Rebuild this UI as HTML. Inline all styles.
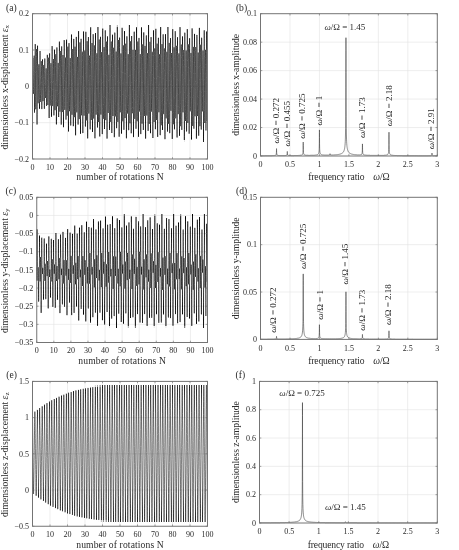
<!DOCTYPE html><html><head><meta charset="utf-8"><title>figure</title>
<style>html,body{margin:0;padding:0;background:#fff}svg{display:block}.t{font-family:"Liberation Serif", "DejaVu Serif", serif;font-size:8px;fill:#2a2a2a}.l{font-family:"Liberation Serif", "DejaVu Serif", serif;font-size:9.6px;fill:#2a2a2a}.a{font-family:"Liberation Serif", "DejaVu Serif", serif;font-size:9px;fill:#2a2a2a}.gr{stroke:#e2e2e2;stroke-width:0.6}.tk{stroke:#666;stroke-width:0.6}.box{fill:none;stroke:#747474;stroke-width:1}.sig{fill:none;stroke:#000;stroke-width:0.5;stroke-linejoin:round}.sp{fill:none;stroke:#3a3a3a;stroke-width:0.58;stroke-linejoin:round}</style></head><body>
<svg width="459" height="550" viewBox="0 0 459 550">
<rect width="459" height="550" fill="#fff"/>
<defs><filter id="sh" x="0" y="0" width="1" height="1" filterUnits="objectBoundingBox" color-interpolation-filters="sRGB"><feConvolveMatrix order="3 1" kernelMatrix="-0.2 1.4 -0.2" divisor="1" edgeMode="duplicate" preserveAlpha="false"/></filter><filter id="sh2" x="0" y="0" width="1" height="1" filterUnits="objectBoundingBox" color-interpolation-filters="sRGB"><feConvolveMatrix order="3 1" kernelMatrix="-0.15 1.3 -0.15" divisor="1" edgeMode="duplicate" preserveAlpha="false"/></filter></defs>
<line x1="50.00" y1="13.7" x2="50.00" y2="159.0" class="gr"/>
<line x1="67.50" y1="13.7" x2="67.50" y2="159.0" class="gr"/>
<line x1="85.00" y1="13.7" x2="85.00" y2="159.0" class="gr"/>
<line x1="102.50" y1="13.7" x2="102.50" y2="159.0" class="gr"/>
<line x1="120.00" y1="13.7" x2="120.00" y2="159.0" class="gr"/>
<line x1="137.50" y1="13.7" x2="137.50" y2="159.0" class="gr"/>
<line x1="155.00" y1="13.7" x2="155.00" y2="159.0" class="gr"/>
<line x1="172.50" y1="13.7" x2="172.50" y2="159.0" class="gr"/>
<line x1="190.00" y1="13.7" x2="190.00" y2="159.0" class="gr"/>
<line x1="32.5" y1="122.67" x2="207.5" y2="122.67" class="gr"/>
<line x1="32.5" y1="86.35" x2="207.5" y2="86.35" class="gr"/>
<line x1="32.5" y1="50.02" x2="207.5" y2="50.02" class="gr"/>
<polyline points="32.50,74.2 32.55,70.6 32.60,67.0 32.65,63.7 32.69,60.9 32.74,58.9 32.79,57.9 32.84,58.0 32.89,59.2 32.94,61.4 32.99,64.6 33.03,68.5 33.08,72.9 33.13,77.6 33.18,82.0 33.23,86.1 33.28,89.5 33.33,92.0 33.38,93.6 33.42,94.0 33.47,93.4 33.52,91.8 33.57,89.4 33.62,86.3 33.67,82.8 33.72,78.8 33.76,74.7 33.81,70.5 33.86,66.5 33.91,62.8 33.96,59.6 34.01,57.1 34.06,55.7 34.10,55.6 34.15,57.1 34.20,60.2 34.25,65.1 34.30,71.6 34.35,79.2 34.40,87.2 34.44,95.1 34.49,102.1 34.54,107.7 34.59,111.4 34.64,112.6 34.69,111.4 34.74,107.7 34.78,101.7 34.83,94.0 34.88,85.2 34.93,75.8 34.98,66.7 35.03,58.5 35.08,51.7 35.12,46.9 35.17,44.3 35.22,44.1 35.27,46.3 35.32,50.6 35.37,56.7 35.42,64.1 35.47,72.4 35.51,81.0 35.56,89.1 35.61,96.4 35.66,102.3 35.71,106.6 35.76,108.9 35.81,109.3 35.85,107.7 35.90,104.5 35.95,99.9 36.00,94.2 36.05,87.7 36.10,81.0 36.15,74.2 36.19,67.7 36.24,61.7 36.29,56.6 36.34,52.6 36.39,49.9 36.44,48.9 36.49,49.6 36.53,52.3 36.58,56.9 36.63,63.4 36.68,71.5 36.73,80.8 36.78,90.8 36.83,100.6 36.88,109.7 36.92,117.0 36.97,122.1 37.02,124.5 37.07,124.1 37.12,120.7 37.17,114.7 37.22,106.6 37.26,96.9 37.31,86.5 37.36,76.1 37.41,66.4 37.46,58.1 37.51,51.6 37.56,47.4 37.60,45.7 37.65,46.3 37.70,49.2 37.75,54.0 37.80,60.3 37.85,67.6 37.90,75.2 37.94,82.7 37.99,89.6 38.04,95.3 38.09,99.6 38.14,102.3 38.19,103.3 38.24,102.8 38.28,100.9 38.33,97.9 38.38,94.1 38.43,89.9 38.48,85.4 38.53,81.0 38.58,76.8 38.62,73.1 38.67,69.8 38.72,67.2 38.77,65.4 38.82,64.4 38.87,64.3 38.92,65.4 38.97,67.6 39.01,71.0 39.06,75.5 39.11,80.7 39.16,86.6 39.21,92.5 39.26,98.2 39.31,103.0 39.35,106.6 39.40,108.6 39.45,108.8 39.50,107.0 39.55,103.5 39.60,98.4 39.65,92.0 39.69,84.7 39.74,77.2 39.79,69.9 39.84,63.2 39.89,57.8 39.94,53.8 39.99,51.5 40.03,51.0 40.08,52.3 40.13,55.3 40.18,59.6 40.23,65.1 40.28,71.2 40.33,77.7 40.38,83.9 40.42,89.7 40.47,94.6 40.52,98.3 40.57,100.8 40.62,101.9 40.67,101.8 40.72,100.5 40.76,98.1 40.81,95.0 40.86,91.2 40.91,87.1 40.96,82.7 41.01,78.3 41.06,74.1 41.10,70.1 41.15,66.7 41.20,63.9 41.25,62.0 41.30,61.1 41.35,61.5 41.40,63.3 41.44,66.5 41.49,70.9 41.54,76.4 41.59,82.6 41.64,89.0 41.69,95.3 41.74,100.9 41.78,105.3 41.83,108.1 41.88,109.1 41.93,108.2 41.98,105.5 42.03,101.2 42.08,95.5 42.12,89.1 42.17,82.3 42.22,75.7 42.27,69.8 42.32,64.9 42.37,61.4 42.42,59.6 42.47,59.4 42.51,60.8 42.56,63.8 42.61,68.0 42.66,73.1 42.71,78.7 42.76,84.3 42.81,89.6 42.85,94.2 42.90,97.8 42.95,100.1 43.00,101.2 43.05,100.9 43.10,99.5 43.15,97.0 43.19,93.8 43.24,90.0 43.29,85.9 43.34,81.8 43.39,77.8 43.44,74.1 43.49,70.8 43.53,68.2 43.58,66.3 43.63,65.2 43.68,65.1 43.73,66.1 43.78,68.1 43.83,71.3 43.88,75.4 43.92,80.4 43.97,85.9 44.02,91.6 44.07,97.0 44.12,101.8 44.17,105.6 44.22,108.0 44.26,108.8 44.31,107.9 44.36,105.4 44.41,101.3 44.46,96.1 44.51,90.0 44.56,83.6 44.60,77.2 44.65,71.3 44.70,66.2 44.75,62.4 44.80,59.7 44.85,58.5 44.90,58.9 44.94,60.6 44.99,63.6 45.04,67.7 45.09,72.4 45.14,77.5 45.19,82.6 45.24,87.4 45.28,91.4 45.33,94.6 45.38,96.8 45.43,97.9 45.48,98.0 45.53,97.2 45.58,95.5 45.62,93.2 45.67,90.5 45.72,87.6 45.77,84.5 45.82,81.3 45.87,78.3 45.92,75.5 45.97,72.9 46.01,70.8 46.06,69.2 46.11,68.4 46.16,68.4 46.21,69.5 46.26,71.7 46.31,74.9 46.35,79.1 46.40,83.9 46.45,89.1 46.50,94.2 46.55,98.9 46.60,102.6 46.65,105.0 46.69,105.9 46.74,105.1 46.79,102.6 46.84,98.5 46.89,93.2 46.94,86.9 46.99,80.2 47.03,73.5 47.08,67.3 47.13,62.0 47.18,58.0 47.23,55.6 47.28,54.8 47.33,55.9 47.38,58.6 47.42,62.7 47.47,68.1 47.52,74.2 47.57,80.7 47.62,87.1 47.67,93.0 47.72,97.9 47.76,101.7 47.81,104.0 47.86,105.0 47.91,104.5 47.96,102.7 48.01,99.7 48.06,95.9 48.10,91.3 48.15,86.4 48.20,81.2 48.25,76.1 48.30,71.1 48.35,66.6 48.40,62.8 48.44,59.8 48.49,58.0 48.54,57.6 48.59,58.7 48.64,61.4 48.69,65.8 48.74,71.7 48.78,78.8 48.83,86.6 48.88,94.6 48.93,102.2 48.98,108.9 49.03,114.0 49.08,117.1 49.12,118.0 49.17,116.6 49.22,112.9 49.27,107.2 49.32,99.9 49.37,91.7 49.42,83.0 49.47,74.6 49.51,67.0 49.56,60.7 49.61,56.2 49.66,53.7 49.71,53.3 49.76,55.1 49.81,58.8 49.85,64.1 49.90,70.6 49.95,77.7 50.00,84.8 50.05,91.5 50.10,97.2 50.15,101.6 50.19,104.5 50.24,105.6 50.29,105.2 50.34,103.4 50.39,100.4 50.44,96.5 50.49,92.0 50.53,87.3 50.58,82.5 50.63,77.9 50.68,73.7 50.73,70.0 50.78,66.9 50.83,64.6 50.88,63.3 50.92,63.2 50.97,64.3 51.02,66.7 51.07,70.5 51.12,75.6 51.17,81.7 51.22,88.5 51.26,95.6 51.31,102.4 51.36,108.4 51.41,113.0 51.46,115.9 51.51,116.7 51.56,115.2 51.60,111.6 51.65,105.9 51.70,98.6 51.75,90.2 51.80,81.3 51.85,72.3 51.90,64.0 51.94,56.8 51.99,51.2 52.04,47.6 52.09,46.1 52.14,46.7 52.19,49.5 52.24,54.1 52.28,60.2 52.33,67.3 52.38,74.9 52.43,82.5 52.48,89.6 52.53,95.7 52.58,100.6 52.62,104.0 52.67,105.9 52.72,106.2 52.77,105.2 52.82,103.0 52.87,99.8 52.92,95.9 52.97,91.4 53.01,86.6 53.06,81.7 53.11,76.7 53.16,71.9 53.21,67.5 53.26,63.7 53.31,60.9 53.35,59.2 53.40,59.0 53.45,60.4 53.50,63.5 53.55,68.3 53.60,74.5 53.65,81.7 53.69,89.4 53.74,97.1 53.79,104.1 53.84,109.8 53.89,113.6 53.94,115.4 53.99,114.8 54.03,111.8 54.08,106.7 54.13,99.9 54.18,91.8 54.23,83.0 54.28,74.2 54.33,66.1 54.38,59.1 54.42,53.9 54.47,50.7 54.52,49.7 54.57,51.1 54.62,54.7 54.67,60.2 54.72,67.1 54.76,74.9 54.81,83.1 54.86,91.0 54.91,98.0 54.96,103.7 55.01,107.7 55.06,109.9 55.10,110.2 55.15,108.8 55.20,105.8 55.25,101.5 55.30,96.2 55.35,90.4 55.40,84.2 55.44,78.0 55.49,72.0 55.54,66.5 55.59,61.7 55.64,57.9 55.69,55.3 55.74,54.2 55.78,54.7 55.83,57.1 55.88,61.3 55.93,67.3 55.98,74.8 56.03,83.3 56.08,92.5 56.12,101.6 56.17,109.9 56.22,116.8 56.27,121.8 56.32,124.4 56.37,124.4 56.42,121.7 56.47,116.5 56.51,109.3 56.56,100.4 56.61,90.6 56.66,80.5 56.71,70.8 56.76,62.2 56.81,55.2 56.85,50.2 56.90,47.6 56.95,47.4 57.00,49.5 57.05,53.9 57.10,59.9 57.15,67.2 57.19,75.1 57.24,83.0 57.29,90.3 57.34,96.7 57.39,101.6 57.44,104.9 57.49,106.4 57.53,106.4 57.58,104.9 57.63,102.3 57.68,98.8 57.73,94.6 57.78,90.2 57.83,85.6 57.88,81.0 57.92,76.6 57.97,72.5 58.02,68.9 58.07,66.0 58.12,63.9 58.17,62.9 58.22,63.3 58.26,65.1 58.31,68.4 58.36,73.1 58.41,79.2 58.46,86.1 58.51,93.5 58.56,100.8 58.60,107.3 58.65,112.4 58.70,115.8 58.75,117.0 58.80,115.8 58.85,112.3 58.90,106.6 58.94,99.0 58.99,90.2 59.04,80.5 59.09,70.8 59.14,61.7 59.19,53.7 59.24,47.5 59.28,43.3 59.33,41.6 59.38,42.4 59.43,45.6 59.48,51.0 59.53,58.1 59.58,66.5 59.62,75.4 59.67,84.4 59.72,92.8 59.77,100.0 59.82,105.6 59.87,109.5 59.92,111.5 59.97,111.7 60.01,110.1 60.06,107.1 60.11,102.8 60.16,97.6 60.21,91.7 60.26,85.3 60.31,78.7 60.35,72.2 60.40,66.0 60.45,60.4 60.50,55.8 60.55,52.5 60.60,50.9 60.65,51.2 60.69,53.7 60.74,58.4 60.79,65.0 60.84,73.3 60.89,82.7 60.94,92.6 60.99,102.3 61.03,110.9 61.08,117.9 61.13,122.6 61.18,124.6 61.23,123.8 61.28,120.1 61.33,114.0 61.38,105.8 61.42,96.1 61.47,85.6 61.52,75.2 61.57,65.6 61.62,57.4 61.67,51.2 61.72,47.5 61.76,46.4 61.81,48.1 61.86,52.3 61.91,58.7 61.96,66.6 62.01,75.5 62.06,84.5 62.10,93.1 62.15,100.6 62.20,106.4 62.25,110.4 62.30,112.2 62.35,111.9 62.40,109.8 62.44,106.1 62.49,101.2 62.54,95.5 62.59,89.2 62.64,82.9 62.69,76.7 62.74,70.8 62.78,65.5 62.83,61.1 62.88,57.7 62.93,55.6 62.98,55.0 63.03,56.2 63.08,59.2 63.12,64.0 63.17,70.6 63.22,78.6 63.27,87.5 63.32,96.9 63.37,106.1 63.42,114.3 63.47,120.9 63.51,125.3 63.56,127.2 63.61,126.4 63.66,122.8 63.71,116.6 63.76,108.3 63.81,98.3 63.85,87.4 63.90,76.2 63.95,65.6 64.00,56.1 64.05,48.4 64.10,43.0 64.15,40.2 64.19,40.1 64.24,42.6 64.29,47.5 64.34,54.4 64.39,62.6 64.44,71.6 64.49,80.7 64.53,89.2 64.58,96.7 64.63,102.6 64.68,106.8 64.73,109.2 64.78,109.9 64.83,108.9 64.88,106.7 64.92,103.4 64.97,99.2 65.02,94.5 65.07,89.3 65.12,83.9 65.17,78.5 65.22,73.1 65.26,68.1 65.31,63.7 65.36,60.2 65.41,58.1 65.46,57.5 65.51,58.8 65.56,61.9 65.60,67.0 65.65,73.7 65.70,81.6 65.75,90.1 65.80,98.7 65.85,106.6 65.90,113.0 65.94,117.6 65.99,119.7 66.04,119.2 66.09,116.0 66.14,110.4 66.19,102.5 66.24,93.1 66.28,82.7 66.33,72.1 66.38,62.0 66.43,53.1 66.48,46.1 66.53,41.5 66.58,39.7 66.62,40.6 66.67,44.4 66.72,50.6 66.77,58.8 66.82,68.3 66.87,78.4 66.92,88.3 66.97,97.4 67.01,105.0 67.06,110.7 67.11,114.3 67.16,115.7 67.21,115.0 67.26,112.3 67.31,108.0 67.35,102.4 67.40,95.8 67.45,88.6 67.50,81.1 67.55,73.5 67.60,66.3 67.65,59.7 67.69,54.0 67.74,49.8 67.79,47.2 67.84,46.6 67.89,48.3 67.94,52.4 67.99,58.8 68.03,67.1 68.08,77.1 68.13,88.0 68.18,99.1 68.23,109.6 68.28,118.7 68.33,125.7 68.38,130.1 68.42,131.5 68.47,129.8 68.52,125.1 68.57,117.8 68.62,108.3 68.67,97.3 68.72,85.7 68.76,74.2 68.81,63.6 68.86,54.7 68.91,48.0 68.96,44.1 69.01,43.1 69.06,45.0 69.10,49.5 69.15,56.3 69.20,64.7 69.25,74.0 69.30,83.4 69.35,92.2 69.40,99.7 69.44,105.6 69.49,109.5 69.54,111.3 69.59,111.1 69.64,109.2 69.69,105.9 69.74,101.5 69.78,96.3 69.83,90.8 69.88,85.1 69.93,79.4 69.98,74.1 70.03,69.1 70.08,64.8 70.12,61.4 70.17,59.1 70.22,58.1 70.27,58.8 70.32,61.3 70.37,65.5 70.42,71.5 70.47,79.0 70.51,87.4 70.56,96.4 70.61,105.1 70.66,113.0 70.71,119.4 70.76,123.7 70.81,125.5 70.85,124.5 70.90,120.8 70.95,114.6 71.00,106.0 71.05,95.8 71.10,84.5 71.15,72.8 71.19,61.6 71.24,51.6 71.29,43.4 71.34,37.6 71.39,34.6 71.44,34.5 71.49,37.4 71.53,42.9 71.58,50.6 71.63,59.9 71.68,70.1 71.73,80.4 71.78,90.2 71.83,98.8 71.88,105.8 71.92,110.8 71.97,113.8 72.02,114.8 72.07,114.0 72.12,111.5 72.17,107.7 72.22,102.7 72.26,96.8 72.31,90.3 72.36,83.3 72.41,76.2 72.46,69.1 72.51,62.5 72.56,56.8 72.60,52.4 72.65,49.7 72.70,49.0 72.75,50.7 72.80,54.8 72.85,61.1 72.90,69.4 72.94,79.2 72.99,89.7 73.04,100.1 73.09,109.7 73.14,117.6 73.19,123.3 73.24,126.2 73.28,126.1 73.33,122.9 73.38,116.9 73.43,108.3 73.48,97.9 73.53,86.4 73.58,74.6 73.62,63.3 73.67,53.5 73.72,45.8 73.77,40.8 73.82,38.9 73.87,40.2 73.92,44.5 73.97,51.5 74.01,60.5 74.06,70.9 74.11,81.6 74.16,92.0 74.21,101.2 74.26,108.7 74.31,114.0 74.35,116.8 74.40,117.3 74.45,115.5 74.50,111.8 74.55,106.5 74.60,100.0 74.65,92.7 74.69,85.1 74.74,77.3 74.79,69.7 74.84,62.7 74.89,56.6 74.94,51.7 74.99,48.3 75.03,46.7 75.08,47.3 75.13,50.3 75.18,55.5 75.23,63.0 75.28,72.3 75.33,83.0 75.38,94.4 75.42,105.6 75.47,116.0 75.52,124.8 75.57,131.2 75.62,134.8 75.67,135.3 75.72,132.6 75.76,126.8 75.81,118.3 75.86,107.7 75.91,95.6 75.96,82.9 76.01,70.4 76.06,59.0 76.10,49.4 76.15,42.3 76.20,38.0 76.25,36.9 76.30,39.0 76.35,43.9 76.40,51.1 76.44,60.1 76.49,70.1 76.54,80.1 76.59,89.6 76.64,97.9 76.69,104.5 76.74,109.1 76.78,111.8 76.83,112.4 76.88,111.4 76.93,108.9 76.98,105.3 77.03,100.8 77.08,95.7 77.12,90.2 77.17,84.4 77.22,78.6 77.27,73.0 77.32,67.7 77.37,63.1 77.42,59.5 77.47,57.3 77.51,56.8 77.56,58.3 77.61,61.8 77.66,67.2 77.71,74.5 77.76,83.0 77.81,92.2 77.85,101.4 77.90,109.9 77.95,117.0 78.00,122.1 78.05,124.6 78.10,124.2 78.15,121.0 78.19,114.9 78.24,106.4 78.29,95.9 78.34,84.1 78.39,71.8 78.44,59.9 78.49,49.2 78.53,40.4 78.58,34.2 78.63,31.1 78.68,31.3 78.73,34.7 78.78,41.1 78.83,49.9 78.88,60.5 78.92,71.9 78.97,83.4 79.02,94.1 79.07,103.5 79.12,110.9 79.17,116.0 79.22,118.8 79.26,119.2 79.31,117.5 79.36,114.0 79.41,108.8 79.46,102.3 79.51,94.9 79.56,86.8 79.60,78.3 79.65,69.9 79.70,61.8 79.75,54.5 79.80,48.6 79.85,44.4 79.90,42.4 79.94,42.9 79.99,46.1 80.04,51.9 80.09,60.2 80.14,70.4 80.19,81.9 80.24,94.0 80.28,105.8 80.33,116.4 80.38,125.0 80.43,130.9 80.48,133.8 80.53,133.3 80.58,129.5 80.62,122.6 80.67,113.1 80.72,101.7 80.77,89.1 80.82,76.4 80.87,64.3 80.92,53.9 80.97,45.8 81.01,40.7 81.06,38.8 81.11,40.3 81.16,44.9 81.21,52.2 81.26,61.5 81.31,72.0 81.35,82.7 81.40,92.8 81.45,101.6 81.50,108.5 81.55,113.1 81.60,115.4 81.65,115.4 81.69,113.3 81.74,109.5 81.79,104.4 81.84,98.3 81.89,91.6 81.94,84.7 81.99,77.8 82.03,71.2 82.08,65.0 82.13,59.7 82.18,55.5 82.23,52.7 82.28,51.6 82.33,52.4 82.38,55.4 82.42,60.5 82.47,67.6 82.52,76.4 82.57,86.3 82.62,96.8 82.67,107.2 82.72,116.7 82.76,124.5 82.81,130.2 82.86,133.1 82.91,133.0 82.96,129.9 83.01,123.8 83.06,115.0 83.10,104.2 83.15,91.8 83.20,78.8 83.25,66.0 83.30,54.3 83.35,44.4 83.40,37.0 83.44,32.6 83.49,31.5 83.54,33.6 83.59,38.8 83.64,46.5 83.69,56.1 83.74,66.7 83.78,77.6 83.83,88.0 83.88,97.2 83.93,104.8 83.98,110.5 84.03,114.1 84.08,115.7 84.12,115.4 84.17,113.5 84.22,110.2 84.27,105.7 84.32,100.3 84.37,94.1 84.42,87.3 84.47,80.2 84.51,73.0 84.56,66.1 84.61,60.0 84.66,55.0 84.71,51.7 84.76,50.5 84.81,51.5 84.85,55.0 84.90,60.7 84.95,68.6 85.00,78.0 85.05,88.2 85.10,98.6 85.15,108.4 85.19,116.7 85.24,122.8 85.29,126.2 85.34,126.6 85.39,123.9 85.44,118.0 85.49,109.5 85.53,98.7 85.58,86.5 85.63,73.7 85.68,61.2 85.73,50.0 85.78,40.9 85.83,34.7 85.88,31.8 85.92,32.3 85.97,36.4 86.02,43.5 86.07,53.1 86.12,64.3 86.17,76.2 86.22,88.0 86.26,98.7 86.31,107.7 86.36,114.5 86.41,118.8 86.46,120.5 86.51,119.7 86.56,116.8 86.60,111.9 86.65,105.6 86.70,98.1 86.75,89.8 86.80,81.1 86.85,72.3 86.90,63.9 86.94,56.1 86.99,49.6 87.04,44.6 87.09,41.7 87.14,41.2 87.19,43.3 87.24,48.0 87.28,55.3 87.33,64.9 87.38,76.1 87.43,88.3 87.48,100.7 87.53,112.5 87.58,122.8 87.62,130.9 87.67,136.3 87.72,138.4 87.77,137.1 87.82,132.5 87.87,124.8 87.92,114.5 87.97,102.4 88.01,89.2 88.06,75.9 88.11,63.4 88.16,52.7 88.21,44.4 88.26,39.1 88.31,37.1 88.35,38.6 88.40,43.2 88.45,50.4 88.50,59.6 88.55,69.9 88.60,80.4 88.65,90.2 88.69,98.9 88.74,105.7 88.79,110.4 88.84,113.0 88.89,113.6 88.94,112.3 88.99,109.4 89.03,105.4 89.08,100.5 89.13,95.0 89.18,89.0 89.23,82.9 89.28,76.7 89.33,70.8 89.38,65.5 89.42,60.9 89.47,57.5 89.52,55.6 89.57,55.5 89.62,57.5 89.67,61.5 89.72,67.5 89.76,75.3 89.81,84.3 89.86,94.0 89.91,103.7 89.96,112.8 90.01,120.5 90.06,126.1 90.10,129.2 90.15,129.4 90.20,126.5 90.25,120.7 90.30,112.1 90.35,101.3 90.40,88.8 90.44,75.6 90.49,62.5 90.54,50.4 90.59,40.2 90.64,32.6 90.69,28.2 90.74,27.3 90.78,29.9 90.83,35.7 90.88,44.2 90.93,54.7 90.98,66.3 91.03,78.3 91.08,89.7 91.12,99.8 91.17,108.2 91.22,114.5 91.27,118.4 91.32,120.1 91.37,119.7 91.42,117.3 91.47,113.2 91.51,107.6 91.56,100.9 91.61,93.1 91.66,84.7 91.71,76.1 91.76,67.4 91.81,59.4 91.85,52.5 91.90,47.1 91.95,43.8 92.00,43.0 92.05,44.9 92.10,49.5 92.15,56.7 92.19,66.1 92.24,77.0 92.29,88.8 92.34,100.5 92.39,111.4 92.44,120.7 92.49,127.5 92.53,131.4 92.58,132.0 92.63,129.2 92.68,123.1 92.73,114.1 92.78,102.8 92.83,90.0 92.88,76.7 92.92,63.7 92.97,52.3 93.02,43.1 93.07,36.9 93.12,34.2 93.17,35.2 93.22,39.6 93.26,47.1 93.31,56.8 93.36,68.0 93.41,79.7 93.46,91.0 93.51,101.0 93.56,109.0 93.60,114.7 93.65,117.9 93.70,118.6 93.75,116.9 93.80,113.3 93.85,108.0 93.90,101.4 93.94,94.0 93.99,86.1 94.04,78.0 94.09,70.1 94.14,62.7 94.19,56.1 94.24,50.8 94.28,47.0 94.33,45.3 94.38,45.8 94.43,48.7 94.48,54.0 94.53,61.6 94.58,71.1 94.62,82.0 94.67,93.6 94.72,105.2 94.77,116.0 94.82,125.4 94.87,132.5 94.92,137.0 94.97,138.3 95.01,136.4 95.06,131.3 95.11,123.1 95.16,112.5 95.21,100.1 95.26,86.6 95.31,73.0 95.35,60.3 95.40,49.2 95.45,40.7 95.50,35.2 95.55,33.1 95.60,34.4 95.65,38.9 95.69,46.2 95.74,55.4 95.79,65.8 95.84,76.5 95.89,86.8 95.94,96.0 95.99,103.6 96.03,109.3 96.08,112.9 96.13,114.7 96.18,114.6 96.23,113.0 96.28,110.0 96.33,105.9 96.38,100.8 96.42,95.0 96.47,88.6 96.52,81.8 96.57,75.0 96.62,68.4 96.67,62.6 96.72,57.8 96.76,54.6 96.81,53.3 96.86,54.1 96.91,57.3 96.96,62.7 97.01,70.0 97.06,78.9 97.10,88.7 97.15,98.7 97.20,108.3 97.25,116.5 97.30,122.9 97.35,126.7 97.40,127.5 97.44,125.2 97.49,119.8 97.54,111.5 97.59,100.7 97.64,88.2 97.69,74.8 97.74,61.5 97.78,49.2 97.83,38.9 97.88,31.5 97.93,27.4 97.98,27.0 98.03,30.3 98.08,36.9 98.12,46.2 98.17,57.5 98.22,69.9 98.27,82.3 98.32,94.0 98.37,104.1 98.42,112.2 98.47,118.0 98.51,121.2 98.56,122.0 98.61,120.4 98.66,116.7 98.71,111.3 98.76,104.4 98.81,96.3 98.85,87.4 98.90,78.2 98.95,68.9 99.00,60.1 99.05,52.2 99.10,45.9 99.15,41.5 99.19,39.5 99.24,40.2 99.29,43.7 99.34,49.9 99.39,58.6 99.44,69.2 99.49,81.2 99.53,93.7 99.58,105.9 99.63,117.0 99.68,126.2 99.73,132.8 99.78,136.4 99.83,136.5 99.88,133.3 99.92,126.7 99.97,117.3 100.02,105.6 100.07,92.6 100.12,79.0 100.17,66.0 100.22,54.6 100.26,45.5 100.31,39.4 100.36,36.8 100.41,37.8 100.46,42.1 100.51,49.3 100.56,58.5 100.60,69.0 100.65,79.8 100.70,90.1 100.75,99.1 100.80,106.2 100.85,111.3 100.90,114.0 100.94,114.6 100.99,113.2 101.04,110.1 101.09,105.7 101.14,100.2 101.19,94.1 101.24,87.4 101.28,80.6 101.33,73.9 101.38,67.5 101.43,61.8 101.48,57.1 101.53,53.7 101.58,52.1 101.62,52.3 101.67,54.7 101.72,59.2 101.77,65.8 101.82,74.1 101.87,83.6 101.92,93.9 101.97,104.3 102.01,114.0 102.06,122.5 102.11,128.9 102.16,133.0 102.21,134.1 102.26,132.1 102.31,127.1 102.35,119.1 102.40,108.6 102.45,96.2 102.50,82.7 102.55,69.0 102.60,56.1 102.65,44.9 102.69,36.3 102.74,30.7 102.79,28.6 102.84,30.1 102.89,34.9 102.94,42.5 102.99,52.2 103.03,63.2 103.08,74.7 103.13,85.9 103.18,96.0 103.23,104.5 103.28,111.2 103.33,115.8 103.38,118.3 103.42,118.9 103.47,117.6 103.52,114.6 103.57,110.2 103.62,104.4 103.67,97.5 103.72,89.9 103.76,81.7 103.81,73.4 103.86,65.5 103.91,58.4 103.96,52.6 104.01,48.7 104.06,47.1 104.10,47.9 104.15,51.3 104.20,57.2 104.25,65.2 104.30,74.9 104.35,85.6 104.40,96.6 104.44,107.0 104.49,116.2 104.54,123.2 104.59,127.7 104.64,129.0 104.69,127.1 104.74,121.8 104.78,113.5 104.83,102.6 104.88,90.0 104.93,76.5 104.98,63.1 105.03,50.9 105.08,40.9 105.12,33.9 105.17,30.3 105.22,30.5 105.27,34.4 105.32,41.5 105.37,51.2 105.42,62.6 105.47,74.8 105.51,86.8 105.56,97.7 105.61,106.8 105.66,113.8 105.71,118.2 105.76,120.1 105.81,119.6 105.85,116.8 105.90,112.2 105.95,105.9 106.00,98.5 106.05,90.2 106.10,81.4 106.15,72.6 106.19,64.0 106.24,56.2 106.29,49.7 106.34,44.8 106.39,42.0 106.44,41.5 106.49,43.6 106.53,48.3 106.58,55.4 106.63,64.7 106.68,75.5 106.73,87.3 106.78,99.4 106.83,111.0 106.88,121.4 106.92,129.8 106.97,135.7 107.02,138.6 107.07,138.2 107.12,134.4 107.17,127.5 107.22,117.9 107.26,106.0 107.31,92.8 107.36,79.2 107.41,66.1 107.46,54.6 107.51,45.4 107.56,39.2 107.60,36.4 107.65,37.1 107.70,41.0 107.75,47.6 107.80,56.3 107.85,66.3 107.90,76.6 107.94,86.5 107.99,95.3 108.04,102.5 108.09,108.0 108.14,111.4 108.19,113.0 108.24,112.8 108.28,111.1 108.33,108.0 108.38,103.9 108.43,98.9 108.48,93.2 108.53,86.9 108.58,80.5 108.62,74.0 108.67,68.0 108.72,62.6 108.77,58.4 108.82,55.7 108.87,54.8 108.92,55.9 108.97,59.2 109.01,64.6 109.06,71.7 109.11,80.3 109.16,89.9 109.21,99.7 109.26,109.1 109.31,117.5 109.35,124.1 109.40,128.4 109.45,129.9 109.50,128.3 109.55,123.5 109.60,115.7 109.65,105.3 109.69,92.9 109.74,79.3 109.79,65.4 109.84,52.4 109.89,41.2 109.94,32.6 109.99,27.4 110.03,25.8 110.08,27.9 110.13,33.4 110.18,41.9 110.23,52.5 110.28,64.4 110.33,76.7 110.38,88.6 110.42,99.3 110.47,108.2 110.52,115.1 110.57,119.7 110.62,121.9 110.67,121.9 110.72,119.7 110.76,115.6 110.81,109.9 110.86,102.7 110.91,94.4 110.96,85.3 111.01,76.0 111.06,66.8 111.10,58.3 111.15,51.0 111.20,45.5 111.25,42.2 111.30,41.5 111.35,43.5 111.40,48.2 111.44,55.3 111.49,64.6 111.54,75.5 111.59,87.2 111.64,99.0 111.69,110.1 111.74,119.7 111.78,127.1 111.83,131.6 111.88,133.0 111.93,130.9 111.98,125.4 112.03,116.9 112.08,105.8 112.12,93.1 112.17,79.5 112.22,66.3 112.27,54.3 112.32,44.6 112.37,37.9 112.42,34.7 112.47,35.2 112.51,39.2 112.56,46.2 112.61,55.5 112.66,66.3 112.71,77.5 112.76,88.3 112.81,98.0 112.85,105.9 112.90,111.6 112.95,115.0 113.00,116.0 113.05,115.0 113.10,112.0 113.15,107.5 113.19,101.7 113.24,94.9 113.29,87.5 113.34,79.9 113.39,72.3 113.44,65.0 113.49,58.6 113.53,53.3 113.58,49.5 113.63,47.6 113.68,47.8 113.73,50.2 113.78,54.9 113.83,61.7 113.88,70.2 113.92,80.2 113.97,91.0 114.02,102.0 114.07,112.6 114.12,122.0 114.17,129.6 114.22,134.8 114.26,137.2 114.31,136.5 114.36,132.6 114.41,125.6 114.46,115.8 114.51,103.8 114.56,90.5 114.60,76.7 114.65,63.4 114.70,51.6 114.75,42.1 114.80,35.7 114.85,32.6 114.90,33.1 114.94,36.8 114.99,43.4 115.04,52.2 115.09,62.3 115.14,73.0 115.19,83.5 115.24,93.1 115.28,101.3 115.33,107.9 115.38,112.6 115.43,115.5 115.48,116.5 115.53,115.8 115.58,113.5 115.62,109.8 115.67,104.9 115.72,98.8 115.77,91.9 115.82,84.5 115.87,76.9 115.92,69.5 115.97,62.8 116.01,57.3 116.06,53.4 116.11,51.5 116.16,51.8 116.21,54.5 116.26,59.5 116.31,66.5 116.35,75.2 116.40,85.0 116.45,95.2 116.50,105.2 116.55,114.2 116.60,121.4 116.65,126.3 116.69,128.2 116.74,127.0 116.79,122.4 116.84,114.6 116.89,104.1 116.94,91.6 116.99,77.9 117.03,64.0 117.08,51.1 117.13,40.2 117.18,32.1 117.23,27.5 117.28,26.7 117.33,29.6 117.38,36.0 117.42,45.3 117.47,56.5 117.52,68.8 117.57,81.3 117.62,93.0 117.67,103.2 117.72,111.5 117.76,117.5 117.81,120.9 117.86,121.9 117.91,120.6 117.96,117.1 118.01,111.7 118.06,104.7 118.10,96.5 118.15,87.5 118.20,78.1 118.25,68.7 118.30,59.9 118.35,52.1 118.40,46.0 118.44,41.8 118.49,40.0 118.54,40.8 118.59,44.3 118.64,50.3 118.69,58.6 118.74,68.8 118.78,80.2 118.83,92.2 118.88,104.1 118.93,115.1 118.98,124.5 119.03,131.5 119.08,135.7 119.12,136.7 119.17,134.3 119.22,128.6 119.27,119.8 119.32,108.6 119.37,95.8 119.42,82.3 119.47,69.0 119.51,57.2 119.56,47.5 119.61,40.9 119.66,37.6 119.71,37.8 119.76,41.4 119.81,47.7 119.85,56.2 119.90,66.0 119.95,76.2 120.00,86.1 120.05,94.9 120.10,102.1 120.15,107.5 120.19,110.9 120.24,112.4 120.29,112.0 120.34,110.1 120.39,106.7 120.44,102.2 120.49,96.7 120.53,90.6 120.58,84.1 120.63,77.4 120.68,71.0 120.73,65.0 120.78,59.9 120.83,56.1 120.88,53.8 120.92,53.4 120.97,54.9 121.02,58.6 121.07,64.2 121.12,71.5 121.17,80.3 121.22,90.0 121.26,100.1 121.31,109.9 121.36,118.8 121.41,126.1 121.46,131.2 121.51,133.6 121.56,133.0 121.60,129.1 121.65,122.0 121.70,112.1 121.75,100.0 121.80,86.4 121.85,72.3 121.90,58.7 121.94,46.7 121.99,37.1 122.04,30.7 122.09,27.8 122.14,28.6 122.19,32.9 122.24,40.1 122.28,49.7 122.33,60.7 122.38,72.4 122.43,83.9 122.48,94.6 122.53,103.8 122.58,111.3 122.62,116.8 122.67,120.2 122.72,121.4 122.77,120.6 122.82,117.8 122.87,113.2 122.92,107.1 122.97,99.7 123.01,91.4 123.06,82.4 123.11,73.4 123.16,64.9 123.21,57.3 123.26,51.3 123.31,47.1 123.35,45.3 123.40,46.0 123.45,49.3 123.50,55.0 123.55,62.9 123.60,72.4 123.65,83.1 123.69,94.2 123.74,105.0 123.79,114.6 123.84,122.4 123.89,127.6 123.94,129.8 123.99,128.6 124.03,124.0 124.08,116.1 124.13,105.5 124.18,92.9 124.23,79.2 124.28,65.5 124.33,53.0 124.38,42.6 124.42,35.1 124.47,31.2 124.52,31.1 124.57,34.6 124.62,41.3 124.67,50.6 124.72,61.6 124.76,73.3 124.81,84.9 124.86,95.5 124.91,104.5 124.96,111.4 125.01,116.0 125.06,118.1 125.10,118.0 125.15,115.7 125.20,111.5 125.25,105.6 125.30,98.6 125.35,90.6 125.40,82.1 125.44,73.5 125.49,65.2 125.54,57.7 125.59,51.4 125.64,46.7 125.69,44.0 125.74,43.6 125.78,45.4 125.83,49.6 125.88,56.1 125.93,64.5 125.98,74.5 126.03,85.5 126.08,96.9 126.12,108.2 126.17,118.5 126.22,127.3 126.27,133.8 126.32,137.6 126.37,138.3 126.42,135.6 126.47,129.7 126.51,120.8 126.56,109.5 126.61,96.5 126.66,82.8 126.71,69.3 126.76,57.2 126.81,47.3 126.85,40.3 126.90,36.6 126.95,36.3 127.00,39.3 127.05,45.1 127.10,53.0 127.15,62.4 127.19,72.3 127.24,82.2 127.29,91.2 127.34,99.0 127.39,105.3 127.44,109.8 127.49,112.6 127.53,113.6 127.58,113.0 127.63,110.9 127.68,107.5 127.73,102.8 127.78,97.2 127.83,90.8 127.88,83.9 127.92,76.9 127.97,70.2 128.02,64.1 128.07,59.2 128.12,55.8 128.17,54.1 128.22,54.5 128.26,57.1 128.31,61.7 128.36,68.2 128.41,76.4 128.46,85.7 128.51,95.6 128.56,105.4 128.60,114.5 128.65,122.1 128.70,127.5 128.75,130.2 128.80,129.7 128.85,125.8 128.90,118.7 128.94,108.6 128.99,96.2 129.04,82.3 129.09,68.0 129.14,54.4 129.19,42.5 129.24,33.3 129.28,27.4 129.33,25.3 129.38,27.1 129.43,32.3 129.48,40.6 129.53,51.2 129.58,63.1 129.62,75.5 129.67,87.6 129.72,98.7 129.77,108.0 129.82,115.4 129.87,120.4 129.92,123.0 129.97,123.3 130.01,121.2 130.06,117.0 130.11,111.0 130.16,103.5 130.21,94.7 130.26,85.3 130.31,75.6 130.35,66.1 130.40,57.6 130.45,50.4 130.50,45.0 130.55,41.9 130.60,41.2 130.65,43.2 130.69,47.7 130.74,54.6 130.79,63.6 130.84,74.0 130.89,85.5 130.94,97.1 130.99,108.2 131.03,118.1 131.08,126.0 131.13,131.2 131.18,133.3 131.23,132.0 131.28,127.2 131.33,119.2 131.38,108.6 131.42,96.0 131.47,82.5 131.52,69.1 131.57,56.9 131.62,46.9 131.67,39.8 131.72,36.1 131.76,36.0 131.81,39.3 131.86,45.5 131.91,54.1 131.96,64.0 132.01,74.5 132.06,84.8 132.10,94.1 132.15,101.9 132.20,107.8 132.25,111.6 132.30,113.4 132.35,113.1 132.40,111.1 132.44,107.4 132.49,102.4 132.54,96.3 132.59,89.5 132.64,82.2 132.69,74.9 132.74,67.9 132.78,61.6 132.83,56.3 132.88,52.4 132.93,50.1 132.98,49.8 133.03,51.6 133.08,55.4 133.12,61.2 133.17,68.7 133.22,77.7 133.27,87.7 133.32,98.3 133.37,108.7 133.42,118.5 133.47,126.8 133.51,133.0 133.56,136.6 133.61,137.1 133.66,134.3 133.71,128.2 133.76,119.1 133.81,107.5 133.85,94.1 133.90,80.0 133.95,66.2 134.00,53.7 134.05,43.4 134.10,36.0 134.15,32.1 134.19,31.7 134.24,34.7 134.29,40.6 134.34,48.9 134.39,58.8 134.44,69.5 134.49,80.3 134.53,90.5 134.58,99.5 134.63,107.1 134.68,113.0 134.73,116.9 134.78,118.9 134.83,118.9 134.88,117.1 134.92,113.5 134.97,108.4 135.02,101.9 135.07,94.4 135.12,86.3 135.17,77.9 135.22,69.9 135.26,62.6 135.31,56.6 135.36,52.2 135.41,49.9 135.46,49.8 135.51,52.1 135.56,56.7 135.60,63.4 135.65,71.9 135.70,81.7 135.75,92.1 135.80,102.5 135.85,112.1 135.90,120.2 135.94,125.9 135.99,128.8 136.04,128.4 136.09,124.4 136.14,117.1 136.19,106.8 136.24,94.3 136.28,80.4 136.33,66.3 136.38,53.0 136.43,41.7 136.48,33.3 136.53,28.4 136.58,27.3 136.62,29.9 136.67,36.0 136.72,44.9 136.77,55.8 136.82,67.9 136.87,80.1 136.92,91.6 136.97,101.9 137.01,110.2 137.06,116.3 137.11,120.1 137.16,121.3 137.21,120.2 137.26,116.8 137.31,111.5 137.35,104.6 137.40,96.4 137.45,87.4 137.50,78.1 137.55,68.8 137.60,60.3 137.65,52.8 137.69,47.0 137.74,43.1 137.79,41.5 137.84,42.2 137.89,45.4 137.94,50.9 137.99,58.5 138.03,67.9 138.08,78.7 138.13,90.1 138.18,101.7 138.23,112.6 138.28,122.3 138.33,129.9 138.38,134.9 138.42,136.8 138.47,135.3 138.52,130.4 138.57,122.4 138.62,111.8 138.67,99.2 138.72,85.7 138.76,72.4 138.81,60.2 138.86,50.0 138.91,42.7 138.96,38.6 139.01,37.9 139.06,40.4 139.10,45.8 139.15,53.3 139.20,62.2 139.25,71.8 139.30,81.3 139.35,90.1 139.40,97.8 139.44,103.8 139.49,108.2 139.54,110.8 139.59,111.6 139.64,110.8 139.69,108.5 139.74,104.7 139.78,99.9 139.83,94.1 139.88,87.7 139.93,81.0 139.98,74.3 140.03,68.0 140.08,62.5 140.12,58.2 140.17,55.3 140.22,54.1 140.27,54.8 140.32,57.5 140.37,62.1 140.42,68.6 140.47,76.7 140.51,85.9 140.56,95.9 140.61,106.0 140.66,115.6 140.71,123.8 140.76,130.0 140.81,133.6 140.85,134.1 140.90,131.2 140.95,124.8 141.00,115.3 141.05,103.3 141.10,89.5 141.15,75.0 141.19,60.8 141.24,48.1 141.29,37.9 141.34,30.8 141.39,27.3 141.44,27.5 141.49,31.3 141.53,38.2 141.58,47.5 141.63,58.6 141.68,70.4 141.73,82.3 141.78,93.5 141.83,103.5 141.88,111.8 141.92,118.0 141.97,122.0 142.02,123.7 142.07,123.1 142.12,120.3 142.17,115.4 142.22,108.9 142.26,100.9 142.31,91.9 142.36,82.5 142.41,73.1 142.46,64.2 142.51,56.5 142.56,50.4 142.60,46.2 142.65,44.3 142.70,44.9 142.75,48.0 142.80,53.4 142.85,60.9 142.90,70.2 142.94,80.8 142.99,91.9 143.04,102.8 143.09,112.9 143.14,121.2 143.19,127.1 143.24,130.0 143.28,129.6 143.33,125.5 143.38,118.1 143.43,107.9 143.48,95.4 143.53,81.9 143.58,68.2 143.62,55.5 143.67,45.0 143.72,37.3 143.77,33.0 143.82,32.4 143.87,35.4 143.92,41.4 143.97,50.0 144.01,60.2 144.06,71.2 144.11,82.2 144.16,92.5 144.21,101.3 144.26,108.3 144.31,113.1 144.35,115.7 144.40,116.1 144.45,114.4 144.50,110.7 144.55,105.4 144.60,98.8 144.65,91.3 144.69,83.2 144.74,75.0 144.79,67.1 144.84,59.9 144.89,53.9 144.94,49.4 144.99,46.7 145.03,45.9 145.08,47.3 145.13,50.8 145.18,56.3 145.23,63.7 145.28,72.7 145.33,82.9 145.38,93.8 145.42,104.9 145.47,115.4 145.52,124.7 145.57,132.0 145.62,136.8 145.67,138.6 145.72,137.0 145.76,132.0 145.81,123.8 145.86,112.9 145.91,100.1 145.96,86.3 146.01,72.6 146.06,59.9 146.10,49.2 146.15,41.3 146.20,36.7 146.25,35.4 146.30,37.3 146.35,42.2 146.40,49.3 146.44,58.1 146.49,67.9 146.54,77.8 146.59,87.3 146.64,95.9 146.69,103.3 146.74,109.0 146.78,113.0 146.83,115.2 146.88,115.6 146.93,114.2 146.98,111.1 147.03,106.6 147.08,100.8 147.12,94.0 147.17,86.6 147.22,79.1 147.27,71.8 147.32,65.2 147.37,59.7 147.42,55.6 147.47,53.3 147.51,53.1 147.56,54.9 147.61,58.9 147.66,64.9 147.71,72.7 147.76,81.9 147.81,92.0 147.85,102.3 147.90,112.1 147.95,120.5 148.00,126.9 148.05,130.6 148.10,130.9 148.15,127.8 148.19,121.1 148.24,111.2 148.29,98.8 148.34,84.8 148.39,70.2 148.44,56.2 148.49,44.0 148.53,34.4 148.58,28.2 148.63,25.7 148.68,27.1 148.73,32.0 148.78,40.0 148.83,50.3 148.88,62.1 148.92,74.5 148.97,86.7 149.02,97.9 149.07,107.6 149.12,115.3 149.17,120.7 149.22,123.6 149.26,124.0 149.31,121.9 149.36,117.6 149.41,111.4 149.46,103.5 149.51,94.5 149.56,84.9 149.60,75.2 149.65,65.8 149.70,57.5 149.75,50.6 149.80,45.4 149.85,42.5 149.90,41.8 149.94,43.6 149.99,47.7 150.04,54.1 150.09,62.4 150.14,72.3 150.19,83.3 150.24,94.8 150.28,105.9 150.33,116.1 150.38,124.5 150.43,130.4 150.48,133.2 150.53,132.7 150.58,128.7 150.62,121.4 150.67,111.2 150.72,99.1 150.77,85.8 150.82,72.5 150.87,60.2 150.92,49.9 150.97,42.4 151.01,38.0 151.06,37.1 151.11,39.4 151.16,44.6 151.21,52.0 151.26,61.0 151.31,70.7 151.35,80.4 151.40,89.5 151.45,97.4 151.50,103.7 151.55,108.3 151.60,110.9 151.65,111.7 151.69,110.6 151.74,107.9 151.79,103.6 151.84,98.2 151.89,91.9 151.94,85.0 151.99,78.0 152.03,71.1 152.08,64.8 152.13,59.5 152.18,55.3 152.23,52.6 152.28,51.7 152.33,52.5 152.38,55.3 152.42,60.0 152.47,66.6 152.52,74.7 152.57,84.2 152.62,94.5 152.67,105.0 152.72,115.3 152.76,124.4 152.81,131.6 152.86,136.4 152.91,138.0 152.96,136.2 153.01,130.8 153.06,122.2 153.10,110.8 153.15,97.4 153.20,83.0 153.25,68.7 153.30,55.5 153.35,44.5 153.40,36.4 153.44,31.6 153.49,30.4 153.54,32.6 153.59,37.9 153.64,45.8 153.69,55.5 153.74,66.3 153.78,77.5 153.83,88.4 153.88,98.4 153.93,107.0 153.98,113.9 154.03,118.8 154.08,121.5 154.12,122.0 154.17,120.3 154.22,116.6 154.27,111.0 154.32,104.0 154.37,96.0 154.42,87.2 154.47,78.4 154.51,69.9 154.56,62.3 154.61,56.0 154.66,51.4 154.71,48.7 154.76,48.3 154.81,50.2 154.85,54.4 154.90,60.8 154.95,69.0 155.00,78.7 155.05,89.3 155.10,100.0 155.15,110.2 155.19,118.9 155.24,125.4 155.29,129.0 155.34,129.2 155.39,125.8 155.44,118.9 155.49,108.9 155.53,96.5 155.58,82.7 155.63,68.6 155.68,55.4 155.73,44.0 155.78,35.5 155.83,30.3 155.88,28.8 155.92,31.0 155.97,36.6 156.02,44.9 156.07,55.2 156.12,66.6 156.17,78.4 156.22,89.7 156.26,99.8 156.31,108.2 156.36,114.6 156.41,118.5 156.46,120.1 156.51,119.2 156.56,116.1 156.60,111.0 156.65,104.3 156.70,96.3 156.75,87.5 156.80,78.5 156.85,69.6 156.90,61.5 156.94,54.5 156.99,49.0 157.04,45.3 157.09,43.6 157.14,44.0 157.19,46.6 157.24,51.3 157.28,58.0 157.33,66.6 157.38,76.5 157.43,87.4 157.48,98.7 157.53,109.8 157.58,119.8 157.62,128.1 157.67,134.0 157.72,136.9 157.77,136.3 157.82,132.4 157.87,125.1 157.92,115.0 157.97,102.8 158.01,89.4 158.06,76.0 158.11,63.4 158.16,52.8 158.21,44.7 158.26,39.6 158.31,37.8 158.35,39.1 158.40,43.3 158.45,49.7 158.50,57.8 158.55,66.9 158.60,76.3 158.65,85.3 158.69,93.6 158.74,100.6 158.79,106.1 158.84,110.0 158.89,112.0 158.94,112.3 158.99,110.8 159.03,107.7 159.08,103.2 159.13,97.6 159.18,91.2 159.23,84.3 159.28,77.4 159.33,70.8 159.38,64.8 159.42,59.9 159.47,56.3 159.52,54.4 159.57,54.2 159.62,56.0 159.67,59.8 159.72,65.5 159.76,73.1 159.81,82.1 159.86,92.2 159.91,102.7 159.96,112.9 160.01,122.0 160.06,129.3 160.10,133.9 160.15,135.2 160.20,133.0 160.25,127.1 160.30,117.9 160.35,105.9 160.40,91.9 160.44,77.2 160.49,62.7 160.54,49.6 160.59,38.8 160.64,31.2 160.69,27.2 160.74,27.0 160.78,30.3 160.83,36.8 160.88,45.9 160.93,56.9 160.98,68.9 161.03,81.1 161.08,92.8 161.12,103.4 161.17,112.3 161.22,119.1 161.27,123.5 161.32,125.4 161.37,124.8 161.42,121.8 161.47,116.6 161.51,109.6 161.56,101.2 161.61,91.9 161.66,82.2 161.71,72.7 161.76,63.9 161.81,56.3 161.85,50.2 161.90,46.1 161.95,44.1 162.00,44.5 162.05,47.1 162.10,52.1 162.15,59.2 162.19,68.1 162.24,78.4 162.29,89.4 162.34,100.5 162.39,110.9 162.44,119.7 162.49,126.2 162.53,129.8 162.58,130.0 162.63,126.6 162.68,119.8 162.73,110.0 162.78,98.0 162.83,84.8 162.88,71.4 162.92,58.9 162.97,48.2 163.02,40.3 163.07,35.6 163.12,34.3 163.17,36.4 163.22,41.5 163.26,49.0 163.31,58.2 163.36,68.4 163.41,78.8 163.46,88.7 163.51,97.4 163.56,104.6 163.60,109.9 163.65,113.1 163.70,114.2 163.75,113.2 163.80,110.2 163.85,105.5 163.90,99.5 163.94,92.4 163.99,84.8 164.04,77.1 164.09,69.6 164.14,62.8 164.19,57.0 164.24,52.5 164.28,49.6 164.33,48.3 164.38,48.9 164.43,51.5 164.48,55.9 164.53,62.3 164.58,70.3 164.62,79.9 164.67,90.4 164.72,101.5 164.77,112.3 164.82,122.3 164.87,130.6 164.92,136.4 164.97,139.2 165.01,138.6 165.06,134.4 165.11,126.8 165.16,116.3 165.21,103.6 165.26,89.7 165.31,75.6 165.35,62.4 165.40,51.0 165.45,42.2 165.50,36.5 165.55,34.2 165.60,35.1 165.65,39.0 165.69,45.4 165.74,53.8 165.79,63.5 165.84,73.7 165.89,84.0 165.94,93.6 165.99,102.1 166.03,109.0 166.08,114.2 166.13,117.3 166.18,118.4 166.23,117.4 166.28,114.5 166.33,109.8 166.38,103.7 166.42,96.5 166.47,88.7 166.52,80.7 166.57,73.0 166.62,65.9 166.67,60.0 166.72,55.4 166.76,52.6 166.81,51.7 166.86,52.9 166.91,56.3 166.96,61.9 167.01,69.5 167.06,78.6 167.10,88.9 167.15,99.6 167.20,110.0 167.25,119.2 167.30,126.3 167.35,130.6 167.40,131.6 167.44,128.9 167.49,122.6 167.54,113.0 167.59,100.7 167.64,86.8 167.69,72.2 167.74,58.3 167.78,45.9 167.83,36.2 167.88,29.8 167.93,27.0 167.98,28.0 168.03,32.4 168.08,39.9 168.12,49.8 168.17,61.3 168.22,73.5 168.27,85.6 168.32,96.9 168.37,106.8 168.42,114.8 168.47,120.4 168.51,123.4 168.56,123.9 168.61,121.8 168.66,117.4 168.71,111.0 168.76,103.1 168.81,94.1 168.85,84.7 168.90,75.2 168.95,66.3 169.00,58.3 169.05,51.7 169.10,46.8 169.15,43.8 169.19,42.9 169.24,44.2 169.29,47.7 169.34,53.4 169.39,61.0 169.44,70.3 169.49,80.8 169.53,92.0 169.58,103.3 169.63,113.7 169.68,122.7 169.73,129.3 169.78,132.9 169.83,133.2 169.88,130.0 169.92,123.5 169.97,114.0 170.02,102.4 170.07,89.5 170.12,76.4 170.17,64.0 170.22,53.4 170.26,45.3 170.31,40.1 170.36,38.1 170.41,39.1 170.46,43.0 170.51,49.2 170.56,57.1 170.60,66.0 170.65,75.4 170.70,84.4 170.75,92.7 170.80,99.8 170.85,105.3 170.90,109.0 170.94,110.8 170.99,110.7 171.04,108.9 171.09,105.4 171.14,100.5 171.19,94.7 171.24,88.1 171.28,81.3 171.33,74.5 171.38,68.2 171.43,62.6 171.48,58.1 171.53,54.8 171.58,53.0 171.62,52.9 171.67,54.7 171.72,58.4 171.77,64.0 171.82,71.5 171.87,80.6 171.92,90.9 171.97,101.8 172.01,112.6 172.06,122.6 172.11,130.8 172.16,136.4 172.21,138.9 172.26,137.8 172.31,133.1 172.35,124.8 172.40,113.5 172.45,100.1 172.50,85.5 172.55,70.8 172.60,57.2 172.65,45.6 172.69,36.7 172.74,31.2 172.79,29.2 172.84,30.8 172.89,35.6 172.94,43.1 172.99,52.7 173.03,63.7 173.08,75.4 173.13,87.0 173.18,97.9 173.23,107.4 173.28,115.1 173.33,120.7 173.38,123.8 173.42,124.4 173.47,122.6 173.52,118.6 173.57,112.7 173.62,105.2 173.67,96.7 173.72,87.7 173.76,78.6 173.81,70.0 173.86,62.2 173.91,55.8 173.96,51.0 174.01,48.1 174.06,47.3 174.10,48.8 174.15,52.6 174.20,58.5 174.25,66.5 174.30,76.1 174.35,86.7 174.40,97.7 174.44,108.2 174.49,117.3 174.54,124.4 174.59,128.5 174.64,129.3 174.69,126.4 174.74,120.0 174.78,110.5 174.83,98.6 174.88,85.2 174.93,71.5 174.98,58.5 175.03,47.2 175.08,38.6 175.12,33.1 175.17,31.2 175.22,32.7 175.27,37.4 175.32,44.8 175.37,54.2 175.42,65.0 175.47,76.2 175.51,87.1 175.56,97.1 175.61,105.7 175.66,112.2 175.71,116.5 175.76,118.4 175.81,117.9 175.85,115.1 175.90,110.3 175.95,103.9 176.00,96.3 176.05,88.0 176.10,79.5 176.15,71.3 176.19,63.6 176.24,57.0 176.29,51.7 176.34,47.9 176.39,45.9 176.44,45.7 176.49,47.4 176.53,51.2 176.58,57.0 176.63,64.6 176.68,73.8 176.73,84.4 176.78,95.6 176.83,106.9 176.88,117.5 176.92,126.5 176.97,133.2 177.02,137.0 177.07,137.5 177.12,134.3 177.17,127.8 177.22,118.2 177.26,106.4 177.31,93.2 177.36,79.7 177.41,66.8 177.46,55.5 177.51,46.5 177.56,40.3 177.60,37.2 177.65,37.3 177.70,40.2 177.75,45.6 177.80,53.0 177.85,61.8 177.90,71.3 177.94,80.8 177.99,90.0 178.04,98.1 178.09,104.9 178.14,109.9 178.19,113.0 178.24,114.2 178.28,113.3 178.33,110.6 178.38,106.4 178.43,100.8 178.48,94.3 178.53,87.3 178.58,80.1 178.62,73.2 178.67,66.8 178.72,61.3 178.77,57.1 178.82,54.4 178.87,53.4 178.92,54.4 178.97,57.4 179.01,62.6 179.06,69.8 179.11,78.8 179.16,89.1 179.21,100.0 179.26,110.8 179.31,120.7 179.35,128.6 179.40,133.9 179.45,135.8 179.50,134.1 179.55,128.6 179.60,119.6 179.65,107.7 179.69,93.9 179.74,79.1 179.79,64.5 179.84,51.2 179.89,40.3 179.94,32.3 179.99,27.8 180.03,27.1 180.08,30.0 180.13,36.1 180.18,44.9 180.23,55.7 180.28,67.8 180.33,80.2 180.38,92.3 180.42,103.3 180.47,112.7 180.52,119.8 180.57,124.4 180.62,126.3 180.67,125.6 180.72,122.3 180.76,116.8 180.81,109.5 180.86,100.9 180.91,91.6 180.96,82.0 181.01,72.7 181.06,64.2 181.10,56.8 181.15,50.9 181.20,46.7 181.25,44.5 181.30,44.5 181.35,46.6 181.40,51.0 181.44,57.5 181.49,65.9 181.54,75.9 181.59,86.8 181.64,97.9 181.69,108.5 181.74,117.8 181.78,124.9 181.83,129.0 181.88,129.9 181.93,127.3 181.98,121.2 182.03,112.2 182.08,100.9 182.12,88.2 182.17,75.3 182.22,63.0 182.27,52.3 182.32,44.0 182.37,38.6 182.42,36.4 182.47,37.3 182.51,41.1 182.56,47.4 182.61,55.5 182.66,64.8 182.71,74.6 182.76,84.3 182.81,93.1 182.85,100.7 182.90,106.6 182.95,110.6 183.00,112.4 183.05,112.2 183.10,109.9 183.15,105.9 183.19,100.5 183.24,94.1 183.29,87.1 183.34,79.8 183.39,72.8 183.44,66.2 183.49,60.5 183.53,55.8 183.58,52.3 183.63,50.3 183.68,50.0 183.73,51.5 183.78,54.9 183.83,60.3 183.88,67.6 183.92,76.7 183.97,87.1 184.02,98.4 184.07,109.7 184.12,120.4 184.17,129.5 184.22,136.2 184.26,139.9 184.31,140.1 184.36,136.5 184.41,129.4 184.46,119.2 184.51,106.7 184.56,92.7 184.60,78.4 184.65,64.7 184.70,52.6 184.75,42.9 184.80,36.2 184.85,32.7 184.90,32.7 184.94,35.7 184.99,41.6 185.04,49.8 185.09,59.6 185.14,70.4 185.19,81.4 185.24,92.0 185.28,101.6 185.33,109.6 185.38,115.7 185.43,119.5 185.48,121.0 185.53,120.1 185.58,117.1 185.62,112.2 185.67,105.8 185.72,98.3 185.77,90.2 185.82,82.0 185.87,73.9 185.92,66.6 185.97,60.3 186.01,55.3 186.06,52.0 186.11,50.5 186.16,51.3 186.21,54.2 186.26,59.4 186.31,66.7 186.35,75.9 186.40,86.3 186.45,97.3 186.50,108.0 186.55,117.7 186.60,125.3 186.65,130.1 186.69,131.5 186.74,129.2 186.79,123.3 186.84,114.1 186.89,102.3 186.94,88.7 186.99,74.6 187.03,60.9 187.08,48.7 187.13,39.0 187.18,32.3 187.23,29.1 187.28,29.5 187.33,33.3 187.38,40.2 187.42,49.4 187.47,60.4 187.52,72.2 187.57,84.2 187.62,95.5 187.67,105.5 187.72,113.6 187.76,119.3 187.81,122.4 187.86,122.9 187.91,120.9 187.96,116.5 188.01,110.3 188.06,102.6 188.10,93.9 188.15,84.9 188.20,76.0 188.25,67.5 188.30,60.0 188.35,53.7 188.40,48.8 188.44,45.6 188.49,44.3 188.54,44.9 188.59,47.5 188.64,52.3 188.69,59.2 188.74,67.8 188.78,78.0 188.83,89.1 188.88,100.4 188.93,111.3 188.98,120.7 189.03,128.0 189.08,132.5 189.12,133.7 189.17,131.4 189.22,125.7 189.27,117.0 189.32,106.0 189.37,93.6 189.42,80.7 189.47,68.2 189.51,57.2 189.56,48.3 189.61,42.0 189.66,38.6 189.71,38.2 189.76,40.7 189.81,45.6 189.85,52.6 189.90,60.9 189.95,70.1 190.00,79.5 190.05,88.4 190.10,96.3 190.15,102.8 190.19,107.6 190.24,110.5 190.29,111.4 190.34,110.3 190.39,107.4 190.44,103.1 190.49,97.6 190.53,91.3 190.58,84.7 190.63,77.9 190.68,71.5 190.73,65.5 190.78,60.5 190.83,56.5 190.88,53.9 190.92,52.9 190.97,53.7 191.02,56.5 191.07,61.5 191.12,68.5 191.17,77.5 191.22,87.9 191.26,99.2 191.31,110.6 191.36,121.2 191.41,130.1 191.46,136.4 191.51,139.5 191.56,139.0 191.60,134.6 191.65,126.6 191.70,115.6 191.75,102.2 191.80,87.6 191.85,72.8 191.90,58.8 191.94,46.7 191.99,37.3 192.04,31.1 192.09,28.4 192.14,29.4 192.19,33.7 192.24,40.9 192.28,50.6 192.33,61.8 192.38,74.0 192.43,86.3 192.48,97.8 192.53,108.0 192.58,116.3 192.62,122.1 192.67,125.4 192.72,126.0 192.77,124.0 192.82,119.6 192.87,113.4 192.92,105.7 192.97,97.0 193.01,87.9 193.06,78.9 193.11,70.3 193.16,62.6 193.21,56.1 193.26,51.1 193.31,48.0 193.35,46.8 193.40,47.8 193.45,51.1 193.50,56.6 193.55,64.2 193.60,73.6 193.65,84.1 193.69,95.2 193.74,105.9 193.79,115.4 193.84,122.8 193.89,127.4 193.94,128.7 193.99,126.4 194.03,120.7 194.08,112.0 194.13,100.8 194.18,88.2 194.23,75.0 194.28,62.4 194.33,51.4 194.38,42.6 194.42,36.6 194.47,33.9 194.52,34.4 194.57,38.0 194.62,44.3 194.67,52.8 194.72,62.7 194.76,73.3 194.81,83.9 194.86,93.9 194.91,102.5 194.96,109.3 195.01,114.0 195.06,116.3 195.10,116.3 195.15,114.0 195.20,109.7 195.25,103.9 195.30,96.9 195.35,89.2 195.40,81.4 195.44,73.7 195.49,66.5 195.54,60.1 195.59,54.8 195.64,50.7 195.69,48.0 195.74,47.0 195.78,47.8 195.83,50.5 195.88,55.4 195.93,62.2 195.98,71.0 196.03,81.3 196.08,92.6 196.12,104.2 196.17,115.3 196.22,125.1 196.27,132.7 196.32,137.3 196.37,138.6 196.42,136.2 196.47,130.4 196.51,121.4 196.56,110.0 196.61,97.0 196.66,83.3 196.71,70.0 196.76,57.9 196.81,47.9 196.85,40.5 196.90,36.1 196.95,34.9 197.00,36.7 197.05,41.3 197.10,48.2 197.15,56.9 197.19,66.8 197.24,77.1 197.29,87.2 197.34,96.5 197.39,104.4 197.44,110.4 197.49,114.4 197.53,116.2 197.58,115.8 197.63,113.3 197.68,109.2 197.73,103.6 197.78,97.0 197.83,89.8 197.88,82.4 197.92,75.2 197.97,68.4 198.02,62.5 198.07,57.6 198.12,54.2 198.17,52.5 198.22,52.9 198.26,55.4 198.31,60.2 198.36,67.2 198.41,76.1 198.46,86.6 198.51,97.8 198.56,109.1 198.60,119.3 198.65,127.7 198.70,133.4 198.75,135.7 198.80,134.3 198.85,129.1 198.90,120.5 198.94,109.0 198.99,95.5 199.04,81.0 199.09,66.6 199.14,53.4 199.19,42.3 199.24,34.1 199.28,29.2 199.33,27.9 199.38,30.2 199.43,35.9 199.48,44.3 199.53,54.9 199.58,66.9 199.62,79.5 199.67,91.8 199.72,103.0 199.77,112.5 199.82,119.7 199.87,124.4 199.92,126.2 199.97,125.3 200.01,121.8 200.06,116.3 200.11,109.0 200.16,100.6 200.21,91.5 200.26,82.3 200.31,73.5 200.35,65.3 200.40,58.1 200.45,52.2 200.50,47.9 200.55,45.3 200.60,44.6 200.65,46.1 200.69,49.8 200.74,55.7 200.79,63.6 200.84,73.2 200.89,83.9 200.94,95.1 200.99,105.9 201.03,115.5 201.08,123.1 201.13,128.0 201.18,129.6 201.23,127.8 201.28,122.7 201.33,114.7 201.38,104.3 201.42,92.4 201.47,79.9 201.52,67.8 201.57,56.9 201.62,48.0 201.67,41.7 201.72,38.2 201.76,37.7 201.81,40.1 201.86,45.0 201.91,52.0 201.96,60.5 202.01,69.9 202.06,79.6 202.10,88.8 202.15,96.9 202.20,103.5 202.25,108.3 202.30,111.0 202.35,111.5 202.40,110.0 202.44,106.8 202.49,102.1 202.54,96.3 202.59,89.8 202.64,83.0 202.69,76.2 202.74,69.8 202.78,63.9 202.83,58.7 202.88,54.6 202.93,51.8 202.98,50.5 203.03,51.0 203.08,53.5 203.12,58.1 203.17,65.0 203.22,73.8 203.27,84.3 203.32,95.8 203.37,107.7 203.42,118.9 203.47,128.7 203.51,136.1 203.56,140.5 203.61,141.2 203.66,138.2 203.71,131.6 203.76,121.7 203.81,109.3 203.85,95.3 203.90,80.8 203.95,66.6 204.00,53.9 204.05,43.3 204.10,35.7 204.15,31.3 204.19,30.3 204.24,32.8 204.29,38.3 204.34,46.4 204.39,56.5 204.44,67.9 204.49,79.8 204.53,91.3 204.58,101.7 204.63,110.5 204.68,117.2 204.73,121.3 204.78,123.0 204.83,122.1 204.88,118.9 204.92,113.8 204.97,107.2 205.02,99.6 205.07,91.4 205.12,83.0 205.17,74.9 205.22,67.3 205.26,60.7 205.31,55.4 205.36,51.7 205.41,49.8 205.46,50.0 205.51,52.5 205.56,57.4 205.60,64.5 205.65,73.5 205.70,83.9 205.75,95.0 205.80,105.9 205.85,115.8 205.90,123.6 205.94,128.7 205.99,130.5 206.04,128.8 206.09,123.4 206.14,114.9 206.19,103.8 206.24,91.1 206.28,77.5 206.33,64.3 206.38,52.4 206.43,42.7 206.48,35.7 206.53,31.9 206.58,31.5 206.62,34.5 206.67,40.4 206.72,48.9 206.77,59.2 206.82,70.6 206.87,82.3 206.92,93.5 206.97,103.5 207.01,111.6 207.06,117.4 207.11,120.7 207.16,121.3 207.21,119.5 207.26,115.4 207.31,109.5 207.35,102.3 207.40,94.3 207.45,85.9 207.50,77.6" class="sig" style="stroke-width:0.52" filter="url(#sh2)"/>
<line x1="32.50" y1="159.0" x2="32.50" y2="157.2" class="tk"/>
<line x1="32.50" y1="13.7" x2="32.50" y2="15.5" class="tk"/>
<line x1="50.00" y1="159.0" x2="50.00" y2="157.2" class="tk"/>
<line x1="50.00" y1="13.7" x2="50.00" y2="15.5" class="tk"/>
<line x1="67.50" y1="159.0" x2="67.50" y2="157.2" class="tk"/>
<line x1="67.50" y1="13.7" x2="67.50" y2="15.5" class="tk"/>
<line x1="85.00" y1="159.0" x2="85.00" y2="157.2" class="tk"/>
<line x1="85.00" y1="13.7" x2="85.00" y2="15.5" class="tk"/>
<line x1="102.50" y1="159.0" x2="102.50" y2="157.2" class="tk"/>
<line x1="102.50" y1="13.7" x2="102.50" y2="15.5" class="tk"/>
<line x1="120.00" y1="159.0" x2="120.00" y2="157.2" class="tk"/>
<line x1="120.00" y1="13.7" x2="120.00" y2="15.5" class="tk"/>
<line x1="137.50" y1="159.0" x2="137.50" y2="157.2" class="tk"/>
<line x1="137.50" y1="13.7" x2="137.50" y2="15.5" class="tk"/>
<line x1="155.00" y1="159.0" x2="155.00" y2="157.2" class="tk"/>
<line x1="155.00" y1="13.7" x2="155.00" y2="15.5" class="tk"/>
<line x1="172.50" y1="159.0" x2="172.50" y2="157.2" class="tk"/>
<line x1="172.50" y1="13.7" x2="172.50" y2="15.5" class="tk"/>
<line x1="190.00" y1="159.0" x2="190.00" y2="157.2" class="tk"/>
<line x1="190.00" y1="13.7" x2="190.00" y2="15.5" class="tk"/>
<line x1="207.50" y1="159.0" x2="207.50" y2="157.2" class="tk"/>
<line x1="207.50" y1="13.7" x2="207.50" y2="15.5" class="tk"/>
<line x1="32.5" y1="159.00" x2="34.3" y2="159.00" class="tk"/>
<line x1="207.5" y1="159.00" x2="205.7" y2="159.00" class="tk"/>
<line x1="32.5" y1="122.67" x2="34.3" y2="122.67" class="tk"/>
<line x1="207.5" y1="122.67" x2="205.7" y2="122.67" class="tk"/>
<line x1="32.5" y1="86.35" x2="34.3" y2="86.35" class="tk"/>
<line x1="207.5" y1="86.35" x2="205.7" y2="86.35" class="tk"/>
<line x1="32.5" y1="50.02" x2="34.3" y2="50.02" class="tk"/>
<line x1="207.5" y1="50.02" x2="205.7" y2="50.02" class="tk"/>
<line x1="32.5" y1="13.70" x2="34.3" y2="13.70" class="tk"/>
<line x1="207.5" y1="13.70" x2="205.7" y2="13.70" class="tk"/>
<rect x="32.5" y="13.7" width="175.00" height="145.30" class="box"/>
<text x="32.50" y="169.60" class="t" text-anchor="middle">0</text>
<text x="50.00" y="169.60" class="t" text-anchor="middle">10</text>
<text x="67.50" y="169.60" class="t" text-anchor="middle">20</text>
<text x="85.00" y="169.60" class="t" text-anchor="middle">30</text>
<text x="102.50" y="169.60" class="t" text-anchor="middle">40</text>
<text x="120.00" y="169.60" class="t" text-anchor="middle">50</text>
<text x="137.50" y="169.60" class="t" text-anchor="middle">60</text>
<text x="155.00" y="169.60" class="t" text-anchor="middle">70</text>
<text x="172.50" y="169.60" class="t" text-anchor="middle">80</text>
<text x="190.00" y="169.60" class="t" text-anchor="middle">90</text>
<text x="207.50" y="169.60" class="t" text-anchor="middle">100</text>
<text x="29.10" y="161.70" class="t" text-anchor="end">−0.2</text>
<text x="29.10" y="125.38" class="t" text-anchor="end">−0.1</text>
<text x="29.10" y="89.05" class="t" text-anchor="end">0</text>
<text x="29.10" y="52.72" class="t" text-anchor="end">0.1</text>
<text x="29.10" y="16.40" class="t" text-anchor="end">0.2</text>
<text x="120.00" y="180.00" class="l" text-anchor="middle" xml:space="preserve" textLength="87.5">number of rotations N</text>
<text transform="translate(7.90,87.25) rotate(-90)" class="l" text-anchor="middle" textLength="124.5">dimensionless x-displacement <tspan font-style="italic">ε</tspan><tspan font-size="7" dy="1.5">x</tspan></text>
<text x="6.1" y="10.5" class="l">(a)</text>
<line x1="289.97" y1="13.7" x2="289.97" y2="156.0" class="gr"/>
<line x1="319.43" y1="13.7" x2="319.43" y2="156.0" class="gr"/>
<line x1="348.90" y1="13.7" x2="348.90" y2="156.0" class="gr"/>
<line x1="378.37" y1="13.7" x2="378.37" y2="156.0" class="gr"/>
<line x1="407.83" y1="13.7" x2="407.83" y2="156.0" class="gr"/>
<line x1="260.5" y1="127.54" x2="437.3" y2="127.54" class="gr"/>
<line x1="260.5" y1="99.08" x2="437.3" y2="99.08" class="gr"/>
<line x1="260.5" y1="70.62" x2="437.3" y2="70.62" class="gr"/>
<line x1="260.5" y1="42.16" x2="437.3" y2="42.16" class="gr"/>
<polyline points="260.50,155.8 260.62,155.8 260.74,155.8 260.85,155.8 260.97,155.8 261.09,155.8 261.21,155.8 261.33,155.8 261.44,155.8 261.56,155.8 261.68,155.8 261.80,155.8 261.91,155.8 262.03,155.8 262.15,155.8 262.27,155.8 262.39,155.8 262.50,155.8 262.62,155.8 262.74,155.8 262.86,155.8 262.98,155.8 263.09,155.8 263.21,155.8 263.33,155.8 263.45,155.8 263.56,155.8 263.68,155.8 263.80,155.8 263.92,155.8 264.04,155.8 264.15,155.8 264.27,155.8 264.39,155.8 264.51,155.8 264.63,155.8 264.74,155.8 264.86,155.7 264.98,155.7 265.10,155.7 265.21,155.7 265.33,155.7 265.45,155.7 265.57,155.7 265.69,155.7 265.80,155.7 265.92,155.7 266.04,155.7 266.16,155.7 266.28,155.7 266.39,155.7 266.51,155.7 266.63,155.7 266.75,155.7 266.86,155.7 266.98,155.7 267.10,155.7 267.22,155.7 267.34,155.7 267.45,155.7 267.57,155.7 267.69,155.7 267.81,155.7 267.93,155.7 268.04,155.7 268.16,155.7 268.28,155.7 268.40,155.7 268.51,155.7 268.63,155.7 268.75,155.7 268.87,155.7 268.99,155.7 269.10,155.7 269.22,155.7 269.34,155.7 269.46,155.7 269.58,155.7 269.69,155.7 269.81,155.7 269.93,155.7 270.05,155.7 270.17,155.7 270.28,155.7 270.40,155.7 270.52,155.7 270.64,155.7 270.75,155.7 270.87,155.7 270.99,155.7 271.11,155.7 271.23,155.7 271.34,155.7 271.46,155.7 271.58,155.7 271.70,155.7 271.82,155.7 271.93,155.7 272.05,155.7 272.17,155.7 272.29,155.7 272.40,155.6 272.52,155.6 272.64,155.6 272.76,155.6 272.88,155.6 272.99,155.6 273.11,155.6 273.23,155.6 273.35,155.6 273.47,155.6 273.58,155.6 273.70,155.6 273.82,155.6 273.94,155.6 274.05,155.6 274.17,155.6 274.29,155.5 274.41,155.5 274.53,155.5 274.64,155.5 274.76,155.5 274.88,155.5 275.00,155.4 275.12,155.4 275.23,155.4 275.35,155.4 275.47,155.3 275.59,155.3 275.70,155.2 275.82,155.1 275.94,155.0 276.06,154.8 276.18,154.5 276.27,154.0 276.29,153.8 276.40,152.6 276.41,152.3 276.47,150.7 276.50,149.4 276.53,148.6 276.56,149.4 276.59,150.7 276.65,152.3 276.66,152.6 276.77,153.8 276.79,154.0 276.88,154.4 277.00,154.8 277.12,155.0 277.24,155.1 277.35,155.2 277.47,155.2 277.59,155.3 277.71,155.3 277.83,155.4 277.94,155.4 278.06,155.4 278.18,155.4 278.30,155.5 278.42,155.5 278.53,155.5 278.65,155.5 278.77,155.5 278.89,155.5 279.01,155.5 279.12,155.5 279.24,155.5 279.36,155.5 279.48,155.6 279.59,155.6 279.71,155.6 279.83,155.6 279.95,155.6 280.07,155.6 280.18,155.6 280.30,155.6 280.42,155.6 280.54,155.6 280.66,155.6 280.77,155.6 280.89,155.6 281.01,155.6 281.13,155.6 281.24,155.6 281.36,155.6 281.48,155.6 281.60,155.6 281.72,155.6 281.83,155.6 281.95,155.6 282.07,155.6 282.19,155.6 282.31,155.6 282.42,155.6 282.54,155.6 282.66,155.6 282.78,155.6 282.89,155.6 283.01,155.6 283.13,155.6 283.25,155.6 283.37,155.6 283.48,155.6 283.60,155.6 283.72,155.6 283.84,155.6 283.96,155.6 284.07,155.6 284.19,155.6 284.31,155.6 284.43,155.6 284.54,155.6 284.66,155.6 284.78,155.5 284.90,155.5 285.02,155.5 285.13,155.5 285.25,155.5 285.37,155.5 285.49,155.5 285.61,155.5 285.72,155.5 285.84,155.5 285.96,155.5 286.08,155.4 286.19,155.4 286.31,155.4 286.43,155.3 286.55,155.3 286.67,155.2 286.78,155.1 286.90,155.0 287.02,154.7 287.06,154.6 287.14,154.2 287.19,153.7 287.25,152.6 287.26,152.5 287.28,151.8 287.31,151.4 287.35,151.8 287.37,152.5 287.38,152.6 287.44,153.7 287.49,154.2 287.57,154.6 287.61,154.7 287.73,155.0 287.85,155.1 287.96,155.2 288.08,155.3 288.20,155.3 288.32,155.4 288.43,155.4 288.55,155.4 288.67,155.4 288.79,155.5 288.91,155.5 289.02,155.5 289.14,155.5 289.26,155.5 289.38,155.5 289.50,155.5 289.61,155.5 289.73,155.5 289.85,155.5 289.97,155.5 290.08,155.5 290.20,155.5 290.32,155.5 290.44,155.5 290.56,155.5 290.67,155.5 290.79,155.5 290.91,155.6 291.03,155.6 291.15,155.6 291.26,155.6 291.38,155.6 291.50,155.6 291.62,155.6 291.73,155.6 291.85,155.6 291.97,155.6 292.09,155.6 292.21,155.6 292.32,155.6 292.44,155.6 292.56,155.6 292.68,155.6 292.80,155.6 292.91,155.6 293.03,155.6 293.15,155.6 293.27,155.6 293.38,155.6 293.50,155.6 293.62,155.6 293.74,155.6 293.86,155.6 293.97,155.5 294.09,155.5 294.21,155.5 294.33,155.5 294.45,155.5 294.56,155.5 294.68,155.5 294.80,155.5 294.92,155.5 295.03,155.5 295.15,155.5 295.27,155.5 295.39,155.5 295.51,155.5 295.62,155.5 295.74,155.5 295.86,155.5 295.98,155.5 296.10,155.5 296.21,155.5 296.33,155.5 296.45,155.5 296.57,155.5 296.69,155.5 296.80,155.5 296.92,155.5 297.04,155.5 297.16,155.5 297.27,155.5 297.39,155.5 297.51,155.5 297.63,155.5 297.75,155.5 297.86,155.5 297.98,155.5 298.10,155.5 298.22,155.5 298.34,155.5 298.45,155.4 298.57,155.4 298.69,155.4 298.81,155.4 298.92,155.4 299.04,155.4 299.16,155.4 299.28,155.4 299.40,155.4 299.51,155.4 299.63,155.4 299.75,155.4 299.87,155.4 299.99,155.4 300.10,155.3 300.22,155.3 300.34,155.3 300.46,155.3 300.57,155.3 300.69,155.3 300.81,155.3 300.93,155.2 301.05,155.2 301.16,155.2 301.28,155.2 301.40,155.1 301.52,155.1 301.64,155.1 301.75,155.0 301.87,155.0 301.99,154.9 302.11,154.8 302.22,154.7 302.34,154.6 302.46,154.5 302.58,154.3 302.70,154.0 302.81,153.5 302.93,152.7 302.97,152.3 303.05,150.9 303.10,149.6 303.16,146.0 303.17,145.6 303.19,143.5 303.23,142.1 303.26,143.5 303.29,145.6 303.29,146.0 303.36,149.5 303.40,150.9 303.49,152.3 303.52,152.7 303.64,153.5 303.76,153.9 303.87,154.2 303.99,154.4 304.11,154.6 304.23,154.7 304.35,154.8 304.46,154.9 304.58,154.9 304.70,155.0 304.82,155.0 304.94,155.1 305.05,155.1 305.17,155.1 305.29,155.1 305.41,155.2 305.53,155.2 305.64,155.2 305.76,155.2 305.88,155.2 306.00,155.2 306.11,155.3 306.23,155.3 306.35,155.3 306.47,155.3 306.59,155.3 306.70,155.3 306.82,155.3 306.94,155.3 307.06,155.3 307.18,155.3 307.29,155.3 307.41,155.3 307.53,155.3 307.65,155.3 307.76,155.3 307.88,155.3 308.00,155.3 308.12,155.3 308.24,155.3 308.35,155.3 308.47,155.4 308.59,155.4 308.71,155.4 308.83,155.4 308.94,155.4 309.06,155.4 309.18,155.4 309.30,155.4 309.41,155.4 309.53,155.4 309.65,155.4 309.77,155.4 309.89,155.4 310.00,155.4 310.12,155.4 310.24,155.4 310.36,155.3 310.48,155.3 310.59,155.3 310.71,155.3 310.83,155.3 310.95,155.3 311.06,155.3 311.18,155.3 311.30,155.3 311.42,155.3 311.54,155.3 311.65,155.3 311.77,155.3 311.89,155.3 312.01,155.3 312.13,155.3 312.24,155.3 312.36,155.3 312.48,155.3 312.60,155.3 312.71,155.3 312.83,155.3 312.95,155.3 313.07,155.3 313.19,155.3 313.30,155.3 313.42,155.3 313.54,155.3 313.66,155.3 313.78,155.2 313.89,155.2 314.01,155.2 314.13,155.2 314.25,155.2 314.37,155.2 314.48,155.2 314.60,155.2 314.72,155.2 314.84,155.2 314.95,155.2 315.07,155.2 315.19,155.1 315.31,155.1 315.43,155.1 315.54,155.1 315.66,155.1 315.78,155.1 315.90,155.1 316.02,155.0 316.13,155.0 316.25,155.0 316.37,155.0 316.49,155.0 316.60,154.9 316.72,154.9 316.84,154.9 316.96,154.9 317.08,154.8 317.19,154.8 317.31,154.7 317.43,154.7 317.55,154.6 317.67,154.6 317.78,154.5 317.90,154.4 318.02,154.3 318.14,154.2 318.25,154.1 318.37,154.0 318.49,153.8 318.61,153.5 318.73,153.2 318.84,152.7 318.96,152.0 319.08,150.9 319.17,149.3 319.20,148.7 319.30,144.0 319.32,143.2 319.37,137.4 319.40,132.6 319.43,129.9 319.47,132.6 319.50,137.4 319.55,143.2 319.56,144.0 319.67,148.7 319.69,149.3 319.79,150.9 319.90,152.0 320.02,152.7 320.14,153.2 320.26,153.5 320.38,153.7 320.49,153.9 320.61,154.1 320.73,154.2 320.85,154.3 320.97,154.4 321.08,154.5 321.20,154.5 321.32,154.6 321.44,154.6 321.55,154.7 321.67,154.7 321.79,154.8 321.91,154.8 322.03,154.8 322.14,154.9 322.26,154.9 322.38,154.9 322.50,154.9 322.62,154.9 322.73,154.9 322.85,155.0 322.97,155.0 323.09,155.0 323.21,155.0 323.32,155.0 323.44,155.0 323.56,155.0 323.68,155.0 323.79,155.1 323.91,155.1 324.03,155.1 324.15,155.1 324.27,155.1 324.38,155.1 324.50,155.1 324.62,155.1 324.74,155.1 324.86,155.1 324.97,155.1 325.09,155.1 325.21,155.1 325.33,155.1 325.44,155.1 325.56,155.1 325.68,155.1 325.80,155.1 325.92,155.1 326.03,155.1 326.15,155.1 326.27,155.1 326.39,155.1 326.51,155.1 326.62,155.1 326.74,155.1 326.86,155.1 326.98,155.1 327.09,155.1 327.21,155.1 327.33,155.1 327.45,155.1 327.57,155.1 327.68,155.1 327.80,155.1 327.92,155.1 328.04,155.1 328.16,155.1 328.27,155.1 328.39,155.1 328.51,155.1 328.63,155.1 328.74,155.1 328.86,155.1 328.98,155.1 329.10,155.0 329.22,155.0 329.33,155.0 329.45,155.0 329.57,154.9 329.69,154.9 329.78,154.8 329.81,154.7 329.91,154.5 329.92,154.4 329.98,154.1 330.01,153.8 330.04,153.7 330.07,153.8 330.11,154.1 330.16,154.4 330.17,154.5 330.28,154.7 330.30,154.8 330.39,154.9 330.51,154.9 330.63,154.9 330.75,155.0 330.87,155.0 330.98,155.0 331.10,155.0 331.22,155.0 331.34,155.0 331.46,155.0 331.57,155.0 331.69,155.0 331.81,155.0 331.93,155.0 332.05,155.0 332.16,155.0 332.28,155.0 332.40,155.0 332.52,155.0 332.63,155.0 332.75,155.0 332.87,155.0 332.99,155.0 333.11,155.0 333.22,155.0 333.34,155.0 333.46,155.0 333.58,155.0 333.70,154.9 333.81,154.9 333.93,154.9 334.05,154.9 334.17,154.9 334.28,154.9 334.40,154.9 334.52,154.9 334.64,154.9 334.76,154.9 334.87,154.9 334.99,154.9 335.11,154.9 335.23,154.9 335.35,154.8 335.46,154.8 335.58,154.8 335.70,154.8 335.82,154.8 335.93,154.8 336.05,154.8 336.17,154.8 336.29,154.8 336.41,154.7 336.52,154.7 336.64,154.7 336.76,154.7 336.88,154.7 337.00,154.7 337.11,154.7 337.23,154.7 337.35,154.6 337.47,154.6 337.58,154.6 337.70,154.6 337.82,154.6 337.94,154.6 338.06,154.5 338.17,154.5 338.29,154.5 338.41,154.5 338.53,154.5 338.65,154.4 338.76,154.4 338.88,154.4 339.00,154.4 339.12,154.3 339.23,154.3 339.35,154.3 339.47,154.3 339.59,154.2 339.71,154.2 339.82,154.2 339.94,154.2 340.06,154.1 340.18,154.1 340.30,154.0 340.41,154.0 340.53,154.0 340.65,153.9 340.77,153.9 340.89,153.8 341.00,153.8 341.12,153.8 341.24,153.7 341.36,153.6 341.47,153.6 341.59,153.5 341.71,153.5 341.83,153.4 341.95,153.3 342.06,153.3 342.18,153.2 342.30,153.1 342.42,153.0 342.54,152.9 342.65,152.8 342.77,152.7 342.89,152.6 343.01,152.4 343.12,152.3 343.24,152.1 343.36,152.0 343.48,151.8 343.60,151.6 343.71,151.4 343.83,151.1 343.95,150.9 344.07,150.5 344.19,150.2 344.30,149.8 344.42,149.3 344.54,148.8 344.66,148.2 344.77,147.4 344.89,146.5 345.01,145.3 345.13,143.8 345.25,141.8 345.36,139.1 345.48,135.0 345.60,128.4 345.62,127.2 345.72,116.1 345.78,103.0 345.84,87.1 345.87,72.3 345.91,50.2 345.95,37.7 346.00,50.2 346.04,72.3 346.07,87.1 346.12,103.0 346.19,116.1 346.29,127.2 346.31,128.4 346.42,135.0 346.54,139.1 346.66,141.8 346.78,143.8 346.90,145.3 347.01,146.5 347.13,147.4 347.25,148.2 347.37,148.8 347.49,149.3 347.60,149.8 347.72,150.2 347.84,150.5 347.96,150.9 348.07,151.1 348.19,151.4 348.31,151.6 348.43,151.8 348.55,152.0 348.66,152.1 348.78,152.3 348.90,152.4 349.02,152.6 349.14,152.7 349.25,152.8 349.37,152.9 349.49,153.0 349.61,153.1 349.73,153.2 349.84,153.3 349.96,153.3 350.08,153.4 350.20,153.5 350.31,153.5 350.43,153.6 350.55,153.6 350.67,153.7 350.79,153.7 350.90,153.8 351.02,153.8 351.14,153.9 351.26,153.9 351.38,154.0 351.49,154.0 351.61,154.0 351.73,154.1 351.85,154.1 351.96,154.1 352.08,154.2 352.20,154.2 352.32,154.2 352.44,154.3 352.55,154.3 352.67,154.3 352.79,154.3 352.91,154.4 353.03,154.4 353.14,154.4 353.26,154.4 353.38,154.5 353.50,154.5 353.61,154.5 353.73,154.5 353.85,154.5 353.97,154.5 354.09,154.6 354.20,154.6 354.32,154.6 354.44,154.6 354.56,154.6 354.68,154.6 354.79,154.7 354.91,154.7 355.03,154.7 355.15,154.7 355.26,154.7 355.38,154.7 355.50,154.7 355.62,154.7 355.74,154.7 355.85,154.8 355.97,154.8 356.09,154.8 356.21,154.8 356.33,154.8 356.44,154.8 356.56,154.8 356.68,154.8 356.80,154.8 356.91,154.8 357.03,154.8 357.15,154.8 357.27,154.9 357.39,154.9 357.50,154.9 357.62,154.9 357.74,154.9 357.86,154.9 357.98,154.9 358.09,154.9 358.21,154.9 358.33,154.9 358.45,154.9 358.57,154.9 358.68,154.9 358.80,154.9 358.92,154.9 359.04,154.9 359.15,154.9 359.27,154.9 359.39,154.9 359.51,154.9 359.63,154.9 359.74,154.9 359.86,154.9 359.98,154.9 360.10,154.9 360.22,154.8 360.33,154.8 360.45,154.8 360.57,154.8 360.69,154.8 360.80,154.8 360.92,154.7 361.04,154.7 361.16,154.7 361.28,154.6 361.39,154.5 361.51,154.5 361.63,154.3 361.75,154.2 361.87,154.0 361.98,153.7 362.10,153.2 362.20,152.5 362.22,152.2 362.33,150.2 362.34,149.8 362.39,147.2 362.42,145.1 362.45,143.9 362.49,145.1 362.52,147.2 362.57,149.8 362.58,150.2 362.69,152.3 362.71,152.5 362.81,153.2 362.93,153.7 363.04,154.0 363.16,154.3 363.28,154.4 363.40,154.5 363.52,154.6 363.63,154.7 363.75,154.7 363.87,154.8 363.99,154.8 364.10,154.9 364.22,154.9 364.34,154.9 364.46,155.0 364.58,155.0 364.69,155.0 364.81,155.0 364.93,155.0 365.05,155.1 365.17,155.1 365.28,155.1 365.40,155.1 365.52,155.1 365.64,155.1 365.75,155.1 365.87,155.2 365.99,155.2 366.11,155.2 366.23,155.2 366.34,155.2 366.46,155.2 366.58,155.2 366.70,155.2 366.82,155.2 366.93,155.2 367.05,155.2 367.17,155.2 367.29,155.2 367.41,155.3 367.52,155.3 367.64,155.3 367.76,155.3 367.88,155.3 367.99,155.3 368.11,155.3 368.23,155.3 368.35,155.3 368.47,155.3 368.58,155.3 368.70,155.3 368.82,155.3 368.94,155.3 369.06,155.3 369.17,155.3 369.29,155.3 369.41,155.3 369.53,155.3 369.64,155.3 369.76,155.3 369.88,155.3 370.00,155.3 370.12,155.4 370.23,155.4 370.35,155.4 370.47,155.4 370.59,155.4 370.71,155.4 370.82,155.4 370.94,155.4 371.06,155.4 371.18,155.4 371.29,155.4 371.41,155.4 371.53,155.4 371.65,155.4 371.77,155.4 371.88,155.4 372.00,155.4 372.12,155.4 372.24,155.4 372.36,155.4 372.47,155.4 372.59,155.4 372.71,155.4 372.83,155.4 372.94,155.4 373.06,155.4 373.18,155.4 373.30,155.4 373.42,155.4 373.53,155.4 373.65,155.4 373.77,155.4 373.89,155.4 374.01,155.4 374.12,155.4 374.24,155.4 374.36,155.4 374.48,155.4 374.59,155.4 374.71,155.4 374.83,155.4 374.95,155.4 375.07,155.4 375.18,155.4 375.30,155.4 375.42,155.4 375.54,155.4 375.66,155.4 375.77,155.4 375.89,155.4 376.01,155.4 376.13,155.4 376.25,155.4 376.36,155.4 376.48,155.4 376.60,155.4 376.72,155.4 376.83,155.4 376.95,155.4 377.07,155.4 377.19,155.4 377.31,155.4 377.42,155.4 377.54,155.4 377.66,155.4 377.78,155.4 377.90,155.5 378.01,155.5 378.13,155.5 378.25,155.5 378.37,155.5 378.48,155.5 378.60,155.5 378.72,155.4 378.84,155.4 378.96,155.4 379.07,155.4 379.19,155.4 379.31,155.4 379.43,155.4 379.55,155.4 379.66,155.4 379.78,155.4 379.90,155.4 380.02,155.4 380.13,155.4 380.25,155.4 380.37,155.4 380.49,155.4 380.61,155.4 380.72,155.4 380.84,155.4 380.96,155.4 381.08,155.4 381.20,155.4 381.31,155.4 381.43,155.4 381.55,155.4 381.67,155.4 381.78,155.4 381.90,155.4 382.02,155.4 382.14,155.4 382.26,155.4 382.37,155.4 382.49,155.4 382.61,155.4 382.73,155.4 382.85,155.4 382.96,155.4 383.08,155.4 383.20,155.4 383.32,155.4 383.43,155.4 383.55,155.4 383.67,155.4 383.79,155.4 383.91,155.4 384.02,155.3 384.14,155.3 384.26,155.3 384.38,155.3 384.50,155.3 384.61,155.3 384.73,155.3 384.85,155.3 384.97,155.3 385.09,155.3 385.20,155.3 385.32,155.2 385.44,155.2 385.56,155.2 385.67,155.2 385.79,155.2 385.91,155.2 386.03,155.2 386.15,155.1 386.26,155.1 386.38,155.1 386.50,155.1 386.62,155.0 386.74,155.0 386.85,155.0 386.97,154.9 387.09,154.9 387.21,154.8 387.32,154.8 387.44,154.7 387.56,154.6 387.68,154.5 387.80,154.4 387.91,154.3 388.03,154.1 388.15,153.8 388.27,153.5 388.39,153.1 388.50,152.5 388.62,151.5 388.72,150.0 388.74,149.5 388.85,145.2 388.86,144.4 388.91,139.1 388.94,134.7 388.97,132.2 389.01,134.7 389.04,139.1 389.09,144.4 389.10,145.2 389.21,149.5 389.23,150.0 389.33,151.5 389.45,152.5 389.56,153.1 389.68,153.6 389.80,153.9 389.92,154.1 390.04,154.3 390.15,154.4 390.27,154.5 390.39,154.6 390.51,154.7 390.62,154.8 390.74,154.8 390.86,154.9 390.98,154.9 391.10,155.0 391.21,155.0 391.33,155.1 391.45,155.1 391.57,155.1 391.69,155.2 391.80,155.2 391.92,155.2 392.04,155.2 392.16,155.2 392.27,155.3 392.39,155.3 392.51,155.3 392.63,155.3 392.75,155.3 392.86,155.3 392.98,155.3 393.10,155.4 393.22,155.4 393.34,155.4 393.45,155.4 393.57,155.4 393.69,155.4 393.81,155.4 393.93,155.4 394.04,155.4 394.16,155.4 394.28,155.4 394.40,155.4 394.51,155.5 394.63,155.5 394.75,155.5 394.87,155.5 394.99,155.5 395.10,155.5 395.22,155.5 395.34,155.5 395.46,155.5 395.58,155.5 395.69,155.5 395.81,155.5 395.93,155.5 396.05,155.5 396.16,155.5 396.28,155.5 396.40,155.5 396.52,155.5 396.64,155.5 396.75,155.5 396.87,155.5 396.99,155.5 397.11,155.6 397.23,155.6 397.34,155.6 397.46,155.6 397.58,155.6 397.70,155.6 397.81,155.6 397.93,155.6 398.05,155.6 398.17,155.6 398.29,155.6 398.40,155.6 398.52,155.6 398.64,155.6 398.76,155.6 398.88,155.6 398.99,155.6 399.11,155.6 399.23,155.6 399.35,155.6 399.46,155.6 399.58,155.6 399.70,155.6 399.82,155.6 399.94,155.6 400.05,155.6 400.17,155.6 400.29,155.6 400.41,155.6 400.53,155.6 400.64,155.6 400.76,155.6 400.88,155.6 401.00,155.6 401.11,155.6 401.23,155.6 401.35,155.6 401.47,155.6 401.59,155.6 401.70,155.6 401.82,155.6 401.94,155.6 402.06,155.6 402.18,155.6 402.29,155.6 402.41,155.6 402.53,155.7 402.65,155.7 402.77,155.7 402.88,155.7 403.00,155.7 403.12,155.7 403.24,155.7 403.35,155.7 403.47,155.7 403.59,155.7 403.71,155.7 403.83,155.7 403.94,155.7 404.06,155.7 404.18,155.7 404.30,155.7 404.42,155.7 404.53,155.7 404.65,155.7 404.77,155.7 404.89,155.7 405.00,155.7 405.12,155.7 405.24,155.7 405.36,155.7 405.48,155.7 405.59,155.7 405.71,155.7 405.83,155.7 405.95,155.7 406.07,155.7 406.18,155.7 406.30,155.7 406.42,155.7 406.54,155.7 406.65,155.7 406.77,155.7 406.89,155.7 407.01,155.7 407.13,155.7 407.24,155.7 407.36,155.7 407.48,155.7 407.60,155.7 407.72,155.7 407.83,155.7 407.95,155.7 408.07,155.7 408.19,155.7 408.30,155.7 408.42,155.7 408.54,155.7 408.66,155.7 408.78,155.7 408.89,155.7 409.01,155.7 409.13,155.7 409.25,155.7 409.37,155.7 409.48,155.7 409.60,155.7 409.72,155.7 409.84,155.7 409.95,155.7 410.07,155.7 410.19,155.7 410.31,155.7 410.43,155.7 410.54,155.7 410.66,155.7 410.78,155.7 410.90,155.7 411.02,155.7 411.13,155.7 411.25,155.7 411.37,155.7 411.49,155.7 411.61,155.7 411.72,155.7 411.84,155.7 411.96,155.7 412.08,155.7 412.19,155.7 412.31,155.7 412.43,155.7 412.55,155.7 412.67,155.7 412.78,155.7 412.90,155.7 413.02,155.7 413.14,155.7 413.26,155.7 413.37,155.7 413.49,155.7 413.61,155.7 413.73,155.7 413.84,155.7 413.96,155.7 414.08,155.7 414.20,155.7 414.32,155.7 414.43,155.7 414.55,155.7 414.67,155.7 414.79,155.7 414.91,155.7 415.02,155.7 415.14,155.7 415.26,155.7 415.38,155.7 415.49,155.7 415.61,155.7 415.73,155.7 415.85,155.7 415.97,155.7 416.08,155.7 416.20,155.7 416.32,155.7 416.44,155.7 416.56,155.7 416.67,155.7 416.79,155.7 416.91,155.7 417.03,155.7 417.14,155.7 417.26,155.7 417.38,155.7 417.50,155.8 417.62,155.8 417.73,155.8 417.85,155.8 417.97,155.8 418.09,155.8 418.21,155.8 418.32,155.8 418.44,155.8 418.56,155.8 418.68,155.8 418.79,155.8 418.91,155.8 419.03,155.8 419.15,155.8 419.27,155.8 419.38,155.8 419.50,155.8 419.62,155.8 419.74,155.8 419.86,155.8 419.97,155.8 420.09,155.8 420.21,155.8 420.33,155.8 420.45,155.8 420.56,155.8 420.68,155.8 420.80,155.8 420.92,155.8 421.03,155.8 421.15,155.8 421.27,155.8 421.39,155.8 421.51,155.8 421.62,155.8 421.74,155.8 421.86,155.8 421.98,155.8 422.10,155.8 422.21,155.8 422.33,155.8 422.45,155.8 422.57,155.8 422.68,155.8 422.80,155.8 422.92,155.8 423.04,155.8 423.16,155.8 423.27,155.8 423.39,155.8 423.51,155.8 423.63,155.8 423.75,155.8 423.86,155.8 423.98,155.8 424.10,155.8 424.22,155.8 424.33,155.8 424.45,155.8 424.57,155.8 424.69,155.8 424.81,155.8 424.92,155.8 425.04,155.8 425.16,155.8 425.28,155.8 425.40,155.8 425.51,155.8 425.63,155.8 425.75,155.8 425.87,155.8 425.98,155.8 426.10,155.8 426.22,155.8 426.34,155.8 426.46,155.8 426.57,155.8 426.69,155.8 426.81,155.8 426.93,155.8 427.05,155.8 427.16,155.8 427.28,155.8 427.40,155.8 427.52,155.8 427.63,155.8 427.75,155.8 427.87,155.8 427.99,155.8 428.11,155.8 428.22,155.8 428.34,155.8 428.46,155.7 428.58,155.7 428.70,155.7 428.81,155.7 428.93,155.7 429.05,155.7 429.17,155.7 429.29,155.7 429.40,155.7 429.52,155.7 429.64,155.7 429.76,155.7 429.87,155.7 429.99,155.7 430.11,155.7 430.23,155.7 430.35,155.7 430.46,155.7 430.58,155.7 430.70,155.7 430.82,155.7 430.94,155.6 431.05,155.6 431.17,155.6 431.29,155.5 431.41,155.5 431.52,155.4 431.64,155.3 431.74,155.1 431.76,155.1 431.87,154.5 431.88,154.4 431.93,153.8 431.96,153.3 432.00,153.0 432.03,153.3 432.06,153.8 432.11,154.4 432.13,154.5 432.23,155.1 432.26,155.1 432.35,155.3 432.47,155.4 432.59,155.5 432.70,155.6 432.82,155.6 432.94,155.6 433.06,155.6 433.17,155.7 433.29,155.7 433.41,155.7 433.53,155.7 433.65,155.7 433.76,155.7 433.88,155.7 434.00,155.7 434.12,155.7 434.24,155.7 434.35,155.7 434.47,155.7 434.59,155.7 434.71,155.7 434.82,155.8 434.94,155.8 435.06,155.8 435.18,155.8 435.30,155.8 435.41,155.8 435.53,155.8 435.65,155.8 435.77,155.8 435.89,155.8 436.00,155.8 436.12,155.8 436.24,155.8 436.36,155.8 436.47,155.8 436.59,155.8 436.71,155.8 436.83,155.8 436.95,155.8 437.06,155.8 437.18,155.8 437.30,155.8" class="sp"/>
<line x1="260.50" y1="156.0" x2="260.50" y2="154.2" class="tk"/>
<line x1="260.50" y1="13.7" x2="260.50" y2="15.5" class="tk"/>
<line x1="289.97" y1="156.0" x2="289.97" y2="154.2" class="tk"/>
<line x1="289.97" y1="13.7" x2="289.97" y2="15.5" class="tk"/>
<line x1="319.43" y1="156.0" x2="319.43" y2="154.2" class="tk"/>
<line x1="319.43" y1="13.7" x2="319.43" y2="15.5" class="tk"/>
<line x1="348.90" y1="156.0" x2="348.90" y2="154.2" class="tk"/>
<line x1="348.90" y1="13.7" x2="348.90" y2="15.5" class="tk"/>
<line x1="378.37" y1="156.0" x2="378.37" y2="154.2" class="tk"/>
<line x1="378.37" y1="13.7" x2="378.37" y2="15.5" class="tk"/>
<line x1="407.83" y1="156.0" x2="407.83" y2="154.2" class="tk"/>
<line x1="407.83" y1="13.7" x2="407.83" y2="15.5" class="tk"/>
<line x1="437.30" y1="156.0" x2="437.30" y2="154.2" class="tk"/>
<line x1="437.30" y1="13.7" x2="437.30" y2="15.5" class="tk"/>
<line x1="260.5" y1="156.00" x2="262.3" y2="156.00" class="tk"/>
<line x1="437.3" y1="156.00" x2="435.5" y2="156.00" class="tk"/>
<line x1="260.5" y1="127.54" x2="262.3" y2="127.54" class="tk"/>
<line x1="437.3" y1="127.54" x2="435.5" y2="127.54" class="tk"/>
<line x1="260.5" y1="99.08" x2="262.3" y2="99.08" class="tk"/>
<line x1="437.3" y1="99.08" x2="435.5" y2="99.08" class="tk"/>
<line x1="260.5" y1="70.62" x2="262.3" y2="70.62" class="tk"/>
<line x1="437.3" y1="70.62" x2="435.5" y2="70.62" class="tk"/>
<line x1="260.5" y1="42.16" x2="262.3" y2="42.16" class="tk"/>
<line x1="437.3" y1="42.16" x2="435.5" y2="42.16" class="tk"/>
<line x1="260.5" y1="13.70" x2="262.3" y2="13.70" class="tk"/>
<line x1="437.3" y1="13.70" x2="435.5" y2="13.70" class="tk"/>
<rect x="260.5" y="13.7" width="176.80" height="142.30" class="box"/>
<text x="260.50" y="167.40" class="t" text-anchor="middle">0</text>
<text x="289.97" y="167.40" class="t" text-anchor="middle">0.5</text>
<text x="319.43" y="167.40" class="t" text-anchor="middle">1</text>
<text x="348.90" y="167.40" class="t" text-anchor="middle">1.5</text>
<text x="378.37" y="167.40" class="t" text-anchor="middle">2</text>
<text x="407.83" y="167.40" class="t" text-anchor="middle">2.5</text>
<text x="437.30" y="167.40" class="t" text-anchor="middle">3</text>
<text x="257.10" y="158.70" class="t" text-anchor="end">0</text>
<text x="257.10" y="130.24" class="t" text-anchor="end">0.02</text>
<text x="257.10" y="101.78" class="t" text-anchor="end">0.04</text>
<text x="257.10" y="73.32" class="t" text-anchor="end">0.06</text>
<text x="257.10" y="44.86" class="t" text-anchor="end">0.08</text>
<text x="257.10" y="16.40" class="t" text-anchor="end">0.1</text>
<text x="348.90" y="180.00" class="l" text-anchor="middle" xml:space="preserve" textLength="81.5">frequency ratio    <tspan font-style="italic">ω</tspan>/Ω</text>
<text transform="translate(239.30,84.85) rotate(-90)" class="l" text-anchor="middle" textLength="101.8">dimensionless x-amplitude</text>
<text x="235.9" y="10.5" class="l">(b)</text>
<text transform="translate(278.73,143.40) rotate(-90)" class="a"><tspan font-style="italic">ω</tspan>/Ω = 0.272</text>
<text transform="translate(289.51,146.40) rotate(-90)" class="a"><tspan font-style="italic">ω</tspan>/Ω = 0.455</text>
<text transform="translate(305.23,138.80) rotate(-90)" class="a"><tspan font-style="italic">ω</tspan>/Ω = 0.725</text>
<text transform="translate(322.13,125.40) rotate(-90)" class="a"><tspan font-style="italic">ω</tspan>/Ω = 1</text>
<text x="344.95" y="30.00" class="a" text-anchor="middle"><tspan font-style="italic">ω</tspan>/Ω = 1.45</text>
<text transform="translate(365.05,138.10) rotate(-90)" class="a"><tspan font-style="italic">ω</tspan>/Ω = 1.73</text>
<text transform="translate(391.97,126.20) rotate(-90)" class="a"><tspan font-style="italic">ω</tspan>/Ω = 2.18</text>
<text transform="translate(434.00,149.20) rotate(-90)" class="a"><tspan font-style="italic">ω</tspan>/Ω = 2.91</text>
<line x1="53.83" y1="197.3" x2="53.83" y2="342.5" class="gr"/>
<line x1="70.90" y1="197.3" x2="70.90" y2="342.5" class="gr"/>
<line x1="87.97" y1="197.3" x2="87.97" y2="342.5" class="gr"/>
<line x1="105.05" y1="197.3" x2="105.05" y2="342.5" class="gr"/>
<line x1="122.12" y1="197.3" x2="122.12" y2="342.5" class="gr"/>
<line x1="139.20" y1="197.3" x2="139.20" y2="342.5" class="gr"/>
<line x1="156.27" y1="197.3" x2="156.27" y2="342.5" class="gr"/>
<line x1="173.35" y1="197.3" x2="173.35" y2="342.5" class="gr"/>
<line x1="190.43" y1="197.3" x2="190.43" y2="342.5" class="gr"/>
<line x1="36.75" y1="324.35" x2="207.5" y2="324.35" class="gr"/>
<line x1="36.75" y1="306.20" x2="207.5" y2="306.20" class="gr"/>
<line x1="36.75" y1="288.05" x2="207.5" y2="288.05" class="gr"/>
<line x1="36.75" y1="269.90" x2="207.5" y2="269.90" class="gr"/>
<line x1="36.75" y1="251.75" x2="207.5" y2="251.75" class="gr"/>
<line x1="36.75" y1="233.60" x2="207.5" y2="233.60" class="gr"/>
<line x1="36.75" y1="215.45" x2="207.5" y2="215.45" class="gr"/>
<polyline points="36.75,267.2 36.80,258.8 36.84,250.9 36.89,243.8 36.94,238.0 36.99,233.5 37.03,230.6 37.08,229.4 37.13,229.7 37.18,231.5 37.22,234.7 37.27,239.0 37.32,244.2 37.37,249.8 37.41,255.7 37.46,261.5 37.51,266.8 37.56,271.5 37.60,275.4 37.65,278.2 37.70,280.0 37.75,280.7 37.79,280.5 37.84,279.4 37.89,277.7 37.94,275.5 37.98,273.2 38.03,271.0 38.08,269.1 38.13,267.8 38.17,267.2 38.22,267.5 38.27,268.7 38.32,270.8 38.36,273.8 38.41,277.5 38.46,281.7 38.50,286.1 38.55,290.4 38.60,294.4 38.65,297.8 38.69,300.2 38.74,301.6 38.79,301.6 38.84,300.2 38.88,297.5 38.93,293.4 38.98,288.1 39.03,281.8 39.07,274.9 39.12,267.6 39.17,260.4 39.22,253.5 39.26,247.4 39.31,242.4 39.36,238.6 39.41,236.3 39.45,235.6 39.50,236.5 39.55,238.9 39.60,242.5 39.64,247.2 39.69,252.6 39.74,258.4 39.79,264.2 39.83,269.5 39.88,274.1 39.93,277.8 39.98,280.2 40.02,281.4 40.07,281.2 40.12,279.7 40.16,277.2 40.21,273.9 40.26,270.1 40.31,266.2 40.35,262.6 40.40,259.7 40.45,257.7 40.50,256.9 40.54,257.5 40.59,259.5 40.64,262.9 40.69,267.5 40.73,273.2 40.78,279.6 40.83,286.3 40.88,293.0 40.92,299.3 40.97,304.7 41.02,309.0 41.07,311.8 41.11,312.9 41.16,312.3 41.21,309.9 41.26,305.9 41.30,300.3 41.35,293.6 41.40,286.1 41.45,278.0 41.49,269.9 41.54,262.0 41.59,254.9 41.64,248.7 41.68,243.8 41.73,240.3 41.78,238.2 41.83,237.7 41.87,238.5 41.92,240.6 41.97,243.7 42.01,247.5 42.06,251.8 42.11,256.3 42.16,260.6 42.20,264.6 42.25,268.0 42.30,270.7 42.35,272.6 42.39,273.7 42.44,274.0 42.49,273.6 42.54,272.8 42.58,271.6 42.63,270.4 42.68,269.2 42.73,268.3 42.77,267.8 42.82,267.9 42.87,268.6 42.92,270.1 42.96,272.2 43.01,275.1 43.06,278.4 43.11,282.0 43.15,285.9 43.20,289.6 43.25,293.1 43.30,296.0 43.34,298.2 43.39,299.4 43.44,299.6 43.49,298.7 43.53,296.6 43.58,293.4 43.63,289.2 43.67,284.1 43.72,278.3 43.77,272.2 43.82,265.8 43.86,259.6 43.91,253.9 43.96,248.7 44.01,244.5 44.05,241.3 44.10,239.3 44.15,238.5 44.20,239.1 44.24,240.8 44.29,243.6 44.34,247.3 44.39,251.6 44.43,256.4 44.48,261.4 44.53,266.2 44.58,270.6 44.62,274.4 44.67,277.5 44.72,279.6 44.77,280.7 44.81,280.9 44.86,280.1 44.91,278.6 44.96,276.4 45.00,273.9 45.05,271.2 45.10,268.5 45.15,266.3 45.19,264.6 45.24,263.7 45.29,263.7 45.33,264.6 45.38,266.5 45.43,269.3 45.48,272.9 45.52,277.0 45.57,281.4 45.62,285.9 45.67,290.1 45.71,293.8 45.76,296.7 45.81,298.5 45.86,299.2 45.90,298.6 45.95,296.6 46.00,293.5 46.05,289.2 46.09,284.0 46.14,278.1 46.19,271.9 46.24,265.7 46.28,259.8 46.33,254.5 46.38,250.0 46.43,246.7 46.47,244.5 46.52,243.7 46.57,244.1 46.62,245.8 46.66,248.5 46.71,251.9 46.76,255.9 46.81,260.2 46.85,264.3 46.90,268.2 46.95,271.4 46.99,273.9 47.04,275.5 47.09,276.1 47.14,275.7 47.18,274.5 47.23,272.6 47.28,270.3 47.33,267.7 47.37,265.3 47.42,263.2 47.47,261.6 47.52,261.0 47.56,261.3 47.61,262.6 47.66,265.1 47.71,268.6 47.75,273.1 47.80,278.2 47.85,283.7 47.90,289.3 47.94,294.7 47.99,299.6 48.04,303.7 48.09,306.6 48.13,308.2 48.18,308.4 48.23,307.0 48.28,304.2 48.32,299.9 48.37,294.4 48.42,288.0 48.47,280.8 48.51,273.3 48.56,265.8 48.61,258.6 48.66,252.0 48.70,246.4 48.75,241.9 48.80,238.7 48.84,236.8 48.89,236.4 48.94,237.3 48.99,239.4 49.03,242.5 49.08,246.4 49.13,250.8 49.18,255.4 49.22,260.1 49.27,264.5 49.32,268.4 49.37,271.7 49.41,274.2 49.46,275.9 49.51,276.8 49.56,277.0 49.60,276.5 49.65,275.4 49.70,274.1 49.75,272.7 49.79,271.3 49.84,270.2 49.89,269.6 49.94,269.6 49.98,270.2 50.03,271.5 50.08,273.5 50.13,276.1 50.17,279.2 50.22,282.6 50.27,286.1 50.32,289.5 50.36,292.6 50.41,295.1 50.46,296.8 50.50,297.5 50.55,297.2 50.60,295.7 50.65,293.0 50.69,289.3 50.74,284.6 50.79,279.1 50.84,273.1 50.88,266.8 50.93,260.6 50.98,254.7 51.03,249.3 51.07,244.9 51.12,241.6 51.17,239.5 51.22,238.8 51.26,239.4 51.31,241.3 51.36,244.3 51.41,248.4 51.45,253.1 51.50,258.2 51.55,263.4 51.60,268.4 51.64,272.9 51.69,276.6 51.74,279.4 51.79,281.0 51.83,281.5 51.88,280.9 51.93,279.2 51.98,276.8 52.02,273.7 52.07,270.3 52.12,266.9 52.16,263.9 52.21,261.4 52.26,259.8 52.31,259.2 52.35,259.9 52.40,261.8 52.45,264.8 52.50,269.0 52.54,274.0 52.59,279.5 52.64,285.4 52.69,291.1 52.73,296.4 52.78,300.9 52.83,304.3 52.88,306.4 52.92,306.9 52.97,305.9 53.02,303.3 53.07,299.2 53.11,293.9 53.16,287.5 53.21,280.5 53.26,273.1 53.30,265.8 53.35,258.9 53.40,252.7 53.45,247.5 53.49,243.6 53.54,241.1 53.59,240.0 53.64,240.4 53.68,241.9 53.73,244.6 53.78,248.2 53.83,252.2 53.87,256.6 53.92,260.9 53.97,264.9 54.01,268.3 54.06,270.9 54.11,272.8 54.16,273.7 54.20,273.8 54.25,273.1 54.30,271.8 54.35,270.1 54.39,268.3 54.44,266.6 54.49,265.2 54.54,264.5 54.58,264.5 54.63,265.3 54.68,267.2 54.73,269.9 54.77,273.5 54.82,277.8 54.87,282.7 54.92,287.7 54.96,292.8 55.01,297.5 55.06,301.6 55.11,304.9 55.15,307.0 55.20,307.8 55.25,307.2 55.30,305.1 55.34,301.6 55.39,296.8 55.44,290.9 55.49,284.2 55.53,276.8 55.58,269.1 55.63,261.5 55.67,254.2 55.72,247.7 55.77,242.1 55.82,237.7 55.86,234.7 55.91,233.1 55.96,233.0 56.01,234.3 56.05,236.9 56.10,240.7 56.15,245.3 56.20,250.4 56.24,255.9 56.29,261.4 56.34,266.6 56.39,271.3 56.43,275.2 56.48,278.2 56.53,280.1 56.58,281.1 56.62,281.0 56.67,280.1 56.72,278.4 56.77,276.2 56.81,273.8 56.86,271.3 56.91,269.1 56.96,267.3 57.00,266.3 57.05,266.0 57.10,266.7 57.15,268.4 57.19,270.9 57.24,274.2 57.29,278.1 57.33,282.4 57.38,286.7 57.43,290.9 57.48,294.5 57.52,297.3 57.57,299.2 57.62,299.8 57.67,299.1 57.71,297.0 57.76,293.6 57.81,289.1 57.86,283.5 57.90,277.2 57.95,270.5 58.00,263.7 58.05,257.2 58.09,251.3 58.14,246.3 58.19,242.5 58.24,240.1 58.28,239.2 58.33,239.7 58.38,241.6 58.43,244.7 58.47,248.8 58.52,253.5 58.57,258.7 58.62,263.8 58.66,268.6 58.71,272.8 58.76,276.1 58.81,278.3 58.85,279.3 58.90,279.2 58.95,277.9 58.99,275.7 59.04,272.8 59.09,269.5 59.14,266.0 59.18,262.8 59.23,260.2 59.28,258.5 59.33,257.8 59.37,258.4 59.42,260.3 59.47,263.5 59.52,268.0 59.56,273.4 59.61,279.6 59.66,286.1 59.71,292.7 59.75,298.9 59.80,304.4 59.85,308.7 59.90,311.7 59.94,313.1 59.99,312.7 60.04,310.6 60.09,306.8 60.13,301.5 60.18,294.9 60.23,287.4 60.28,279.2 60.32,270.8 60.37,262.6 60.42,255.0 60.47,248.2 60.51,242.7 60.56,238.5 60.61,235.8 60.66,234.6 60.70,235.0 60.75,236.7 60.80,239.6 60.84,243.4 60.89,247.8 60.94,252.6 60.99,257.5 61.03,262.1 61.08,266.2 61.13,269.6 61.18,272.2 61.22,274.0 61.27,274.9 61.32,275.1 61.37,274.5 61.41,273.5 61.46,272.2 61.51,270.9 61.56,269.7 61.60,268.9 61.65,268.7 61.70,269.2 61.75,270.4 61.79,272.5 61.84,275.3 61.89,278.7 61.94,282.7 61.98,286.9 62.03,291.2 62.08,295.3 62.13,298.9 62.17,301.7 62.22,303.6 62.27,304.4 62.32,303.8 62.36,301.9 62.41,298.6 62.46,294.1 62.50,288.5 62.55,281.9 62.60,274.7 62.65,267.2 62.69,259.6 62.74,252.4 62.79,245.9 62.84,240.4 62.88,236.1 62.93,233.2 62.98,231.9 63.03,232.1 63.07,233.8 63.12,237.0 63.17,241.3 63.22,246.6 63.26,252.4 63.31,258.6 63.36,264.6 63.41,270.3 63.45,275.2 63.50,279.1 63.55,281.9 63.60,283.4 63.64,283.6 63.69,282.6 63.74,280.6 63.79,277.7 63.83,274.3 63.88,270.7 63.93,267.1 63.98,264.0 64.02,261.7 64.07,260.3 64.12,260.1 64.16,261.1 64.21,263.5 64.26,267.0 64.31,271.5 64.35,276.9 64.40,282.6 64.45,288.5 64.50,294.1 64.54,299.1 64.59,303.0 64.64,305.7 64.69,306.8 64.73,306.3 64.78,304.2 64.83,300.5 64.88,295.3 64.92,289.0 64.97,281.7 65.02,274.1 65.07,266.3 65.11,258.9 65.16,252.2 65.21,246.5 65.26,242.1 65.30,239.2 65.35,237.9 65.40,238.1 65.45,239.8 65.49,242.8 65.54,246.7 65.59,251.4 65.64,256.3 65.68,261.2 65.73,265.8 65.78,269.7 65.82,272.7 65.87,274.7 65.92,275.6 65.97,275.5 66.01,274.3 66.06,272.4 66.11,269.9 66.16,267.2 66.20,264.6 66.25,262.3 66.30,260.7 66.35,260.1 66.39,260.5 66.44,262.2 66.49,265.1 66.54,269.2 66.58,274.2 66.63,280.1 66.68,286.4 66.73,292.8 66.77,299.1 66.82,304.7 66.87,309.4 66.92,312.9 66.96,314.9 67.01,315.2 67.06,313.8 67.11,310.6 67.15,305.8 67.20,299.6 67.25,292.1 67.30,283.9 67.34,275.1 67.39,266.2 67.44,257.6 67.48,249.6 67.53,242.7 67.58,237.0 67.63,232.7 67.67,230.1 67.72,229.1 67.77,229.8 67.82,231.9 67.86,235.3 67.91,239.8 67.96,245.0 68.01,250.7 68.05,256.5 68.10,262.1 68.15,267.2 68.20,271.7 68.24,275.2 68.29,277.8 68.34,279.4 68.39,279.9 68.43,279.5 68.48,278.4 68.53,276.8 68.58,274.8 68.62,272.8 68.67,271.0 68.72,269.6 68.77,268.9 68.81,269.0 68.86,269.9 68.91,271.7 68.96,274.4 69.00,277.8 69.05,281.8 69.10,286.1 69.15,290.4 69.19,294.5 69.24,298.0 69.29,300.7 69.33,302.3 69.38,302.6 69.43,301.5 69.48,299.0 69.52,295.1 69.57,289.8 69.62,283.5 69.67,276.4 69.71,268.9 69.76,261.2 69.81,253.8 69.86,247.0 69.90,241.3 69.95,236.9 70.00,233.9 70.05,232.6 70.09,233.0 70.14,235.0 70.19,238.5 70.24,243.2 70.28,248.8 70.33,254.9 70.38,261.2 70.43,267.2 70.47,272.7 70.52,277.2 70.57,280.5 70.62,282.5 70.66,283.0 70.71,282.2 70.76,280.2 70.81,277.1 70.85,273.3 70.90,269.2 70.95,265.0 70.99,261.3 71.04,258.3 71.09,256.4 71.14,255.9 71.18,256.8 71.23,259.2 71.28,263.0 71.33,268.2 71.37,274.3 71.42,281.2 71.47,288.4 71.52,295.5 71.56,302.0 71.61,307.5 71.66,311.7 71.71,314.3 71.75,315.1 71.80,313.9 71.85,310.9 71.90,306.1 71.94,299.8 71.99,292.2 72.04,283.8 72.09,275.0 72.13,266.2 72.18,257.8 72.23,250.2 72.28,243.9 72.32,238.9 72.37,235.6 72.42,233.9 72.47,233.9 72.51,235.4 72.56,238.2 72.61,242.0 72.65,246.6 72.70,251.6 72.75,256.6 72.80,261.4 72.84,265.6 72.89,269.1 72.94,271.6 72.99,273.2 73.03,273.8 73.08,273.6 73.13,272.6 73.18,271.1 73.22,269.4 73.27,267.7 73.32,266.3 73.37,265.4 73.41,265.3 73.46,266.1 73.51,267.9 73.56,270.6 73.60,274.4 73.65,278.9 73.70,284.0 73.75,289.6 73.79,295.1 73.84,300.4 73.89,305.1 73.94,309.0 73.98,311.6 74.03,312.9 74.08,312.6 74.13,310.7 74.17,307.2 74.22,302.1 74.27,295.7 74.31,288.1 74.36,279.7 74.41,270.9 74.46,261.9 74.50,253.2 74.55,245.3 74.60,238.3 74.65,232.7 74.69,228.6 74.74,226.2 74.79,225.6 74.84,226.8 74.88,229.6 74.93,233.8 74.98,239.2 75.03,245.4 75.07,252.1 75.12,258.9 75.17,265.5 75.22,271.4 75.26,276.5 75.31,280.4 75.36,283.0 75.41,284.3 75.45,284.3 75.50,283.1 75.55,280.9 75.60,278.0 75.64,274.7 75.69,271.2 75.74,268.0 75.79,265.4 75.83,263.6 75.88,262.8 75.93,263.3 75.98,265.0 76.02,268.0 76.07,272.0 76.12,276.9 76.16,282.3 76.21,288.0 76.26,293.4 76.31,298.4 76.35,302.4 76.40,305.2 76.45,306.5 76.50,306.2 76.54,304.1 76.59,300.4 76.64,295.2 76.69,288.6 76.73,281.1 76.78,273.0 76.83,264.7 76.88,256.7 76.92,249.4 76.97,243.1 77.02,238.3 77.07,235.1 77.11,233.6 77.16,233.8 77.21,235.8 77.26,239.2 77.30,243.8 77.35,249.2 77.40,255.1 77.45,261.1 77.49,266.6 77.54,271.5 77.59,275.3 77.64,277.9 77.68,279.2 77.73,279.1 77.78,277.8 77.82,275.3 77.87,272.1 77.92,268.4 77.97,264.6 78.01,261.1 78.06,258.3 78.11,256.4 78.16,255.9 78.20,256.7 78.25,259.1 78.30,262.9 78.35,268.1 78.39,274.5 78.44,281.6 78.49,289.2 78.54,296.8 78.58,304.0 78.63,310.3 78.68,315.4 78.73,318.9 78.77,320.5 78.82,320.2 78.87,317.9 78.92,313.7 78.96,307.7 79.01,300.2 79.06,291.5 79.11,282.1 79.15,272.3 79.20,262.7 79.25,253.6 79.30,245.5 79.34,238.6 79.39,233.3 79.44,229.6 79.48,227.8 79.53,227.7 79.58,229.2 79.63,232.2 79.67,236.4 79.72,241.4 79.77,247.0 79.82,252.8 79.86,258.5 79.91,263.8 79.96,268.3 80.01,272.1 80.05,274.8 80.10,276.6 80.15,277.3 80.20,277.2 80.24,276.4 80.29,275.0 80.34,273.5 80.39,271.9 80.43,270.6 80.48,269.8 80.53,269.7 80.58,270.4 80.62,272.1 80.67,274.6 80.72,278.0 80.77,282.1 80.81,286.7 80.86,291.6 80.91,296.3 80.96,300.8 81.00,304.5 81.05,307.3 81.10,308.8 81.15,308.9 81.19,307.4 81.24,304.3 81.29,299.7 81.33,293.6 81.38,286.3 81.43,278.1 81.48,269.3 81.52,260.4 81.57,251.7 81.62,243.7 81.67,236.8 81.71,231.3 81.76,227.4 81.81,225.4 81.86,225.2 81.90,226.9 81.95,230.4 82.00,235.4 82.05,241.6 82.09,248.5 82.14,255.9 82.19,263.2 82.24,270.0 82.28,275.9 82.33,280.7 82.38,284.0 82.43,285.8 82.47,286.0 82.52,284.7 82.57,282.1 82.62,278.5 82.66,274.2 82.71,269.6 82.76,265.1 82.81,261.2 82.85,258.2 82.90,256.4 82.95,256.1 82.99,257.4 83.04,260.3 83.09,264.7 83.14,270.3 83.18,276.9 83.23,284.1 83.28,291.4 83.33,298.3 83.37,304.5 83.42,309.5 83.47,313.0 83.52,314.6 83.56,314.3 83.61,312.0 83.66,307.7 83.71,301.7 83.75,294.3 83.80,285.8 83.85,276.7 83.90,267.5 83.94,258.6 83.99,250.5 84.04,243.5 84.09,238.1 84.13,234.4 84.18,232.4 84.23,232.3 84.28,233.8 84.32,236.9 84.37,241.1 84.42,246.1 84.47,251.6 84.51,257.1 84.56,262.4 84.61,266.9 84.65,270.6 84.70,273.2 84.75,274.5 84.80,274.8 84.84,273.9 84.89,272.2 84.94,269.9 84.99,267.3 85.03,264.6 85.08,262.4 85.13,260.8 85.18,260.2 85.22,260.7 85.27,262.5 85.32,265.6 85.37,270.0 85.41,275.4 85.46,281.8 85.51,288.6 85.56,295.7 85.60,302.6 85.65,308.9 85.70,314.3 85.75,318.3 85.79,320.7 85.84,321.4 85.89,320.1 85.94,316.9 85.98,311.8 86.03,305.1 86.08,296.9 86.13,287.6 86.17,277.6 86.22,267.4 86.27,257.4 86.31,247.9 86.36,239.5 86.41,232.4 86.46,227.0 86.50,223.4 86.55,221.7 86.60,221.9 86.65,224.0 86.69,227.6 86.74,232.7 86.79,238.8 86.84,245.6 86.88,252.7 86.93,259.7 86.98,266.2 87.03,272.0 87.07,276.8 87.12,280.3 87.17,282.6 87.22,283.5 87.26,283.3 87.31,281.9 87.36,279.8 87.41,277.1 87.45,274.2 87.50,271.5 87.55,269.2 87.60,267.6 87.64,266.9 87.69,267.3 87.74,269.0 87.79,271.7 87.83,275.5 87.88,280.2 87.93,285.4 87.97,290.8 88.02,296.1 88.07,300.9 88.12,304.7 88.16,307.3 88.21,308.5 88.26,307.9 88.31,305.5 88.35,301.4 88.40,295.7 88.45,288.6 88.50,280.4 88.54,271.5 88.59,262.4 88.64,253.5 88.69,245.3 88.73,238.3 88.78,232.7 88.83,228.9 88.88,227.0 88.92,227.1 88.97,229.2 89.02,233.0 89.07,238.2 89.11,244.6 89.16,251.6 89.21,258.8 89.26,265.7 89.30,271.9 89.35,277.1 89.40,280.9 89.45,283.1 89.49,283.7 89.54,282.7 89.59,280.3 89.64,276.8 89.68,272.4 89.73,267.7 89.78,263.0 89.82,258.8 89.87,255.5 89.92,253.5 89.97,253.0 90.01,254.2 90.06,257.1 90.11,261.7 90.16,267.8 90.20,275.0 90.25,283.0 90.30,291.4 90.35,299.6 90.39,307.1 90.44,313.6 90.49,318.5 90.54,321.5 90.58,322.6 90.63,321.4 90.68,318.1 90.73,312.7 90.77,305.6 90.82,297.1 90.87,287.6 90.92,277.5 90.96,267.3 91.01,257.6 91.06,248.7 91.11,241.1 91.15,235.0 91.20,230.7 91.25,228.3 91.30,227.7 91.34,228.8 91.39,231.5 91.44,235.5 91.48,240.4 91.53,245.9 91.58,251.6 91.63,257.2 91.67,262.3 91.72,266.7 91.77,270.2 91.82,272.7 91.86,274.1 91.91,274.6 91.96,274.2 92.01,273.1 92.05,271.6 92.10,270.0 92.15,268.5 92.20,267.4 92.24,266.9 92.29,267.4 92.34,268.8 92.39,271.2 92.43,274.7 92.48,279.1 92.53,284.3 92.58,290.0 92.62,295.9 92.67,301.7 92.72,307.0 92.77,311.5 92.81,314.9 92.86,316.9 92.91,317.2 92.96,315.7 93.00,312.4 93.05,307.3 93.10,300.6 93.14,292.5 93.19,283.3 93.24,273.4 93.29,263.2 93.33,253.2 93.38,243.8 93.43,235.5 93.48,228.6 93.52,223.5 93.57,220.3 93.62,219.1 93.67,220.1 93.71,223.0 93.76,227.6 93.81,233.8 93.86,241.0 93.90,248.8 93.95,256.9 94.00,264.7 94.05,271.8 94.09,277.9 94.14,282.6 94.19,285.8 94.24,287.4 94.28,287.3 94.33,285.8 94.38,283.0 94.43,279.2 94.47,274.9 94.52,270.5 94.57,266.3 94.62,262.8 94.66,260.4 94.71,259.2 94.76,259.5 94.81,261.4 94.85,264.8 94.90,269.6 94.95,275.4 94.99,282.0 95.04,288.9 95.09,295.6 95.14,301.8 95.18,306.9 95.23,310.6 95.28,312.6 95.33,312.7 95.37,310.7 95.42,306.7 95.47,301.0 95.52,293.6 95.56,285.1 95.61,275.9 95.66,266.4 95.71,257.2 95.75,248.7 95.80,241.4 95.85,235.6 95.90,231.6 95.94,229.5 95.99,229.4 96.04,231.2 96.09,234.6 96.13,239.4 96.18,245.2 96.23,251.4 96.28,257.8 96.32,263.8 96.37,269.1 96.42,273.4 96.47,276.4 96.51,277.9 96.56,278.0 96.61,276.8 96.65,274.5 96.70,271.3 96.75,267.6 96.80,263.8 96.84,260.3 96.89,257.5 96.94,255.7 96.99,255.3 97.03,256.3 97.08,259.0 97.13,263.2 97.18,268.8 97.22,275.6 97.27,283.3 97.32,291.4 97.37,299.6 97.41,307.4 97.46,314.3 97.51,319.8 97.56,323.8 97.60,325.8 97.65,325.7 97.70,323.5 97.75,319.1 97.79,312.8 97.84,304.8 97.89,295.5 97.94,285.2 97.98,274.5 98.03,263.8 98.08,253.5 98.13,244.1 98.17,236.1 98.22,229.6 98.27,225.0 98.31,222.2 98.36,221.5 98.41,222.7 98.46,225.5 98.50,229.9 98.55,235.4 98.60,241.7 98.65,248.4 98.69,255.1 98.74,261.6 98.79,267.4 98.84,272.2 98.88,276.1 98.93,278.7 98.98,280.1 99.03,280.5 99.07,279.8 99.12,278.4 99.17,276.5 99.22,274.4 99.26,272.4 99.31,270.9 99.36,269.9 99.41,269.9 99.45,270.9 99.50,272.9 99.55,276.1 99.60,280.1 99.64,284.9 99.69,290.2 99.74,295.7 99.79,300.9 99.83,305.6 99.88,309.3 99.93,311.8 99.97,312.7 100.02,311.8 100.07,309.1 100.12,304.6 100.16,298.4 100.21,290.6 100.26,281.7 100.31,272.1 100.35,262.1 100.40,252.2 100.45,243.1 100.50,235.0 100.54,228.4 100.59,223.7 100.64,221.1 100.69,220.6 100.73,222.2 100.78,225.9 100.83,231.3 100.88,238.1 100.92,245.8 100.97,253.9 101.02,262.0 101.07,269.6 101.11,276.2 101.16,281.5 101.21,285.1 101.26,287.0 101.30,287.1 101.35,285.5 101.40,282.4 101.45,278.2 101.49,273.3 101.54,268.0 101.59,262.9 101.64,258.5 101.68,255.2 101.73,253.3 101.78,253.0 101.82,254.6 101.87,257.9 101.92,263.0 101.97,269.4 102.01,276.9 102.06,285.1 102.11,293.4 102.16,301.3 102.20,308.4 102.25,314.2 102.30,318.2 102.35,320.2 102.39,320.1 102.44,317.7 102.49,313.2 102.54,306.8 102.58,298.8 102.63,289.6 102.68,279.6 102.73,269.5 102.77,259.6 102.82,250.6 102.87,242.7 102.92,236.3 102.96,231.8 103.01,229.1 103.06,228.4 103.11,229.5 103.15,232.2 103.20,236.2 103.25,241.3 103.30,246.9 103.34,252.7 103.39,258.3 103.44,263.4 103.48,267.6 103.53,270.8 103.58,272.8 103.63,273.7 103.67,273.5 103.72,272.4 103.77,270.6 103.82,268.3 103.86,266.0 103.91,264.0 103.96,262.5 104.01,261.8 104.05,262.2 104.10,263.8 104.15,266.7 104.20,270.9 104.24,276.2 104.29,282.4 104.34,289.2 104.39,296.4 104.43,303.5 104.48,310.1 104.53,315.9 104.58,320.4 104.62,323.3 104.67,324.5 104.72,323.6 104.77,320.8 104.81,315.9 104.86,309.1 104.91,300.8 104.96,291.1 105.00,280.5 105.05,269.5 105.10,258.5 105.14,248.0 105.19,238.4 105.24,230.2 105.29,223.8 105.33,219.2 105.38,216.8 105.43,216.6 105.48,218.5 105.52,222.2 105.57,227.7 105.62,234.4 105.67,242.0 105.71,250.1 105.76,258.2 105.81,265.9 105.86,272.7 105.90,278.4 105.95,282.7 106.00,285.5 106.05,286.7 106.09,286.4 106.14,284.8 106.19,282.1 106.24,278.8 106.28,275.0 106.33,271.4 106.38,268.1 106.43,265.7 106.47,264.4 106.52,264.3 106.57,265.7 106.62,268.4 106.66,272.5 106.71,277.6 106.76,283.5 106.80,289.8 106.85,296.0 106.90,301.8 106.95,306.6 106.99,310.1 107.04,312.0 107.09,312.0 107.14,310.0 107.18,306.0 107.23,300.2 107.28,292.7 107.33,284.0 107.37,274.4 107.42,264.5 107.47,254.8 107.52,245.8 107.56,238.0 107.61,231.7 107.66,227.3 107.71,224.9 107.75,224.7 107.80,226.6 107.85,230.3 107.90,235.6 107.94,242.1 107.99,249.3 108.04,256.8 108.09,263.9 108.13,270.4 108.18,275.7 108.23,279.6 108.28,281.9 108.32,282.6 108.37,281.6 108.42,279.1 108.47,275.5 108.51,271.1 108.56,266.3 108.61,261.6 108.65,257.4 108.70,254.2 108.75,252.3 108.80,252.0 108.84,253.4 108.89,256.7 108.94,261.6 108.99,268.0 109.03,275.7 109.08,284.1 109.13,292.8 109.18,301.4 109.22,309.4 109.27,316.2 109.32,321.5 109.37,324.9 109.41,326.1 109.46,325.1 109.51,321.9 109.56,316.6 109.60,309.4 109.65,300.6 109.70,290.7 109.75,280.2 109.79,269.4 109.84,259.0 109.89,249.3 109.94,240.9 109.98,233.9 110.03,228.7 110.08,225.4 110.13,224.1 110.17,224.6 110.22,226.8 110.27,230.5 110.31,235.4 110.36,241.1 110.41,247.2 110.46,253.3 110.50,259.2 110.55,264.5 110.60,269.0 110.65,272.4 110.69,274.8 110.74,276.1 110.79,276.4 110.84,275.8 110.88,274.6 110.93,273.0 110.98,271.4 111.03,270.0 111.07,269.1 111.12,268.9 111.17,269.6 111.22,271.3 111.26,274.2 111.31,278.1 111.36,282.8 111.41,288.3 111.45,294.2 111.50,300.2 111.55,305.9 111.60,310.9 111.64,314.9 111.69,317.6 111.74,318.6 111.79,317.8 111.83,315.1 111.88,310.4 111.93,303.9 111.97,295.8 112.02,286.4 112.07,276.1 112.12,265.3 112.16,254.6 112.21,244.4 112.26,235.3 112.31,227.6 112.35,221.7 112.40,217.9 112.45,216.3 112.50,217.0 112.54,219.9 112.59,224.7 112.64,231.2 112.69,238.9 112.73,247.4 112.78,256.1 112.83,264.6 112.88,272.3 112.92,278.9 112.97,284.0 113.02,287.4 113.07,288.9 113.11,288.7 113.16,286.8 113.21,283.5 113.26,279.2 113.30,274.3 113.35,269.2 113.40,264.5 113.45,260.5 113.49,257.7 113.54,256.3 113.59,256.6 113.63,258.6 113.68,262.3 113.73,267.5 113.78,273.9 113.82,281.1 113.87,288.8 113.92,296.3 113.97,303.2 114.01,309.0 114.06,313.3 114.11,315.7 114.16,316.1 114.20,314.4 114.25,310.5 114.30,304.7 114.35,297.2 114.39,288.4 114.44,278.8 114.49,268.9 114.54,259.2 114.58,250.2 114.63,242.3 114.68,236.0 114.73,231.4 114.77,228.8 114.82,228.2 114.87,229.5 114.92,232.5 114.96,236.9 115.01,242.4 115.06,248.4 115.11,254.6 115.15,260.6 115.20,266.0 115.25,270.4 115.30,273.6 115.34,275.5 115.39,276.0 115.44,275.2 115.48,273.4 115.53,270.7 115.58,267.5 115.63,264.1 115.67,261.0 115.72,258.5 115.77,256.9 115.82,256.6 115.86,257.6 115.91,260.2 115.96,264.2 116.01,269.6 116.05,276.2 116.10,283.7 116.15,291.7 116.20,299.8 116.24,307.5 116.29,314.5 116.34,320.2 116.39,324.4 116.43,326.8 116.48,327.1 116.53,325.3 116.58,321.3 116.62,315.3 116.67,307.5 116.72,298.3 116.77,287.9 116.81,277.0 116.86,265.8 116.91,255.0 116.96,244.9 117.00,236.1 117.05,228.8 117.10,223.3 117.14,219.8 117.19,218.4 117.24,219.1 117.29,221.7 117.33,226.0 117.38,231.6 117.43,238.3 117.48,245.6 117.52,253.1 117.57,260.4 117.62,267.1 117.67,272.9 117.71,277.5 117.76,280.9 117.81,282.8 117.86,283.5 117.90,282.9 117.95,281.4 118.00,279.1 118.05,276.5 118.09,273.8 118.14,271.4 118.19,269.6 118.24,268.8 118.28,269.0 118.33,270.5 118.38,273.2 118.43,277.0 118.47,281.8 118.52,287.3 118.57,293.2 118.62,299.0 118.66,304.4 118.71,308.8 118.76,312.1 118.80,313.7 118.85,313.5 118.90,311.4 118.95,307.3 118.99,301.3 119.04,293.7 119.09,284.7 119.14,274.8 119.18,264.4 119.23,254.2 119.28,244.5 119.33,236.0 119.37,229.0 119.42,223.8 119.47,220.8 119.52,220.1 119.56,221.5 119.61,225.1 119.66,230.4 119.71,237.2 119.75,245.0 119.80,253.2 119.85,261.4 119.90,269.0 119.94,275.7 119.99,280.9 120.04,284.5 120.09,286.3 120.13,286.2 120.18,284.5 120.23,281.3 120.28,276.9 120.32,271.8 120.37,266.5 120.42,261.4 120.46,257.0 120.51,253.7 120.56,251.9 120.61,251.8 120.65,253.5 120.70,257.1 120.75,262.3 120.80,269.0 120.84,276.8 120.89,285.2 120.94,293.8 120.99,302.0 121.03,309.3 121.08,315.3 121.13,319.6 121.18,321.9 121.22,322.0 121.27,319.9 121.32,315.6 121.37,309.4 121.41,301.5 121.46,292.4 121.51,282.4 121.56,272.2 121.60,262.1 121.65,252.7 121.70,244.3 121.75,237.4 121.79,232.2 121.84,228.9 121.89,227.4 121.94,227.8 121.98,229.8 122.03,233.3 122.08,237.8 122.12,243.1 122.17,248.8 122.22,254.5 122.27,259.8 122.31,264.5 122.36,268.3 122.41,271.1 122.46,272.8 122.50,273.5 122.55,273.1 122.60,272.0 122.65,270.4 122.69,268.6 122.74,266.7 122.79,265.3 122.84,264.5 122.88,264.5 122.93,265.6 122.98,267.9 123.03,271.4 123.07,276.0 123.12,281.5 123.17,287.8 123.22,294.6 123.26,301.4 123.31,308.0 123.36,313.8 123.41,318.6 123.45,322.0 123.50,323.7 123.55,323.5 123.60,321.2 123.64,317.0 123.69,310.8 123.74,302.8 123.79,293.4 123.83,282.9 123.88,271.8 123.93,260.6 123.97,249.7 124.02,239.6 124.07,230.8 124.12,223.8 124.16,218.7 124.21,215.8 124.26,215.2 124.31,216.8 124.35,220.5 124.40,226.0 124.45,233.0 124.50,241.0 124.54,249.5 124.59,258.1 124.64,266.3 124.69,273.7 124.73,279.8 124.78,284.4 124.83,287.3 124.88,288.6 124.92,288.1 124.97,286.2 125.02,283.2 125.07,279.3 125.11,274.9 125.16,270.6 125.21,266.8 125.26,263.8 125.30,262.0 125.35,261.6 125.40,262.7 125.45,265.4 125.49,269.6 125.54,274.9 125.59,281.2 125.63,287.9 125.68,294.7 125.73,301.0 125.78,306.5 125.82,310.6 125.87,313.0 125.92,313.4 125.97,311.9 126.01,308.2 126.06,302.6 126.11,295.3 126.16,286.7 126.20,277.2 126.25,267.2 126.30,257.4 126.35,248.2 126.39,240.1 126.44,233.6 126.49,228.9 126.54,226.2 126.58,225.6 126.63,227.1 126.68,230.4 126.73,235.2 126.77,241.3 126.82,248.0 126.87,255.1 126.92,261.9 126.96,268.1 127.01,273.2 127.06,277.1 127.11,279.4 127.15,280.1 127.20,279.4 127.25,277.2 127.29,274.0 127.34,270.0 127.39,265.6 127.44,261.3 127.48,257.5 127.53,254.7 127.58,253.0 127.63,252.9 127.67,254.3 127.72,257.5 127.77,262.3 127.82,268.6 127.86,275.9 127.91,284.1 127.96,292.7 128.01,301.1 128.05,308.9 128.10,315.8 128.15,321.1 128.20,324.7 128.24,326.3 128.29,325.7 128.34,322.9 128.39,318.1 128.43,311.3 128.48,302.9 128.53,293.2 128.58,282.8 128.62,272.0 128.67,261.4 128.72,251.3 128.77,242.3 128.81,234.7 128.86,228.8 128.91,224.7 128.96,222.6 129.00,222.4 129.05,224.1 129.10,227.3 129.14,232.0 129.19,237.6 129.24,243.9 129.29,250.5 129.33,257.0 129.38,263.0 129.43,268.3 129.48,272.6 129.52,275.9 129.57,277.9 129.62,278.8 129.67,278.7 129.71,277.7 129.76,276.2 129.81,274.3 129.86,272.5 129.90,270.9 129.95,270.0 130.00,269.9 130.05,270.8 130.09,272.9 130.14,276.1 130.19,280.3 130.24,285.4 130.28,291.1 130.33,297.1 130.38,303.0 130.43,308.4 130.47,313.0 130.52,316.3 130.57,318.0 130.62,317.9 130.66,315.8 130.71,311.7 130.76,305.7 130.80,297.9 130.85,288.7 130.90,278.5 130.95,267.6 130.99,256.7 131.04,246.2 131.09,236.7 131.14,228.6 131.18,222.4 131.23,218.3 131.28,216.4 131.33,216.9 131.37,219.7 131.42,224.5 131.47,231.0 131.52,238.8 131.56,247.4 131.61,256.2 131.66,264.8 131.71,272.6 131.75,279.2 131.80,284.3 131.85,287.5 131.90,289.0 131.94,288.5 131.99,286.4 132.04,282.9 132.09,278.3 132.13,273.1 132.18,267.8 132.23,262.9 132.28,258.7 132.32,255.8 132.37,254.4 132.42,254.7 132.46,256.8 132.51,260.7 132.56,266.1 132.61,272.7 132.65,280.2 132.70,288.1 132.75,295.9 132.80,303.1 132.84,309.2 132.89,313.8 132.94,316.6 132.99,317.3 133.03,315.9 133.08,312.3 133.13,306.8 133.18,299.6 133.22,291.1 133.27,281.6 133.32,271.8 133.37,262.1 133.41,253.0 133.46,244.9 133.51,238.2 133.56,233.2 133.60,230.0 133.65,228.8 133.70,229.4 133.75,231.6 133.79,235.3 133.84,240.1 133.89,245.6 133.94,251.4 133.98,257.1 134.03,262.4 134.08,266.9 134.12,270.4 134.17,272.7 134.22,273.8 134.27,273.7 134.31,272.6 134.36,270.7 134.41,268.2 134.46,265.5 134.50,262.8 134.55,260.7 134.60,259.2 134.65,258.8 134.69,259.7 134.74,261.9 134.79,265.4 134.84,270.3 134.88,276.3 134.93,283.2 134.98,290.6 135.03,298.3 135.07,305.8 135.12,312.7 135.17,318.5 135.22,323.0 135.26,325.8 135.31,326.6 135.36,325.3 135.41,322.0 135.45,316.6 135.50,309.3 135.55,300.4 135.60,290.3 135.64,279.4 135.69,268.1 135.74,256.9 135.78,246.4 135.83,237.0 135.88,229.0 135.93,222.9 135.97,218.8 136.02,216.9 136.07,217.1 136.12,219.5 136.16,223.7 136.21,229.4 136.26,236.4 136.31,244.1 136.35,252.2 136.40,260.1 136.45,267.5 136.50,273.9 136.54,279.1 136.59,282.9 136.64,285.2 136.69,286.0 136.73,285.4 136.78,283.6 136.83,280.9 136.88,277.7 136.92,274.4 136.97,271.3 137.02,268.8 137.07,267.3 137.11,266.9 137.16,267.9 137.21,270.3 137.26,273.9 137.30,278.7 137.35,284.3 137.40,290.5 137.45,296.7 137.49,302.5 137.54,307.6 137.59,311.4 137.63,313.7 137.68,314.1 137.73,312.4 137.78,308.8 137.82,303.2 137.87,295.8 137.92,287.0 137.97,277.2 138.01,266.9 138.06,256.6 138.11,246.8 138.16,238.1 138.20,231.0 138.25,225.6 138.30,222.4 138.35,221.4 138.39,222.6 138.44,225.9 138.49,230.9 138.54,237.4 138.58,244.8 138.63,252.7 138.68,260.6 138.73,267.9 138.77,274.3 138.82,279.3 138.87,282.7 138.92,284.4 138.96,284.3 139.01,282.6 139.06,279.5 139.11,275.3 139.15,270.4 139.20,265.3 139.25,260.5 139.29,256.3 139.34,253.3 139.39,251.7 139.44,251.7 139.48,253.5 139.53,257.1 139.58,262.3 139.63,268.9 139.67,276.6 139.72,284.9 139.77,293.4 139.82,301.5 139.86,308.9 139.91,315.0 139.96,319.5 140.01,322.0 140.05,322.5 140.10,320.8 140.15,317.0 140.20,311.2 140.24,303.8 140.29,295.0 140.34,285.3 140.39,275.2 140.43,265.0 140.48,255.4 140.53,246.7 140.58,239.2 140.62,233.4 140.67,229.2 140.72,226.9 140.77,226.4 140.81,227.7 140.86,230.5 140.91,234.5 140.95,239.5 141.00,245.1 141.05,250.9 141.10,256.5 141.14,261.8 141.19,266.3 141.24,269.9 141.29,272.5 141.33,274.0 141.38,274.5 141.43,274.1 141.48,273.0 141.52,271.5 141.57,269.8 141.62,268.2 141.67,267.1 141.71,266.7 141.76,267.1 141.81,268.7 141.86,271.3 141.90,275.2 141.95,280.0 142.00,285.7 142.05,292.1 142.09,298.7 142.14,305.2 142.19,311.2 142.24,316.3 142.28,320.2 142.33,322.5 142.38,322.9 142.43,321.4 142.47,317.7 142.52,312.0 142.57,304.5 142.62,295.4 142.66,285.0 142.71,273.9 142.76,262.5 142.80,251.3 142.85,240.9 142.90,231.7 142.95,224.2 142.99,218.7 143.04,215.5 143.09,214.7 143.14,216.1 143.18,219.8 143.23,225.4 143.28,232.5 143.33,240.7 143.37,249.6 143.42,258.5 143.47,267.0 143.52,274.6 143.56,280.9 143.61,285.6 143.66,288.5 143.71,289.6 143.75,289.0 143.80,286.8 143.85,283.3 143.90,279.0 143.94,274.2 143.99,269.5 144.04,265.3 144.09,262.0 144.13,259.9 144.18,259.3 144.23,260.4 144.28,263.1 144.32,267.3 144.37,272.8 144.42,279.3 144.46,286.3 144.51,293.4 144.56,300.1 144.61,305.9 144.65,310.4 144.70,313.2 144.75,314.1 144.80,312.9 144.84,309.7 144.89,304.4 144.94,297.5 144.99,289.1 145.03,279.8 145.08,270.1 145.13,260.4 145.18,251.2 145.22,243.0 145.27,236.3 145.32,231.3 145.37,228.2 145.41,227.2 145.46,228.0 145.51,230.7 145.56,234.9 145.60,240.3 145.65,246.4 145.70,252.9 145.75,259.3 145.79,265.1 145.84,270.1 145.89,273.9 145.94,276.3 145.98,277.3 146.03,277.0 146.08,275.4 146.12,272.7 146.17,269.3 146.22,265.6 146.27,261.8 146.31,258.5 146.36,256.0 146.41,254.5 146.46,254.4 146.50,255.8 146.55,258.7 146.60,263.1 146.65,269.0 146.69,275.9 146.74,283.7 146.79,291.8 146.84,300.0 146.88,307.7 146.93,314.5 146.98,320.0 147.03,323.9 147.07,325.9 147.12,325.9 147.17,323.6 147.22,319.3 147.26,313.1 147.31,305.1 147.36,295.8 147.41,285.5 147.45,274.7 147.50,263.8 147.55,253.3 147.60,243.8 147.64,235.5 147.69,228.8 147.74,224.0 147.78,221.1 147.83,220.3 147.88,221.4 147.93,224.4 147.97,228.9 148.02,234.7 148.07,241.3 148.12,248.3 148.16,255.5 148.21,262.2 148.26,268.3 148.31,273.4 148.35,277.4 148.40,280.0 148.45,281.4 148.50,281.6 148.54,280.7 148.59,279.0 148.64,276.8 148.69,274.4 148.73,272.2 148.78,270.5 148.83,269.7 148.88,269.9 148.92,271.2 148.97,273.8 149.02,277.6 149.07,282.4 149.11,288.0 149.16,294.1 149.21,300.2 149.26,306.0 149.30,311.1 149.35,315.0 149.40,317.3 149.44,317.8 149.49,316.3 149.54,312.7 149.59,307.1 149.63,299.6 149.68,290.6 149.73,280.5 149.78,269.6 149.82,258.7 149.87,248.1 149.92,238.4 149.97,230.1 150.01,223.7 150.06,219.4 150.11,217.4 150.16,217.8 150.20,220.4 150.25,225.1 150.30,231.5 150.35,239.2 150.39,247.7 150.44,256.4 150.49,264.8 150.54,272.4 150.58,278.9 150.63,283.7 150.68,286.8 150.73,288.1 150.77,287.5 150.82,285.2 150.87,281.6 150.92,277.0 150.96,271.7 151.01,266.4 151.06,261.5 151.11,257.5 151.15,254.6 151.20,253.3 151.25,253.7 151.29,255.9 151.34,259.8 151.39,265.2 151.44,271.9 151.48,279.4 151.53,287.4 151.58,295.2 151.63,302.5 151.67,308.8 151.72,313.7 151.77,316.8 151.82,317.8 151.86,316.8 151.91,313.7 151.96,308.7 152.01,301.9 152.05,293.8 152.10,284.7 152.15,275.1 152.20,265.5 152.24,256.3 152.29,247.9 152.34,240.8 152.39,235.2 152.43,231.4 152.48,229.3 152.53,229.1 152.58,230.5 152.62,233.4 152.67,237.4 152.72,242.3 152.77,247.7 152.81,253.3 152.86,258.5 152.91,263.3 152.95,267.2 153.00,270.2 153.05,272.0 153.10,272.8 153.14,272.5 153.19,271.4 153.24,269.6 153.29,267.5 153.33,265.2 153.38,263.3 153.43,261.8 153.48,261.2 153.52,261.7 153.57,263.3 153.62,266.3 153.67,270.4 153.71,275.8 153.76,282.1 153.81,289.1 153.86,296.4 153.90,303.7 153.95,310.6 154.00,316.6 154.05,321.4 154.09,324.7 154.14,326.1 154.19,325.4 154.24,322.7 154.28,317.8 154.33,311.0 154.38,302.4 154.43,292.5 154.47,281.5 154.52,270.1 154.57,258.6 154.61,247.7 154.66,237.7 154.71,229.2 154.76,222.5 154.80,217.9 154.85,215.6 154.90,215.6 154.95,217.8 154.99,222.0 155.04,227.9 155.09,235.2 155.14,243.3 155.18,251.9 155.23,260.3 155.28,268.2 155.33,275.1 155.37,280.7 155.42,284.8 155.47,287.2 155.52,288.0 155.56,287.2 155.61,285.1 155.66,282.0 155.71,278.3 155.75,274.4 155.80,270.7 155.85,267.7 155.90,265.7 155.94,264.9 155.99,265.5 156.04,267.6 156.09,271.2 156.13,276.0 156.18,281.8 156.23,288.1 156.27,294.7 156.32,300.9 156.37,306.4 156.42,310.7 156.46,313.4 156.51,314.2 156.56,313.1 156.61,309.8 156.65,304.6 156.70,297.5 156.75,289.0 156.80,279.4 156.84,269.3 156.89,259.2 156.94,249.5 156.99,240.8 157.03,233.5 157.08,228.1 157.13,224.6 157.18,223.3 157.22,224.2 157.27,227.0 157.32,231.6 157.37,237.5 157.41,244.5 157.46,251.9 157.51,259.2 157.56,266.2 157.60,272.2 157.65,276.9 157.70,280.2 157.75,281.9 157.79,281.9 157.84,280.4 157.89,277.6 157.94,273.8 157.98,269.3 158.03,264.7 158.08,260.2 158.12,256.4 158.17,253.6 158.22,252.2 158.27,252.3 158.31,254.0 158.36,257.5 158.41,262.5 158.46,268.9 158.50,276.3 158.55,284.3 158.60,292.6 158.65,300.6 158.69,308.0 158.74,314.2 158.79,319.0 158.84,321.9 158.88,322.8 158.93,321.7 158.98,318.5 159.03,313.2 159.07,306.3 159.12,297.9 159.17,288.4 159.22,278.4 159.26,268.1 159.31,258.2 159.36,249.0 159.41,240.8 159.45,234.2 159.50,229.2 159.55,226.0 159.60,224.7 159.64,225.2 159.69,227.4 159.74,231.0 159.78,235.8 159.83,241.4 159.88,247.5 159.93,253.6 159.97,259.5 160.02,264.8 160.07,269.3 160.12,272.8 160.16,275.1 160.21,276.3 160.26,276.5 160.31,275.9 160.35,274.5 160.40,272.8 160.45,271.0 160.50,269.4 160.54,268.3 160.59,268.1 160.64,268.9 160.69,270.8 160.73,273.9 160.78,278.2 160.83,283.5 160.88,289.5 160.92,296.0 160.97,302.6 161.02,308.8 161.07,314.3 161.11,318.7 161.16,321.5 161.21,322.5 161.26,321.5 161.30,318.4 161.35,313.2 161.40,306.0 161.44,297.1 161.49,286.8 161.54,275.6 161.59,264.1 161.63,252.7 161.68,242.0 161.73,232.6 161.78,224.8 161.82,219.1 161.87,215.7 161.92,214.7 161.97,216.1 162.01,219.8 162.06,225.4 162.11,232.7 162.16,241.0 162.20,250.0 162.25,259.0 162.30,267.6 162.35,275.2 162.39,281.5 162.44,286.1 162.49,288.9 162.54,289.9 162.58,289.0 162.63,286.6 162.68,282.8 162.73,278.3 162.77,273.3 162.82,268.3 162.87,263.9 162.92,260.4 162.96,258.2 163.01,257.6 163.06,258.6 163.11,261.3 163.15,265.6 163.20,271.2 163.25,277.8 163.29,284.9 163.34,292.2 163.39,299.1 163.44,305.2 163.48,310.0 163.53,313.1 163.58,314.4 163.63,313.6 163.67,310.8 163.72,306.0 163.77,299.5 163.82,291.6 163.86,282.7 163.91,273.3 163.96,263.7 164.01,254.6 164.05,246.4 164.10,239.5 164.15,234.1 164.20,230.5 164.24,228.8 164.29,228.9 164.34,230.8 164.39,234.2 164.43,238.8 164.48,244.2 164.53,250.1 164.58,256.0 164.62,261.5 164.67,266.4 164.72,270.3 164.77,273.1 164.81,274.6 164.86,274.8 164.91,273.9 164.95,272.0 165.00,269.3 165.05,266.2 165.10,263.0 165.14,260.1 165.19,257.8 165.24,256.4 165.29,256.2 165.33,257.3 165.38,259.8 165.43,263.8 165.48,269.1 165.52,275.5 165.57,282.8 165.62,290.6 165.67,298.5 165.71,306.1 165.76,313.0 165.81,318.8 165.86,323.1 165.90,325.6 165.95,326.1 166.00,324.5 166.05,320.8 166.09,315.0 166.14,307.5 166.19,298.4 166.24,288.1 166.28,277.1 166.33,266.0 166.38,255.0 166.43,244.9 166.47,235.9 166.52,228.5 166.57,222.9 166.61,219.5 166.66,218.1 166.71,218.9 166.76,221.7 166.80,226.3 166.85,232.2 166.90,239.2 166.95,246.8 166.99,254.6 167.04,262.1 167.09,268.8 167.14,274.6 167.18,279.1 167.23,282.3 167.28,283.9 167.33,284.2 167.37,283.2 167.42,281.2 167.47,278.6 167.52,275.7 167.56,272.9 167.61,270.6 167.66,269.0 167.71,268.6 167.75,269.4 167.80,271.6 167.85,275.0 167.90,279.7 167.94,285.3 167.99,291.5 168.04,297.8 168.09,304.0 168.13,309.4 168.18,313.8 168.23,316.6 168.27,317.5 168.32,316.5 168.37,313.3 168.42,308.0 168.46,300.9 168.51,292.1 168.56,282.2 168.61,271.5 168.65,260.6 168.70,250.0 168.75,240.4 168.80,232.1 168.84,225.6 168.89,221.2 168.94,219.1 168.99,219.3 169.03,221.7 169.08,226.2 169.13,232.3 169.18,239.7 169.22,247.8 169.27,256.2 169.32,264.3 169.37,271.6 169.41,277.8 169.46,282.4 169.51,285.3 169.56,286.5 169.60,285.8 169.65,283.6 169.70,280.1 169.75,275.6 169.79,270.5 169.84,265.4 169.89,260.7 169.94,256.8 169.98,254.1 170.03,252.9 170.08,253.3 170.12,255.4 170.17,259.3 170.22,264.6 170.27,271.1 170.31,278.6 170.36,286.4 170.41,294.3 170.46,301.6 170.50,308.1 170.55,313.1 170.60,316.6 170.65,318.1 170.69,317.6 170.74,315.1 170.79,310.7 170.84,304.5 170.88,296.8 170.93,288.1 170.98,278.7 171.03,269.1 171.07,259.8 171.12,251.1 171.17,243.4 171.22,237.2 171.26,232.5 171.31,229.5 171.36,228.3 171.41,228.8 171.45,230.9 171.50,234.2 171.55,238.7 171.60,243.8 171.64,249.2 171.69,254.7 171.74,259.9 171.78,264.4 171.83,268.1 171.88,270.8 171.93,272.4 171.97,273.0 172.02,272.7 172.07,271.6 172.12,269.9 172.16,267.9 172.21,266.0 172.26,264.4 172.31,263.5 172.35,263.4 172.40,264.4 172.45,266.7 172.50,270.2 172.54,274.9 172.59,280.6 172.64,287.2 172.69,294.3 172.73,301.5 172.78,308.5 172.83,314.8 172.88,320.0 172.92,323.8 172.97,325.7 173.02,325.7 173.07,323.4 173.11,319.1 173.16,312.6 173.21,304.2 173.26,294.4 173.30,283.4 173.35,271.7 173.40,259.9 173.44,248.6 173.49,238.2 173.54,229.3 173.59,222.2 173.63,217.3 173.68,214.7 173.73,214.5 173.78,216.7 173.82,221.0 173.87,227.2 173.92,234.7 173.97,243.2 174.01,252.1 174.06,260.9 174.11,269.2 174.16,276.3 174.20,282.1 174.25,286.3 174.30,288.7 174.35,289.3 174.39,288.3 174.44,285.9 174.49,282.4 174.54,278.3 174.58,274.0 174.63,269.9 174.68,266.5 174.73,264.1 174.77,263.0 174.82,263.5 174.87,265.5 174.92,269.0 174.96,273.8 175.01,279.6 175.06,286.2 175.10,292.9 175.15,299.4 175.20,305.2 175.25,309.8 175.29,312.8 175.34,314.1 175.39,313.3 175.44,310.4 175.48,305.6 175.53,299.0 175.58,290.9 175.63,281.8 175.67,272.0 175.72,262.1 175.77,252.6 175.82,244.0 175.86,236.7 175.91,231.1 175.96,227.4 176.01,225.7 176.05,226.0 176.10,228.2 176.15,232.1 176.20,237.4 176.24,243.6 176.29,250.4 176.34,257.2 176.39,263.6 176.43,269.3 176.48,273.9 176.53,277.2 176.58,279.0 176.62,279.3 176.67,278.3 176.72,276.0 176.76,272.7 176.81,268.8 176.86,264.6 176.91,260.6 176.95,257.2 177.00,254.6 177.05,253.2 177.10,253.2 177.14,254.8 177.19,258.0 177.24,262.6 177.29,268.6 177.33,275.6 177.38,283.4 177.43,291.4 177.48,299.4 177.52,306.8 177.57,313.2 177.62,318.3 177.67,321.7 177.71,323.2 177.76,322.7 177.81,320.1 177.86,315.5 177.90,309.0 177.95,300.9 178.00,291.7 178.05,281.6 178.09,271.1 178.14,260.7 178.19,250.9 178.24,242.1 178.28,234.6 178.33,228.7 178.38,224.7 178.43,222.6 178.47,222.5 178.52,224.2 178.57,227.6 178.61,232.3 178.66,238.1 178.71,244.6 178.76,251.3 178.80,257.9 178.85,264.0 178.90,269.3 178.95,273.6 178.99,276.7 179.04,278.5 179.09,279.1 179.14,278.6 179.18,277.3 179.23,275.4 179.28,273.2 179.33,271.1 179.37,269.5 179.42,268.6 179.47,268.7 179.52,269.9 179.56,272.5 179.61,276.3 179.66,281.2 179.71,287.0 179.75,293.5 179.80,300.2 179.85,306.7 179.90,312.6 179.94,317.3 179.99,320.7 180.04,322.1 180.09,321.6 180.13,318.9 180.18,314.0 180.23,307.0 180.27,298.3 180.32,288.1 180.37,277.0 180.42,265.4 180.46,254.0 180.51,243.2 180.56,233.7 180.61,225.8 180.65,220.0 180.70,216.5 180.75,215.5 180.80,216.9 180.84,220.5 180.89,226.1 180.94,233.3 180.99,241.6 181.03,250.5 181.08,259.4 181.13,267.9 181.18,275.4 181.22,281.5 181.27,285.9 181.32,288.6 181.37,289.3 181.41,288.3 181.46,285.7 181.51,281.9 181.56,277.3 181.60,272.2 181.65,267.2 181.70,262.8 181.75,259.3 181.79,257.1 181.84,256.4 181.89,257.4 181.93,260.1 181.98,264.3 182.03,269.9 182.08,276.4 182.12,283.6 182.17,290.9 182.22,297.9 182.27,304.1 182.31,309.1 182.36,312.6 182.41,314.3 182.46,314.0 182.50,311.8 182.55,307.6 182.60,301.7 182.65,294.4 182.69,285.9 182.74,276.8 182.79,267.6 182.84,258.5 182.88,250.2 182.93,242.9 182.98,237.1 183.03,232.8 183.07,230.3 183.12,229.5 183.17,230.5 183.22,232.9 183.26,236.7 183.31,241.4 183.36,246.7 183.41,252.2 183.45,257.6 183.50,262.6 183.55,266.8 183.59,270.0 183.64,272.2 183.69,273.1 183.74,273.0 183.78,271.9 183.83,270.0 183.88,267.5 183.93,264.8 183.97,262.2 184.02,260.0 184.07,258.5 184.12,258.0 184.16,258.7 184.21,260.7 184.26,264.1 184.31,268.8 184.35,274.7 184.40,281.5 184.45,289.0 184.50,296.8 184.54,304.5 184.59,311.6 184.64,317.7 184.69,322.4 184.73,325.5 184.78,326.6 184.83,325.5 184.88,322.3 184.92,317.0 184.97,309.7 185.02,300.7 185.07,290.4 185.11,279.3 185.16,267.7 185.21,256.3 185.26,245.5 185.30,235.9 185.35,227.9 185.40,221.8 185.44,217.9 185.49,216.2 185.54,216.8 185.59,219.5 185.63,224.2 185.68,230.5 185.73,237.9 185.78,246.0 185.82,254.3 185.87,262.4 185.92,269.7 185.97,276.0 186.01,280.9 186.06,284.2 186.11,286.0 186.16,286.2 186.20,285.1 186.25,282.8 186.30,279.8 186.35,276.4 186.39,273.1 186.44,270.2 186.49,268.2 186.54,267.3 186.58,267.7 186.63,269.5 186.68,272.8 186.73,277.4 186.77,282.9 186.82,289.2 186.87,295.8 186.92,302.1 186.96,307.9 187.01,312.5 187.06,315.6 187.10,317.0 187.15,316.3 187.20,313.5 187.25,308.6 187.29,301.8 187.34,293.4 187.39,283.7 187.44,273.3 187.48,262.7 187.53,252.4 187.58,242.9 187.63,234.7 187.67,228.2 187.72,223.7 187.77,221.4 187.82,221.4 187.86,223.5 187.91,227.5 187.96,233.2 188.01,240.0 188.05,247.7 188.10,255.5 188.15,263.1 188.20,270.1 188.24,275.9 188.29,280.3 188.34,283.2 188.39,284.3 188.43,283.8 188.48,281.8 188.53,278.5 188.58,274.4 188.62,269.7 188.67,264.9 188.72,260.5 188.76,256.8 188.81,254.2 188.86,253.0 188.91,253.4 188.95,255.4 189.00,259.0 189.05,264.0 189.10,270.3 189.14,277.5 189.19,285.2 189.24,292.9 189.29,300.3 189.33,306.9 189.38,312.4 189.43,316.2 189.48,318.3 189.52,318.5 189.57,316.7 189.62,312.9 189.67,307.3 189.71,300.1 189.76,291.7 189.81,282.5 189.86,272.9 189.90,263.3 189.95,254.1 190.00,245.8 190.05,238.7 190.09,233.1 190.14,229.2 190.19,227.0 190.24,226.6 190.28,227.9 190.33,230.7 190.38,234.8 190.43,239.8 190.47,245.4 190.52,251.2 190.57,256.9 190.61,262.1 190.66,266.6 190.71,270.2 190.76,272.7 190.80,274.1 190.85,274.4 190.90,273.8 190.95,272.5 190.99,270.6 191.04,268.6 191.09,266.7 191.14,265.3 191.18,264.7 191.23,265.1 191.28,266.7 191.33,269.6 191.37,273.7 191.42,279.0 191.47,285.3 191.52,292.2 191.56,299.5 191.61,306.6 191.66,313.2 191.71,318.8 191.75,323.0 191.80,325.5 191.85,325.9 191.90,324.1 191.94,320.0 191.99,313.8 192.04,305.6 192.09,295.8 192.13,284.7 192.18,272.9 192.23,260.9 192.27,249.3 192.32,238.6 192.37,229.5 192.42,222.2 192.46,217.1 192.51,214.4 192.56,214.2 192.61,216.4 192.65,220.8 192.70,227.1 192.75,234.9 192.80,243.5 192.84,252.6 192.89,261.6 192.94,269.9 192.99,277.2 193.03,283.0 193.08,287.1 193.13,289.3 193.18,289.8 193.22,288.6 193.27,286.0 193.32,282.3 193.37,277.9 193.41,273.4 193.46,269.1 193.51,265.4 193.56,262.9 193.60,261.6 193.65,261.9 193.70,263.8 193.75,267.2 193.79,272.0 193.84,277.8 193.89,284.3 193.93,291.1 193.98,297.7 194.03,303.6 194.08,308.5 194.12,311.8 194.17,313.4 194.22,313.1 194.27,310.8 194.31,306.5 194.36,300.5 194.41,293.0 194.46,284.3 194.50,275.0 194.55,265.5 194.60,256.3 194.65,247.8 194.69,240.4 194.74,234.6 194.79,230.4 194.84,228.2 194.88,227.8 194.93,229.2 194.98,232.3 195.03,236.7 195.07,242.1 195.12,248.2 195.17,254.4 195.22,260.4 195.26,265.9 195.31,270.4 195.36,273.9 195.41,276.0 195.45,276.9 195.50,276.4 195.55,274.7 195.59,272.1 195.64,268.8 195.69,265.2 195.74,261.6 195.78,258.4 195.83,256.0 195.88,254.5 195.93,254.3 195.97,255.6 196.02,258.3 196.07,262.5 196.12,268.0 196.16,274.6 196.21,282.1 196.26,290.0 196.31,297.9 196.35,305.4 196.40,312.2 196.45,317.7 196.50,321.7 196.54,323.8 196.59,323.9 196.64,321.9 196.69,317.8 196.73,311.8 196.78,304.0 196.83,294.8 196.88,284.5 196.92,273.7 196.97,262.9 197.02,252.4 197.07,242.8 197.11,234.5 197.16,227.8 197.21,223.0 197.25,220.3 197.30,219.7 197.35,221.2 197.40,224.4 197.44,229.3 197.49,235.4 197.54,242.4 197.59,249.7 197.63,257.0 197.68,263.8 197.73,269.8 197.78,274.8 197.82,278.4 197.87,280.6 197.92,281.5 197.97,281.1 198.01,279.7 198.06,277.5 198.11,275.0 198.16,272.4 198.20,270.2 198.25,268.7 198.30,268.2 198.35,268.9 198.39,271.0 198.44,274.5 198.49,279.2 198.54,284.9 198.58,291.4 198.63,298.1 198.68,304.8 198.73,311.0 198.77,316.0 198.82,319.7 198.87,321.5 198.92,321.3 198.96,318.9 199.01,314.3 199.06,307.6 199.10,299.1 199.15,289.1 199.20,278.2 199.25,266.7 199.29,255.4 199.34,244.7 199.39,235.3 199.44,227.4 199.48,221.7 199.53,218.2 199.58,217.1 199.63,218.3 199.67,221.8 199.72,227.2 199.77,234.2 199.82,242.2 199.86,250.8 199.91,259.5 199.96,267.6 200.01,274.8 200.05,280.7 200.10,284.9 200.15,287.4 200.20,288.1 200.24,287.1 200.29,284.6 200.34,280.8 200.39,276.3 200.43,271.4 200.48,266.5 200.53,262.2 200.58,258.8 200.62,256.6 200.67,255.9 200.72,256.7 200.76,259.2 200.81,263.3 200.86,268.6 200.91,275.0 200.95,282.0 201.00,289.2 201.05,296.3 201.10,302.6 201.14,307.9 201.19,311.8 201.24,314.0 201.29,314.4 201.33,312.8 201.38,309.4 201.43,304.2 201.48,297.4 201.52,289.5 201.57,280.8 201.62,271.7 201.67,262.7 201.71,254.1 201.76,246.4 201.81,239.9 201.86,234.8 201.90,231.4 201.95,229.6 202.00,229.5 202.05,231.1 202.09,234.0 202.14,238.0 202.19,242.8 202.24,248.1 202.28,253.6 202.33,258.8 202.38,263.4 202.42,267.3 202.47,270.2 202.52,272.0 202.57,272.7 202.61,272.4 202.66,271.1 202.71,269.2 202.76,266.9 202.80,264.4 202.85,262.2 202.90,260.5 202.95,259.6 202.99,259.8 203.04,261.2 203.09,264.1 203.14,268.2 203.18,273.6 203.23,280.1 203.28,287.4 203.33,295.1 203.37,302.9 203.42,310.2 203.47,316.7 203.52,321.9 203.56,325.5 203.61,327.1 203.66,326.6 203.71,323.8 203.75,318.8 203.80,311.6 203.85,302.7 203.90,292.3 203.94,280.9 203.99,268.9 204.04,257.1 204.09,245.9 204.13,235.8 204.18,227.3 204.23,220.8 204.27,216.6 204.32,214.7 204.37,215.3 204.42,218.1 204.46,223.0 204.51,229.5 204.56,237.3 204.61,245.8 204.65,254.5 204.70,263.0 204.75,270.7 204.80,277.2 204.84,282.3 204.89,285.8 204.94,287.5 204.99,287.6 205.03,286.3 205.08,283.8 205.13,280.4 205.18,276.7 205.22,273.0 205.27,269.8 205.32,267.4 205.37,266.2 205.41,266.3 205.46,267.9 205.51,271.0 205.56,275.4 205.60,281.0 205.65,287.2 205.70,293.8 205.75,300.3 205.79,306.1 205.84,310.9 205.89,314.3 205.93,316.0 205.98,315.6 206.03,313.2 206.08,308.8 206.12,302.5 206.17,294.6 206.22,285.4 206.27,275.5 206.31,265.2 206.36,255.2 206.41,246.0 206.46,237.9 206.50,231.4 206.55,226.8 206.60,224.3 206.65,223.8 206.69,225.4 206.74,228.8 206.79,233.8 206.84,240.0 206.88,246.9 206.93,254.1 206.98,261.2 207.03,267.7 207.07,273.3 207.12,277.6 207.17,280.5 207.22,281.8 207.26,281.6 207.31,280.0 207.36,277.2 207.41,273.6 207.45,269.3 207.50,264.9" class="sig" style="stroke-width:0.5" filter="url(#sh)"/>
<line x1="36.75" y1="342.5" x2="36.75" y2="340.7" class="tk"/>
<line x1="36.75" y1="197.3" x2="36.75" y2="199.10000000000002" class="tk"/>
<line x1="53.83" y1="342.5" x2="53.83" y2="340.7" class="tk"/>
<line x1="53.83" y1="197.3" x2="53.83" y2="199.10000000000002" class="tk"/>
<line x1="70.90" y1="342.5" x2="70.90" y2="340.7" class="tk"/>
<line x1="70.90" y1="197.3" x2="70.90" y2="199.10000000000002" class="tk"/>
<line x1="87.97" y1="342.5" x2="87.97" y2="340.7" class="tk"/>
<line x1="87.97" y1="197.3" x2="87.97" y2="199.10000000000002" class="tk"/>
<line x1="105.05" y1="342.5" x2="105.05" y2="340.7" class="tk"/>
<line x1="105.05" y1="197.3" x2="105.05" y2="199.10000000000002" class="tk"/>
<line x1="122.12" y1="342.5" x2="122.12" y2="340.7" class="tk"/>
<line x1="122.12" y1="197.3" x2="122.12" y2="199.10000000000002" class="tk"/>
<line x1="139.20" y1="342.5" x2="139.20" y2="340.7" class="tk"/>
<line x1="139.20" y1="197.3" x2="139.20" y2="199.10000000000002" class="tk"/>
<line x1="156.27" y1="342.5" x2="156.27" y2="340.7" class="tk"/>
<line x1="156.27" y1="197.3" x2="156.27" y2="199.10000000000002" class="tk"/>
<line x1="173.35" y1="342.5" x2="173.35" y2="340.7" class="tk"/>
<line x1="173.35" y1="197.3" x2="173.35" y2="199.10000000000002" class="tk"/>
<line x1="190.43" y1="342.5" x2="190.43" y2="340.7" class="tk"/>
<line x1="190.43" y1="197.3" x2="190.43" y2="199.10000000000002" class="tk"/>
<line x1="207.50" y1="342.5" x2="207.50" y2="340.7" class="tk"/>
<line x1="207.50" y1="197.3" x2="207.50" y2="199.10000000000002" class="tk"/>
<line x1="36.75" y1="342.50" x2="38.55" y2="342.50" class="tk"/>
<line x1="207.5" y1="342.50" x2="205.7" y2="342.50" class="tk"/>
<line x1="36.75" y1="324.35" x2="38.55" y2="324.35" class="tk"/>
<line x1="207.5" y1="324.35" x2="205.7" y2="324.35" class="tk"/>
<line x1="36.75" y1="306.20" x2="38.55" y2="306.20" class="tk"/>
<line x1="207.5" y1="306.20" x2="205.7" y2="306.20" class="tk"/>
<line x1="36.75" y1="288.05" x2="38.55" y2="288.05" class="tk"/>
<line x1="207.5" y1="288.05" x2="205.7" y2="288.05" class="tk"/>
<line x1="36.75" y1="269.90" x2="38.55" y2="269.90" class="tk"/>
<line x1="207.5" y1="269.90" x2="205.7" y2="269.90" class="tk"/>
<line x1="36.75" y1="251.75" x2="38.55" y2="251.75" class="tk"/>
<line x1="207.5" y1="251.75" x2="205.7" y2="251.75" class="tk"/>
<line x1="36.75" y1="233.60" x2="38.55" y2="233.60" class="tk"/>
<line x1="207.5" y1="233.60" x2="205.7" y2="233.60" class="tk"/>
<line x1="36.75" y1="215.45" x2="38.55" y2="215.45" class="tk"/>
<line x1="207.5" y1="215.45" x2="205.7" y2="215.45" class="tk"/>
<line x1="36.75" y1="197.30" x2="38.55" y2="197.30" class="tk"/>
<line x1="207.5" y1="197.30" x2="205.7" y2="197.30" class="tk"/>
<rect x="36.75" y="197.3" width="170.75" height="145.20" class="box"/>
<text x="36.75" y="353.10" class="t" text-anchor="middle">0</text>
<text x="53.83" y="353.10" class="t" text-anchor="middle">10</text>
<text x="70.90" y="353.10" class="t" text-anchor="middle">20</text>
<text x="87.97" y="353.10" class="t" text-anchor="middle">30</text>
<text x="105.05" y="353.10" class="t" text-anchor="middle">40</text>
<text x="122.12" y="353.10" class="t" text-anchor="middle">50</text>
<text x="139.20" y="353.10" class="t" text-anchor="middle">60</text>
<text x="156.27" y="353.10" class="t" text-anchor="middle">70</text>
<text x="173.35" y="353.10" class="t" text-anchor="middle">80</text>
<text x="190.43" y="353.10" class="t" text-anchor="middle">90</text>
<text x="207.50" y="353.10" class="t" text-anchor="middle">100</text>
<text x="33.35" y="345.20" class="t" text-anchor="end">−0.35</text>
<text x="33.35" y="327.05" class="t" text-anchor="end">−0.3</text>
<text x="33.35" y="308.90" class="t" text-anchor="end">−0.25</text>
<text x="33.35" y="290.75" class="t" text-anchor="end">−0.2</text>
<text x="33.35" y="272.60" class="t" text-anchor="end">−0.15</text>
<text x="33.35" y="254.45" class="t" text-anchor="end">−0.1</text>
<text x="33.35" y="236.30" class="t" text-anchor="end">−0.05</text>
<text x="33.35" y="218.15" class="t" text-anchor="end">0</text>
<text x="33.35" y="200.00" class="t" text-anchor="end">0.05</text>
<text x="122.12" y="363.70" class="l" text-anchor="middle" xml:space="preserve" textLength="87.5">number of rotations N</text>
<text transform="translate(7.90,270.80) rotate(-90)" class="l" text-anchor="middle" textLength="124.5">dimensionless y-displacement <tspan font-style="italic">ε</tspan><tspan font-size="7" dy="1.5">y</tspan></text>
<text x="5.6" y="193.8" class="l">(c)</text>
<line x1="289.97" y1="197.3" x2="289.97" y2="339.4" class="gr"/>
<line x1="319.43" y1="197.3" x2="319.43" y2="339.4" class="gr"/>
<line x1="348.90" y1="197.3" x2="348.90" y2="339.4" class="gr"/>
<line x1="378.37" y1="197.3" x2="378.37" y2="339.4" class="gr"/>
<line x1="407.83" y1="197.3" x2="407.83" y2="339.4" class="gr"/>
<line x1="260.5" y1="292.03" x2="437.3" y2="292.03" class="gr"/>
<line x1="260.5" y1="244.67" x2="437.3" y2="244.67" class="gr"/>
<polyline points="260.50,339.2 260.62,339.2 260.74,339.2 260.85,339.2 260.97,339.2 261.09,339.2 261.21,339.2 261.33,339.2 261.44,339.2 261.56,339.2 261.68,339.2 261.80,339.2 261.91,339.2 262.03,339.2 262.15,339.2 262.27,339.2 262.39,339.2 262.50,339.2 262.62,339.2 262.74,339.2 262.86,339.2 262.98,339.2 263.09,339.2 263.21,339.2 263.33,339.2 263.45,339.2 263.56,339.2 263.68,339.2 263.80,339.2 263.92,339.2 264.04,339.2 264.15,339.2 264.27,339.2 264.39,339.2 264.51,339.2 264.63,339.2 264.74,339.2 264.86,339.2 264.98,339.2 265.10,339.2 265.21,339.2 265.33,339.2 265.45,339.2 265.57,339.2 265.69,339.2 265.80,339.2 265.92,339.2 266.04,339.2 266.16,339.2 266.28,339.2 266.39,339.2 266.51,339.2 266.63,339.2 266.75,339.2 266.86,339.2 266.98,339.2 267.10,339.2 267.22,339.2 267.34,339.2 267.45,339.1 267.57,339.1 267.69,339.1 267.81,339.1 267.93,339.1 268.04,339.1 268.16,339.1 268.28,339.1 268.40,339.1 268.51,339.1 268.63,339.1 268.75,339.1 268.87,339.1 268.99,339.1 269.10,339.1 269.22,339.1 269.34,339.1 269.46,339.1 269.58,339.1 269.69,339.1 269.81,339.1 269.93,339.1 270.05,339.1 270.17,339.1 270.28,339.1 270.40,339.1 270.52,339.1 270.64,339.1 270.75,339.1 270.87,339.1 270.99,339.1 271.11,339.1 271.23,339.1 271.34,339.1 271.46,339.1 271.58,339.1 271.70,339.1 271.82,339.1 271.93,339.1 272.05,339.1 272.17,339.1 272.29,339.1 272.40,339.1 272.52,339.1 272.64,339.1 272.76,339.1 272.88,339.1 272.99,339.1 273.11,339.1 273.23,339.1 273.35,339.1 273.47,339.1 273.58,339.1 273.70,339.1 273.82,339.1 273.94,339.1 274.05,339.1 274.17,339.0 274.29,339.0 274.41,339.0 274.53,339.0 274.64,339.0 274.76,339.0 274.88,339.0 275.00,339.0 275.12,339.0 275.23,339.0 275.35,339.0 275.47,338.9 275.59,338.9 275.70,338.9 275.82,338.9 275.94,338.8 276.06,338.7 276.18,338.6 276.27,338.4 276.29,338.4 276.40,337.8 276.41,337.7 276.47,337.1 276.50,336.6 276.53,336.3 276.56,336.6 276.59,337.1 276.65,337.7 276.66,337.8 276.77,338.4 276.79,338.4 276.88,338.6 277.00,338.7 277.12,338.8 277.24,338.8 277.35,338.9 277.47,338.9 277.59,338.9 277.71,338.9 277.83,339.0 277.94,339.0 278.06,339.0 278.18,339.0 278.30,339.0 278.42,339.0 278.53,339.0 278.65,339.0 278.77,339.0 278.89,339.0 279.01,339.0 279.12,339.0 279.24,339.0 279.36,339.0 279.48,339.0 279.59,339.0 279.71,339.0 279.83,339.0 279.95,339.0 280.07,339.0 280.18,339.0 280.30,339.0 280.42,339.0 280.54,339.0 280.66,339.0 280.77,339.0 280.89,339.0 281.01,339.0 281.13,339.0 281.24,339.0 281.36,339.0 281.48,339.0 281.60,339.0 281.72,339.0 281.83,339.0 281.95,339.0 282.07,339.0 282.19,339.0 282.31,339.0 282.42,339.0 282.54,339.0 282.66,339.0 282.78,339.0 282.89,339.0 283.01,339.0 283.13,339.0 283.25,339.0 283.37,339.0 283.48,339.0 283.60,339.0 283.72,339.0 283.84,339.0 283.96,339.0 284.07,339.0 284.19,339.0 284.31,339.0 284.43,339.0 284.54,339.0 284.66,339.0 284.78,339.0 284.90,339.0 285.02,339.0 285.13,339.0 285.25,339.0 285.37,339.0 285.49,339.0 285.61,339.0 285.72,339.0 285.84,339.0 285.96,339.0 286.08,339.0 286.19,339.0 286.31,339.0 286.43,338.9 286.55,338.9 286.67,338.9 286.78,338.9 286.90,338.9 287.02,338.9 287.14,338.9 287.26,338.9 287.37,338.9 287.49,338.9 287.61,338.9 287.73,338.9 287.85,338.9 287.96,338.9 288.08,338.9 288.20,338.9 288.32,338.9 288.43,338.9 288.55,338.9 288.67,338.9 288.79,338.9 288.91,338.9 289.02,338.9 289.14,338.9 289.26,338.9 289.38,338.9 289.50,338.9 289.61,338.9 289.73,338.9 289.85,338.9 289.97,338.9 290.08,338.9 290.20,338.9 290.32,338.8 290.44,338.8 290.56,338.8 290.67,338.8 290.79,338.8 290.91,338.8 291.03,338.8 291.15,338.8 291.26,338.8 291.38,338.8 291.50,338.8 291.62,338.8 291.73,338.8 291.85,338.8 291.97,338.8 292.09,338.8 292.21,338.8 292.32,338.8 292.44,338.8 292.56,338.8 292.68,338.7 292.80,338.7 292.91,338.7 293.03,338.7 293.15,338.7 293.27,338.7 293.38,338.7 293.50,338.7 293.62,338.7 293.74,338.7 293.86,338.7 293.97,338.7 294.09,338.7 294.21,338.7 294.33,338.6 294.45,338.6 294.56,338.6 294.68,338.6 294.80,338.6 294.92,338.6 295.03,338.6 295.15,338.6 295.27,338.6 295.39,338.6 295.51,338.5 295.62,338.5 295.74,338.5 295.86,338.5 295.98,338.5 296.10,338.5 296.21,338.5 296.33,338.5 296.45,338.4 296.57,338.4 296.69,338.4 296.80,338.4 296.92,338.4 297.04,338.4 297.16,338.3 297.27,338.3 297.39,338.3 297.51,338.3 297.63,338.3 297.75,338.3 297.86,338.2 297.98,338.2 298.10,338.2 298.22,338.2 298.34,338.1 298.45,338.1 298.57,338.1 298.69,338.0 298.81,338.0 298.92,338.0 299.04,337.9 299.16,337.9 299.28,337.9 299.40,337.8 299.51,337.8 299.63,337.7 299.75,337.7 299.87,337.6 299.99,337.5 300.10,337.5 300.22,337.4 300.34,337.3 300.46,337.3 300.57,337.2 300.69,337.1 300.81,337.0 300.93,336.8 301.05,336.7 301.16,336.6 301.28,336.4 301.40,336.2 301.52,336.0 301.64,335.8 301.75,335.5 301.87,335.2 301.99,334.8 302.11,334.3 302.22,333.8 302.34,333.0 302.46,332.1 302.58,330.8 302.70,329.0 302.81,326.2 302.89,323.4 302.93,321.3 303.05,311.1 303.06,310.0 303.14,293.0 303.17,285.7 303.18,280.8 303.23,273.9 303.27,280.8 303.29,285.7 303.31,293.0 303.40,310.0 303.40,311.1 303.52,321.3 303.56,323.4 303.64,326.1 303.76,329.0 303.87,330.8 303.99,332.1 304.11,333.0 304.23,333.7 304.35,334.3 304.46,334.8 304.58,335.2 304.70,335.5 304.82,335.8 304.94,336.0 305.05,336.2 305.17,336.4 305.29,336.6 305.41,336.7 305.53,336.8 305.64,336.9 305.76,337.0 305.88,337.1 306.00,337.2 306.11,337.3 306.23,337.4 306.35,337.4 306.47,337.5 306.59,337.6 306.70,337.6 306.82,337.7 306.94,337.7 307.06,337.8 307.18,337.8 307.29,337.8 307.41,337.9 307.53,337.9 307.65,338.0 307.76,338.0 307.88,338.0 308.00,338.0 308.12,338.1 308.24,338.1 308.35,338.1 308.47,338.1 308.59,338.2 308.71,338.2 308.83,338.2 308.94,338.2 309.06,338.2 309.18,338.3 309.30,338.3 309.41,338.3 309.53,338.3 309.65,338.3 309.77,338.3 309.89,338.3 310.00,338.4 310.12,338.4 310.24,338.4 310.36,338.4 310.48,338.4 310.59,338.4 310.71,338.4 310.83,338.4 310.95,338.4 311.06,338.5 311.18,338.5 311.30,338.5 311.42,338.5 311.54,338.5 311.65,338.5 311.77,338.5 311.89,338.5 312.01,338.5 312.13,338.5 312.24,338.5 312.36,338.5 312.48,338.5 312.60,338.5 312.71,338.5 312.83,338.5 312.95,338.6 313.07,338.6 313.19,338.6 313.30,338.6 313.42,338.6 313.54,338.6 313.66,338.6 313.78,338.6 313.89,338.6 314.01,338.6 314.13,338.6 314.25,338.6 314.37,338.6 314.48,338.6 314.60,338.6 314.72,338.6 314.84,338.6 314.95,338.6 315.07,338.6 315.19,338.6 315.31,338.6 315.43,338.6 315.54,338.6 315.66,338.6 315.78,338.6 315.90,338.6 316.02,338.5 316.13,338.5 316.25,338.5 316.37,338.5 316.49,338.5 316.60,338.5 316.72,338.5 316.84,338.5 316.96,338.5 317.08,338.5 317.19,338.4 317.31,338.4 317.43,338.4 317.55,338.4 317.67,338.3 317.78,338.3 317.90,338.3 318.02,338.2 318.14,338.2 318.25,338.1 318.37,338.0 318.49,337.9 318.61,337.8 318.73,337.6 318.84,337.3 318.96,336.9 319.08,336.3 319.17,335.4 319.20,335.1 319.30,332.5 319.32,332.0 319.37,328.8 319.40,326.2 319.43,324.7 319.47,326.2 319.50,328.8 319.55,332.0 319.56,332.5 319.67,335.1 319.69,335.4 319.79,336.3 319.90,337.0 320.02,337.3 320.14,337.6 320.26,337.8 320.38,337.9 320.49,338.0 320.61,338.1 320.73,338.2 320.85,338.3 320.97,338.3 321.08,338.4 321.20,338.4 321.32,338.4 321.44,338.5 321.55,338.5 321.67,338.5 321.79,338.5 321.91,338.5 322.03,338.6 322.14,338.6 322.26,338.6 322.38,338.6 322.50,338.6 322.62,338.6 322.73,338.6 322.85,338.7 322.97,338.7 323.09,338.7 323.21,338.7 323.32,338.7 323.44,338.7 323.56,338.7 323.68,338.7 323.79,338.7 323.91,338.7 324.03,338.7 324.15,338.7 324.27,338.7 324.38,338.7 324.50,338.8 324.62,338.8 324.74,338.8 324.86,338.8 324.97,338.8 325.09,338.8 325.21,338.8 325.33,338.8 325.44,338.8 325.56,338.8 325.68,338.8 325.80,338.8 325.92,338.8 326.03,338.8 326.15,338.8 326.27,338.8 326.39,338.8 326.51,338.8 326.62,338.8 326.74,338.8 326.86,338.8 326.98,338.8 327.09,338.8 327.21,338.8 327.33,338.8 327.45,338.8 327.57,338.8 327.68,338.8 327.80,338.8 327.92,338.8 328.04,338.8 328.16,338.8 328.27,338.8 328.39,338.8 328.51,338.8 328.63,338.8 328.74,338.8 328.86,338.8 328.98,338.8 329.10,338.8 329.22,338.8 329.33,338.8 329.45,338.8 329.57,338.8 329.69,338.8 329.81,338.8 329.92,338.8 330.04,338.8 330.16,338.8 330.28,338.8 330.39,338.8 330.51,338.8 330.63,338.8 330.75,338.8 330.87,338.8 330.98,338.8 331.10,338.8 331.22,338.8 331.34,338.8 331.46,338.8 331.57,338.8 331.69,338.8 331.81,338.8 331.93,338.8 332.05,338.8 332.16,338.8 332.28,338.8 332.40,338.8 332.52,338.8 332.63,338.8 332.75,338.8 332.87,338.8 332.99,338.8 333.11,338.8 333.22,338.8 333.34,338.8 333.46,338.8 333.58,338.8 333.70,338.8 333.81,338.8 333.93,338.8 334.05,338.8 334.17,338.8 334.28,338.8 334.40,338.8 334.52,338.8 334.64,338.8 334.76,338.8 334.87,338.8 334.99,338.8 335.11,338.8 335.23,338.8 335.35,338.8 335.46,338.8 335.58,338.8 335.70,338.8 335.82,338.8 335.93,338.8 336.05,338.7 336.17,338.7 336.29,338.7 336.41,338.7 336.52,338.7 336.64,338.7 336.76,338.7 336.88,338.7 337.00,338.7 337.11,338.7 337.23,338.7 337.35,338.7 337.47,338.7 337.58,338.7 337.70,338.7 337.82,338.7 337.94,338.7 338.06,338.7 338.17,338.7 338.29,338.6 338.41,338.6 338.53,338.6 338.65,338.6 338.76,338.6 338.88,338.6 339.00,338.6 339.12,338.6 339.23,338.6 339.35,338.6 339.47,338.6 339.59,338.5 339.71,338.5 339.82,338.5 339.94,338.5 340.06,338.5 340.18,338.5 340.30,338.5 340.41,338.5 340.53,338.4 340.65,338.4 340.77,338.4 340.89,338.4 341.00,338.4 341.12,338.4 341.24,338.3 341.36,338.3 341.47,338.3 341.59,338.3 341.71,338.2 341.83,338.2 341.95,338.2 342.06,338.2 342.18,338.1 342.30,338.1 342.42,338.1 342.54,338.0 342.65,338.0 342.77,337.9 342.89,337.9 343.01,337.8 343.12,337.8 343.24,337.7 343.36,337.7 343.48,337.6 343.60,337.5 343.71,337.4 343.83,337.3 343.95,337.2 344.07,337.1 344.19,336.9 344.30,336.8 344.42,336.6 344.54,336.4 344.66,336.1 344.77,335.8 344.89,335.4 345.01,335.0 345.13,334.4 345.25,333.6 345.36,332.5 345.48,330.9 345.60,328.2 345.62,327.7 345.72,323.3 345.78,318.0 345.84,311.7 345.87,305.7 345.91,296.8 345.95,291.8 346.00,296.8 346.04,305.7 346.07,311.7 346.12,318.0 346.19,323.3 346.29,327.7 346.31,328.2 346.42,330.9 346.54,332.5 346.66,333.6 346.78,334.4 346.90,335.0 347.01,335.5 347.13,335.8 347.25,336.1 347.37,336.4 347.49,336.6 347.60,336.8 347.72,337.0 347.84,337.1 347.96,337.2 348.07,337.3 348.19,337.4 348.31,337.5 348.43,337.6 348.55,337.7 348.66,337.7 348.78,337.8 348.90,337.9 349.02,337.9 349.14,338.0 349.25,338.0 349.37,338.0 349.49,338.1 349.61,338.1 349.73,338.2 349.84,338.2 349.96,338.2 350.08,338.2 350.20,338.3 350.31,338.3 350.43,338.3 350.55,338.3 350.67,338.4 350.79,338.4 350.90,338.4 351.02,338.4 351.14,338.4 351.26,338.5 351.38,338.5 351.49,338.5 351.61,338.5 351.73,338.5 351.85,338.5 351.96,338.5 352.08,338.6 352.20,338.6 352.32,338.6 352.44,338.6 352.55,338.6 352.67,338.6 352.79,338.6 352.91,338.6 353.03,338.6 353.14,338.7 353.26,338.7 353.38,338.7 353.50,338.7 353.61,338.7 353.73,338.7 353.85,338.7 353.97,338.7 354.09,338.7 354.20,338.7 354.32,338.7 354.44,338.7 354.56,338.7 354.68,338.8 354.79,338.8 354.91,338.8 355.03,338.8 355.15,338.8 355.26,338.8 355.38,338.8 355.50,338.8 355.62,338.8 355.74,338.8 355.85,338.8 355.97,338.8 356.09,338.8 356.21,338.8 356.33,338.8 356.44,338.8 356.56,338.8 356.68,338.8 356.80,338.8 356.91,338.8 357.03,338.8 357.15,338.8 357.27,338.8 357.39,338.8 357.50,338.8 357.62,338.9 357.74,338.9 357.86,338.9 357.98,338.9 358.09,338.9 358.21,338.9 358.33,338.9 358.45,338.9 358.57,338.9 358.68,338.9 358.80,338.9 358.92,338.9 359.04,338.9 359.15,338.9 359.27,338.9 359.39,338.9 359.51,338.9 359.63,338.9 359.74,338.9 359.86,338.9 359.98,338.9 360.10,338.8 360.22,338.8 360.33,338.8 360.45,338.8 360.57,338.8 360.69,338.8 360.80,338.8 360.92,338.8 361.04,338.8 361.16,338.8 361.28,338.7 361.39,338.7 361.51,338.7 361.63,338.6 361.75,338.6 361.87,338.5 361.98,338.4 362.10,338.2 362.20,337.9 362.22,337.8 362.33,336.9 362.34,336.8 362.39,335.7 362.42,334.9 362.45,334.4 362.49,334.9 362.52,335.7 362.57,336.8 362.58,336.9 362.69,337.8 362.71,337.9 362.81,338.2 362.93,338.4 363.04,338.5 363.16,338.6 363.28,338.7 363.40,338.7 363.52,338.8 363.63,338.8 363.75,338.8 363.87,338.8 363.99,338.8 364.10,338.9 364.22,338.9 364.34,338.9 364.46,338.9 364.58,338.9 364.69,338.9 364.81,338.9 364.93,338.9 365.05,338.9 365.17,338.9 365.28,339.0 365.40,339.0 365.52,339.0 365.64,339.0 365.75,339.0 365.87,339.0 365.99,339.0 366.11,339.0 366.23,339.0 366.34,339.0 366.46,339.0 366.58,339.0 366.70,339.0 366.82,339.0 366.93,339.0 367.05,339.0 367.17,339.0 367.29,339.0 367.41,339.0 367.52,339.0 367.64,339.0 367.76,339.0 367.88,339.0 367.99,339.0 368.11,339.0 368.23,339.0 368.35,339.0 368.47,339.0 368.58,339.0 368.70,339.0 368.82,339.0 368.94,339.0 369.06,339.0 369.17,339.1 369.29,339.1 369.41,339.1 369.53,339.1 369.64,339.1 369.76,339.1 369.88,339.1 370.00,339.1 370.12,339.1 370.23,339.1 370.35,339.1 370.47,339.1 370.59,339.1 370.71,339.1 370.82,339.1 370.94,339.1 371.06,339.1 371.18,339.1 371.29,339.1 371.41,339.1 371.53,339.1 371.65,339.1 371.77,339.1 371.88,339.1 372.00,339.1 372.12,339.1 372.24,339.1 372.36,339.1 372.47,339.1 372.59,339.1 372.71,339.1 372.83,339.1 372.94,339.1 373.06,339.1 373.18,339.1 373.30,339.1 373.42,339.1 373.53,339.1 373.65,339.1 373.77,339.1 373.89,339.1 374.01,339.1 374.12,339.1 374.24,339.1 374.36,339.1 374.48,339.1 374.59,339.1 374.71,339.1 374.83,339.1 374.95,339.1 375.07,339.1 375.18,339.1 375.30,339.1 375.42,339.1 375.54,339.1 375.66,339.1 375.77,339.1 375.89,339.1 376.01,339.1 376.13,339.1 376.25,339.1 376.36,339.1 376.48,339.1 376.60,339.1 376.72,339.1 376.83,339.1 376.95,339.1 377.07,339.1 377.19,339.1 377.31,339.1 377.42,339.1 377.54,339.1 377.66,339.1 377.78,339.1 377.90,339.1 378.01,339.1 378.13,339.1 378.25,339.1 378.37,339.1 378.48,339.1 378.60,339.1 378.72,339.1 378.84,339.1 378.96,339.1 379.07,339.1 379.19,339.1 379.31,339.1 379.43,339.1 379.55,339.1 379.66,339.1 379.78,339.1 379.90,339.1 380.02,339.1 380.13,339.1 380.25,339.1 380.37,339.1 380.49,339.1 380.61,339.1 380.72,339.1 380.84,339.1 380.96,339.1 381.08,339.1 381.20,339.1 381.31,339.1 381.43,339.1 381.55,339.1 381.67,339.1 381.78,339.1 381.90,339.1 382.02,339.1 382.14,339.1 382.26,339.1 382.37,339.1 382.49,339.1 382.61,339.1 382.73,339.1 382.85,339.1 382.96,339.1 383.08,339.1 383.20,339.1 383.32,339.1 383.43,339.1 383.55,339.1 383.67,339.1 383.79,339.1 383.91,339.1 384.02,339.1 384.14,339.1 384.26,339.1 384.38,339.1 384.50,339.1 384.61,339.1 384.73,339.1 384.85,339.1 384.97,339.1 385.09,339.1 385.20,339.1 385.32,339.1 385.44,339.0 385.56,339.0 385.67,339.0 385.79,339.0 385.91,339.0 386.03,339.0 386.15,339.0 386.26,339.0 386.38,339.0 386.50,339.0 386.62,339.0 386.74,339.0 386.85,339.0 386.97,338.9 387.09,338.9 387.21,338.9 387.32,338.9 387.44,338.9 387.56,338.8 387.68,338.8 387.80,338.7 387.91,338.7 388.03,338.6 388.15,338.6 388.27,338.4 388.39,338.3 388.50,338.1 388.62,337.7 388.72,337.2 388.74,337.0 388.85,335.4 388.86,335.2 388.91,333.3 388.94,331.7 388.97,330.8 389.01,331.7 389.04,333.3 389.09,335.2 389.10,335.4 389.21,337.0 389.23,337.2 389.33,337.7 389.45,338.1 389.56,338.3 389.68,338.4 389.80,338.6 389.92,338.6 390.04,338.7 390.15,338.8 390.27,338.8 390.39,338.8 390.51,338.9 390.62,338.9 390.74,338.9 390.86,338.9 390.98,339.0 391.10,339.0 391.21,339.0 391.33,339.0 391.45,339.0 391.57,339.0 391.69,339.0 391.80,339.0 391.92,339.0 392.04,339.0 392.16,339.1 392.27,339.1 392.39,339.1 392.51,339.1 392.63,339.1 392.75,339.1 392.86,339.1 392.98,339.1 393.10,339.1 393.22,339.1 393.34,339.1 393.45,339.1 393.57,339.1 393.69,339.1 393.81,339.1 393.93,339.1 394.04,339.1 394.16,339.1 394.28,339.1 394.40,339.1 394.51,339.1 394.63,339.1 394.75,339.1 394.87,339.1 394.99,339.1 395.10,339.1 395.22,339.1 395.34,339.2 395.46,339.2 395.58,339.2 395.69,339.2 395.81,339.2 395.93,339.2 396.05,339.2 396.16,339.2 396.28,339.2 396.40,339.2 396.52,339.2 396.64,339.2 396.75,339.2 396.87,339.2 396.99,339.2 397.11,339.2 397.23,339.2 397.34,339.2 397.46,339.2 397.58,339.2 397.70,339.2 397.81,339.2 397.93,339.2 398.05,339.2 398.17,339.2 398.29,339.2 398.40,339.2 398.52,339.2 398.64,339.2 398.76,339.2 398.88,339.2 398.99,339.2 399.11,339.2 399.23,339.2 399.35,339.2 399.46,339.2 399.58,339.2 399.70,339.2 399.82,339.2 399.94,339.2 400.05,339.2 400.17,339.2 400.29,339.2 400.41,339.2 400.53,339.2 400.64,339.2 400.76,339.2 400.88,339.2 401.00,339.2 401.11,339.2 401.23,339.2 401.35,339.2 401.47,339.2 401.59,339.2 401.70,339.2 401.82,339.2 401.94,339.2 402.06,339.2 402.18,339.2 402.29,339.2 402.41,339.2 402.53,339.2 402.65,339.2 402.77,339.2 402.88,339.2 403.00,339.2 403.12,339.2 403.24,339.2 403.35,339.2 403.47,339.2 403.59,339.2 403.71,339.2 403.83,339.2 403.94,339.2 404.06,339.2 404.18,339.2 404.30,339.2 404.42,339.2 404.53,339.2 404.65,339.2 404.77,339.2 404.89,339.2 405.00,339.2 405.12,339.2 405.24,339.2 405.36,339.2 405.48,339.2 405.59,339.2 405.71,339.2 405.83,339.2 405.95,339.2 406.07,339.2 406.18,339.2 406.30,339.2 406.42,339.2 406.54,339.2 406.65,339.2 406.77,339.2 406.89,339.2 407.01,339.2 407.13,339.2 407.24,339.2 407.36,339.2 407.48,339.2 407.60,339.2 407.72,339.2 407.83,339.2 407.95,339.2 408.07,339.2 408.19,339.2 408.30,339.2 408.42,339.2 408.54,339.2 408.66,339.2 408.78,339.2 408.89,339.2 409.01,339.2 409.13,339.2 409.25,339.2 409.37,339.2 409.48,339.2 409.60,339.2 409.72,339.2 409.84,339.2 409.95,339.2 410.07,339.2 410.19,339.2 410.31,339.2 410.43,339.2 410.54,339.2 410.66,339.2 410.78,339.2 410.90,339.2 411.02,339.2 411.13,339.2 411.25,339.2 411.37,339.2 411.49,339.2 411.61,339.2 411.72,339.2 411.84,339.2 411.96,339.2 412.08,339.2 412.19,339.2 412.31,339.2 412.43,339.2 412.55,339.2 412.67,339.2 412.78,339.2 412.90,339.3 413.02,339.3 413.14,339.3 413.26,339.3 413.37,339.3 413.49,339.3 413.61,339.3 413.73,339.3 413.84,339.3 413.96,339.3 414.08,339.3 414.20,339.3 414.32,339.3 414.43,339.3 414.55,339.3 414.67,339.3 414.79,339.3 414.91,339.3 415.02,339.3 415.14,339.3 415.26,339.3 415.38,339.3 415.49,339.3 415.61,339.3 415.73,339.3 415.85,339.3 415.97,339.3 416.08,339.3 416.20,339.3 416.32,339.3 416.44,339.3 416.56,339.3 416.67,339.3 416.79,339.3 416.91,339.3 417.03,339.3 417.14,339.3 417.26,339.3 417.38,339.3 417.50,339.3 417.62,339.3 417.73,339.3 417.85,339.3 417.97,339.3 418.09,339.3 418.21,339.3 418.32,339.3 418.44,339.3 418.56,339.3 418.68,339.3 418.79,339.3 418.91,339.3 419.03,339.3 419.15,339.3 419.27,339.3 419.38,339.3 419.50,339.3 419.62,339.3 419.74,339.3 419.86,339.3 419.97,339.3 420.09,339.3 420.21,339.3 420.33,339.3 420.45,339.3 420.56,339.3 420.68,339.3 420.80,339.3 420.92,339.3 421.03,339.3 421.15,339.3 421.27,339.3 421.39,339.3 421.51,339.3 421.62,339.3 421.74,339.3 421.86,339.3 421.98,339.3 422.10,339.3 422.21,339.3 422.33,339.3 422.45,339.3 422.57,339.3 422.68,339.3 422.80,339.3 422.92,339.3 423.04,339.3 423.16,339.3 423.27,339.3 423.39,339.3 423.51,339.3 423.63,339.3 423.75,339.3 423.86,339.3 423.98,339.3 424.10,339.3 424.22,339.3 424.33,339.3 424.45,339.3 424.57,339.3 424.69,339.3 424.81,339.3 424.92,339.3 425.04,339.3 425.16,339.3 425.28,339.3 425.40,339.3 425.51,339.3 425.63,339.3 425.75,339.3 425.87,339.3 425.98,339.3 426.10,339.3 426.22,339.3 426.34,339.3 426.46,339.3 426.57,339.3 426.69,339.3 426.81,339.3 426.93,339.3 427.05,339.3 427.16,339.3 427.28,339.3 427.40,339.3 427.52,339.3 427.63,339.3 427.75,339.3 427.87,339.3 427.99,339.3 428.11,339.3 428.22,339.3 428.34,339.3 428.46,339.3 428.58,339.3 428.70,339.3 428.81,339.3 428.93,339.3 429.05,339.3 429.17,339.3 429.29,339.3 429.40,339.3 429.52,339.3 429.64,339.3 429.76,339.3 429.87,339.3 429.99,339.3 430.11,339.3 430.23,339.3 430.35,339.3 430.46,339.3 430.58,339.3 430.70,339.3 430.82,339.3 430.94,339.3 431.05,339.3 431.17,339.3 431.29,339.3 431.41,339.3 431.52,339.3 431.64,339.3 431.76,339.3 431.88,339.3 432.00,339.3 432.11,339.3 432.23,339.3 432.35,339.3 432.47,339.3 432.59,339.3 432.70,339.3 432.82,339.3 432.94,339.3 433.06,339.3 433.17,339.3 433.29,339.3 433.41,339.3 433.53,339.3 433.65,339.3 433.76,339.3 433.88,339.3 434.00,339.3 434.12,339.3 434.24,339.3 434.35,339.3 434.47,339.3 434.59,339.3 434.71,339.3 434.82,339.3 434.94,339.3 435.06,339.3 435.18,339.3 435.30,339.3 435.41,339.3 435.53,339.3 435.65,339.3 435.77,339.3 435.89,339.3 436.00,339.3 436.12,339.3 436.24,339.3 436.36,339.3 436.47,339.3 436.59,339.3 436.71,339.3 436.83,339.3 436.95,339.3 437.06,339.3 437.18,339.3 437.30,339.3" class="sp"/>
<line x1="260.50" y1="339.4" x2="260.50" y2="337.59999999999997" class="tk"/>
<line x1="260.50" y1="197.3" x2="260.50" y2="199.10000000000002" class="tk"/>
<line x1="289.97" y1="339.4" x2="289.97" y2="337.59999999999997" class="tk"/>
<line x1="289.97" y1="197.3" x2="289.97" y2="199.10000000000002" class="tk"/>
<line x1="319.43" y1="339.4" x2="319.43" y2="337.59999999999997" class="tk"/>
<line x1="319.43" y1="197.3" x2="319.43" y2="199.10000000000002" class="tk"/>
<line x1="348.90" y1="339.4" x2="348.90" y2="337.59999999999997" class="tk"/>
<line x1="348.90" y1="197.3" x2="348.90" y2="199.10000000000002" class="tk"/>
<line x1="378.37" y1="339.4" x2="378.37" y2="337.59999999999997" class="tk"/>
<line x1="378.37" y1="197.3" x2="378.37" y2="199.10000000000002" class="tk"/>
<line x1="407.83" y1="339.4" x2="407.83" y2="337.59999999999997" class="tk"/>
<line x1="407.83" y1="197.3" x2="407.83" y2="199.10000000000002" class="tk"/>
<line x1="437.30" y1="339.4" x2="437.30" y2="337.59999999999997" class="tk"/>
<line x1="437.30" y1="197.3" x2="437.30" y2="199.10000000000002" class="tk"/>
<line x1="260.5" y1="339.40" x2="262.3" y2="339.40" class="tk"/>
<line x1="437.3" y1="339.40" x2="435.5" y2="339.40" class="tk"/>
<line x1="260.5" y1="292.03" x2="262.3" y2="292.03" class="tk"/>
<line x1="437.3" y1="292.03" x2="435.5" y2="292.03" class="tk"/>
<line x1="260.5" y1="244.67" x2="262.3" y2="244.67" class="tk"/>
<line x1="437.3" y1="244.67" x2="435.5" y2="244.67" class="tk"/>
<line x1="260.5" y1="197.30" x2="262.3" y2="197.30" class="tk"/>
<line x1="437.3" y1="197.30" x2="435.5" y2="197.30" class="tk"/>
<rect x="260.5" y="197.3" width="176.80" height="142.10" class="box"/>
<text x="260.50" y="350.80" class="t" text-anchor="middle">0</text>
<text x="289.97" y="350.80" class="t" text-anchor="middle">0.5</text>
<text x="319.43" y="350.80" class="t" text-anchor="middle">1</text>
<text x="348.90" y="350.80" class="t" text-anchor="middle">1.5</text>
<text x="378.37" y="350.80" class="t" text-anchor="middle">2</text>
<text x="407.83" y="350.80" class="t" text-anchor="middle">2.5</text>
<text x="437.30" y="350.80" class="t" text-anchor="middle">3</text>
<text x="257.10" y="342.10" class="t" text-anchor="end">0</text>
<text x="257.10" y="294.73" class="t" text-anchor="end">0.05</text>
<text x="257.10" y="247.37" class="t" text-anchor="end">0.1</text>
<text x="257.10" y="200.00" class="t" text-anchor="end">0.15</text>
<text x="348.90" y="363.70" class="l" text-anchor="middle" xml:space="preserve" textLength="81.5">frequency ratio    <tspan font-style="italic">ω</tspan>/Ω</text>
<text transform="translate(239.30,268.35) rotate(-90)" class="l" text-anchor="middle" textLength="101.8">dimensionless y-amplitude</text>
<text x="236" y="193.8" class="l">(d)</text>
<text transform="translate(276.13,332.80) rotate(-90)" class="a"><tspan font-style="italic">ω</tspan>/Ω = 0.272</text>
<text transform="translate(305.83,269.00) rotate(-90)" class="a"><tspan font-style="italic">ω</tspan>/Ω = 0.725</text>
<text transform="translate(322.83,319.70) rotate(-90)" class="a"><tspan font-style="italic">ω</tspan>/Ω = 1</text>
<text transform="translate(348.05,284.50) rotate(-90)" class="a"><tspan font-style="italic">ω</tspan>/Ω = 1.45</text>
<text transform="translate(365.45,330.70) rotate(-90)" class="a"><tspan font-style="italic">ω</tspan>/Ω = 1.73</text>
<text transform="translate(390.77,325.00) rotate(-90)" class="a"><tspan font-style="italic">ω</tspan>/Ω = 2.18</text>
<line x1="50.00" y1="381.4" x2="50.00" y2="526.25" class="gr"/>
<line x1="67.50" y1="381.4" x2="67.50" y2="526.25" class="gr"/>
<line x1="85.00" y1="381.4" x2="85.00" y2="526.25" class="gr"/>
<line x1="102.50" y1="381.4" x2="102.50" y2="526.25" class="gr"/>
<line x1="120.00" y1="381.4" x2="120.00" y2="526.25" class="gr"/>
<line x1="137.50" y1="381.4" x2="137.50" y2="526.25" class="gr"/>
<line x1="155.00" y1="381.4" x2="155.00" y2="526.25" class="gr"/>
<line x1="172.50" y1="381.4" x2="172.50" y2="526.25" class="gr"/>
<line x1="190.00" y1="381.4" x2="190.00" y2="526.25" class="gr"/>
<line x1="32.5" y1="490.04" x2="207.5" y2="490.04" class="gr"/>
<line x1="32.5" y1="453.82" x2="207.5" y2="453.82" class="gr"/>
<line x1="32.5" y1="417.61" x2="207.5" y2="417.61" class="gr"/>
<polyline points="32.50,413.4 32.55,413.7 32.60,414.7 32.65,416.3 32.69,418.6 32.74,421.4 32.79,424.7 32.84,428.6 32.89,432.8 32.94,437.4 32.99,442.2 33.03,447.2 33.08,452.3 33.13,457.4 33.18,462.4 33.23,467.3 33.28,471.9 33.33,476.2 33.38,480.2 33.42,483.8 33.47,486.9 33.52,489.4 33.57,491.4 33.62,492.9 33.67,493.7 33.72,494.0 33.76,493.6 33.81,492.6 33.86,491.0 33.91,488.9 33.96,486.1 34.01,482.9 34.06,479.2 34.10,475.1 34.15,470.6 34.20,465.8 34.25,460.8 34.30,455.7 34.35,450.4 34.40,445.2 34.44,440.1 34.49,435.2 34.54,430.6 34.59,426.3 34.64,422.5 34.69,419.1 34.74,416.3 34.78,414.2 34.83,412.6 34.88,411.8 34.93,411.6 34.98,412.2 35.03,413.5 35.08,415.4 35.12,417.9 35.17,421.1 35.22,424.8 35.27,428.9 35.32,433.5 35.37,438.3 35.42,443.5 35.47,448.7 35.51,454.0 35.56,459.3 35.61,464.5 35.66,469.5 35.71,474.3 35.76,478.7 35.81,482.7 35.85,486.3 35.90,489.3 35.95,491.8 36.00,493.7 36.05,495.0 36.10,495.7 36.15,495.7 36.19,495.1 36.24,493.8 36.29,492.0 36.34,489.5 36.39,486.5 36.44,482.9 36.49,478.9 36.53,474.4 36.58,469.6 36.63,464.5 36.68,459.3 36.73,453.8 36.78,448.4 36.83,443.0 36.88,437.7 36.92,432.7 36.97,428.0 37.02,423.7 37.07,419.9 37.12,416.6 37.17,413.9 37.22,411.8 37.26,410.5 37.31,409.9 37.36,410.0 37.41,410.8 37.46,412.3 37.51,414.6 37.56,417.5 37.60,420.9 37.65,425.0 37.70,429.4 37.75,434.3 37.80,439.5 37.85,444.9 37.90,450.4 37.94,455.9 37.99,461.4 38.04,466.8 38.09,471.9 38.14,476.8 38.19,481.2 38.24,485.3 38.28,488.8 38.33,491.8 38.38,494.2 38.43,496.0 38.48,497.1 38.53,497.6 38.58,497.4 38.62,496.5 38.67,494.9 38.72,492.8 38.77,490.0 38.82,486.6 38.87,482.7 38.92,478.4 38.97,473.6 39.01,468.5 39.06,463.1 39.11,457.5 39.16,451.9 39.21,446.2 39.26,440.6 39.31,435.2 39.35,430.1 39.40,425.3 39.45,421.0 39.50,417.2 39.55,414.0 39.60,411.4 39.65,409.5 39.69,408.4 39.74,408.0 39.79,408.4 39.84,409.5 39.89,411.4 39.94,413.9 39.99,417.2 40.03,421.0 40.08,425.3 40.13,430.1 40.18,435.3 40.23,440.8 40.28,446.4 40.33,452.2 40.38,458.0 40.42,463.7 40.47,469.2 40.52,474.4 40.57,479.4 40.62,483.9 40.67,487.9 40.72,491.4 40.76,494.3 40.81,496.6 40.86,498.2 40.91,499.1 40.96,499.4 41.01,498.9 41.06,497.8 41.10,495.9 41.15,493.4 41.20,490.3 41.25,486.6 41.30,482.4 41.35,477.7 41.40,472.6 41.44,467.1 41.49,461.5 41.54,455.6 41.59,449.7 41.64,443.9 41.69,438.1 41.74,432.6 41.78,427.4 41.83,422.6 41.88,418.3 41.93,414.6 41.98,411.5 42.03,409.1 42.08,407.4 42.12,406.5 42.17,406.3 42.22,407.0 42.27,408.4 42.32,410.6 42.37,413.5 42.42,417.1 42.47,421.2 42.51,425.9 42.56,431.1 42.61,436.5 42.66,442.3 42.71,448.2 42.76,454.2 42.81,460.2 42.85,466.0 42.90,471.6 42.95,477.0 43.00,481.9 43.05,486.4 43.10,490.4 43.15,493.8 43.19,496.6 43.24,498.8 43.29,500.2 43.34,500.9 43.39,500.9 43.44,500.2 43.49,498.7 43.53,496.6 43.58,493.8 43.63,490.3 43.68,486.3 43.73,481.7 43.78,476.7 43.83,471.3 43.88,465.6 43.92,459.6 43.97,453.6 44.02,447.5 44.07,441.4 44.12,435.6 44.17,430.0 44.22,424.7 44.26,419.9 44.31,415.7 44.36,412.1 44.41,409.1 44.46,406.9 44.51,405.4 44.56,404.7 44.60,404.9 44.65,405.8 44.70,407.6 44.75,410.1 44.80,413.4 44.85,417.3 44.90,421.7 44.94,426.8 44.99,432.2 45.04,438.0 45.09,444.0 45.14,450.1 45.19,456.3 45.24,462.5 45.28,468.4 45.33,474.2 45.38,479.6 45.43,484.5 45.48,489.0 45.53,492.9 45.58,496.3 45.62,498.9 45.67,500.9 45.72,502.1 45.77,502.6 45.82,502.3 45.87,501.3 45.92,499.6 45.97,497.1 46.01,493.9 46.06,490.2 46.11,485.8 46.16,480.9 46.21,475.6 46.26,469.8 46.31,463.8 46.35,457.7 46.40,451.4 46.45,445.1 46.50,438.9 46.55,432.9 46.60,427.3 46.65,422.0 46.69,417.2 46.74,413.1 46.79,409.5 46.84,406.7 46.89,404.7 46.94,403.5 46.99,403.1 47.03,403.5 47.08,404.8 47.13,406.9 47.18,409.8 47.23,413.3 47.28,417.6 47.33,422.4 47.38,427.8 47.42,433.5 47.47,439.5 47.52,445.8 47.57,452.2 47.62,458.6 47.67,464.9 47.72,471.0 47.76,476.8 47.81,482.2 47.86,487.2 47.91,491.6 47.96,495.5 48.01,498.7 48.06,501.2 48.10,502.9 48.15,503.9 48.20,504.2 48.25,503.6 48.30,502.3 48.35,500.2 48.40,497.5 48.44,494.0 48.49,489.8 48.54,485.1 48.59,479.9 48.64,474.3 48.69,468.2 48.74,462.0 48.78,455.5 48.83,449.0 48.88,442.6 48.93,436.2 48.98,430.2 49.03,424.5 49.08,419.2 49.12,414.5 49.17,410.4 49.22,407.1 49.27,404.4 49.32,402.6 49.37,401.7 49.42,401.6 49.47,402.3 49.51,403.9 49.56,406.4 49.61,409.6 49.66,413.5 49.71,418.1 49.76,423.3 49.81,428.9 49.85,435.0 49.90,441.3 49.95,447.8 50.00,454.4 50.05,461.0 50.10,467.4 50.15,473.6 50.19,479.5 50.24,484.9 50.29,489.8 50.34,494.2 50.39,498.0 50.44,501.0 50.49,503.3 50.53,504.9 50.58,505.6 50.63,505.6 50.68,504.7 50.73,503.1 50.78,500.7 50.83,497.5 50.88,493.7 50.92,489.3 50.97,484.2 51.02,478.7 51.07,472.7 51.12,466.4 51.17,459.9 51.22,453.3 51.26,446.6 51.31,440.0 51.36,433.6 51.41,427.5 51.46,421.8 51.51,416.6 51.56,412.0 51.60,408.0 51.65,404.9 51.70,402.5 51.75,400.9 51.80,400.2 51.85,400.4 51.90,401.5 51.94,403.5 51.99,406.2 52.04,409.8 52.09,414.1 52.14,419.0 52.19,424.5 52.24,430.4 52.28,436.7 52.33,443.3 52.38,450.0 52.43,456.7 52.48,463.4 52.53,469.9 52.58,476.2 52.62,482.0 52.67,487.4 52.72,492.3 52.77,496.5 52.82,500.1 52.87,503.0 52.92,505.1 52.97,506.4 53.01,506.9 53.06,506.6 53.11,505.4 53.16,503.5 53.21,500.7 53.26,497.3 53.31,493.1 53.35,488.3 53.40,483.0 53.45,477.2 53.50,470.9 53.55,464.4 53.60,457.7 53.65,450.9 53.69,444.1 53.74,437.4 53.79,430.9 53.84,424.8 53.89,419.2 53.94,414.1 53.99,409.6 54.03,405.8 54.08,402.8 54.13,400.7 54.18,399.4 54.23,399.0 54.28,399.5 54.33,400.9 54.38,403.2 54.42,406.4 54.47,410.2 54.52,414.8 54.57,420.1 54.62,425.9 54.67,432.1 54.72,438.6 54.76,445.4 54.81,452.3 54.86,459.2 54.91,465.9 54.96,472.5 55.01,478.8 55.06,484.6 55.10,490.0 55.15,494.7 55.20,498.9 55.25,502.3 55.30,504.9 55.35,506.8 55.40,507.9 55.44,508.1 55.49,507.4 55.54,506.0 55.59,503.7 55.64,500.7 55.69,496.9 55.74,492.4 55.78,487.3 55.83,481.6 55.88,475.5 55.93,469.0 55.98,462.3 56.03,455.4 56.08,448.4 56.12,441.5 56.17,434.7 56.22,428.2 56.27,422.1 56.32,416.5 56.37,411.5 56.42,407.2 56.47,403.6 56.51,400.8 56.56,398.9 56.61,398.0 56.66,397.9 56.71,398.7 56.76,400.5 56.81,403.1 56.85,406.6 56.90,410.8 56.95,415.8 57.00,421.3 57.05,427.4 57.10,433.8 57.15,440.6 57.19,447.6 57.24,454.6 57.29,461.7 57.34,468.5 57.39,475.2 57.44,481.4 57.49,487.2 57.53,492.5 57.58,497.2 57.63,501.1 57.68,504.4 57.73,506.8 57.78,508.4 57.83,509.2 57.88,509.1 57.92,508.2 57.97,506.4 58.02,503.8 58.07,500.4 58.12,496.3 58.17,491.5 58.22,486.1 58.26,480.1 58.31,473.7 58.36,467.0 58.41,460.0 58.46,452.9 58.51,445.8 58.56,438.8 58.60,432.0 58.65,425.5 58.70,419.4 58.75,413.9 58.80,409.0 58.85,404.8 58.90,401.5 58.94,399.0 58.99,397.3 59.04,396.7 59.09,396.9 59.14,398.1 59.19,400.2 59.24,403.2 59.28,407.0 59.33,411.6 59.38,416.9 59.43,422.7 59.48,429.1 59.53,435.8 59.58,442.8 59.62,449.9 59.67,457.1 59.72,464.2 59.77,471.2 59.82,477.8 59.87,484.1 59.92,489.8 59.97,495.0 60.01,499.5 60.06,503.3 60.11,506.3 60.16,508.5 60.21,509.9 60.26,510.4 60.31,510.0 60.35,508.7 60.40,506.6 60.45,503.7 60.50,499.9 60.55,495.5 60.60,490.4 60.65,484.6 60.69,478.4 60.74,471.8 60.79,464.8 60.84,457.7 60.89,450.4 60.94,443.2 60.99,436.1 61.03,429.2 61.08,422.8 61.13,416.8 61.18,411.4 61.23,406.7 61.28,402.7 61.33,399.6 61.38,397.3 61.42,396.0 61.47,395.6 61.52,396.2 61.57,397.8 61.62,400.2 61.67,403.6 61.72,407.7 61.76,412.6 61.81,418.2 61.86,424.3 61.91,430.9 61.96,437.9 62.01,445.1 62.06,452.4 62.10,459.7 62.15,466.9 62.20,473.8 62.25,480.5 62.30,486.7 62.35,492.3 62.40,497.4 62.44,501.7 62.49,505.3 62.54,508.1 62.59,510.1 62.64,511.1 62.69,511.3 62.74,510.6 62.78,509.0 62.83,506.6 62.88,503.3 62.93,499.3 62.98,494.5 63.03,489.0 63.08,483.0 63.12,476.5 63.17,469.7 63.22,462.5 63.27,455.2 63.32,447.8 63.37,440.5 63.42,433.3 63.47,426.5 63.51,420.1 63.56,414.2 63.61,408.9 63.66,404.4 63.71,400.6 63.76,397.7 63.81,395.8 63.85,394.8 63.90,394.7 63.95,395.7 64.00,397.6 64.05,400.4 64.10,404.1 64.15,408.6 64.19,413.8 64.24,419.7 64.29,426.1 64.34,432.9 64.39,440.1 64.44,447.5 64.49,454.9 64.53,462.3 64.58,469.6 64.63,476.6 64.68,483.1 64.73,489.3 64.78,494.8 64.83,499.7 64.88,503.9 64.92,507.3 64.97,509.8 65.02,511.5 65.07,512.3 65.12,512.2 65.17,511.2 65.22,509.2 65.26,506.4 65.31,502.8 65.36,498.4 65.41,493.3 65.46,487.6 65.51,481.3 65.56,474.6 65.60,467.4 65.65,460.1 65.70,452.6 65.75,445.1 65.80,437.7 65.85,430.5 65.90,423.7 65.94,417.4 65.99,411.6 66.04,406.5 66.09,402.1 66.14,398.6 66.19,396.0 66.24,394.3 66.28,393.7 66.33,394.0 66.38,395.2 66.43,397.5 66.48,400.7 66.53,404.7 66.58,409.6 66.62,415.1 66.67,421.3 66.72,428.0 66.77,435.1 66.82,442.4 66.87,450.0 66.92,457.5 66.97,465.0 67.01,472.3 67.06,479.3 67.11,485.8 67.16,491.9 67.21,497.3 67.26,502.0 67.31,506.0 67.35,509.2 67.40,511.5 67.45,512.9 67.50,513.4 67.55,512.9 67.60,511.5 67.65,509.3 67.69,506.2 67.74,502.2 67.79,497.5 67.84,492.0 67.89,486.0 67.94,479.4 67.99,472.4 68.03,465.1 68.08,457.6 68.13,449.9 68.18,442.3 68.23,434.9 68.28,427.7 68.33,420.9 68.38,414.7 68.42,409.0 68.47,404.1 68.52,400.0 68.57,396.8 68.62,394.4 68.67,393.1 68.72,392.7 68.76,393.4 68.81,395.1 68.86,397.7 68.91,401.2 68.96,405.6 69.01,410.8 69.06,416.6 69.10,423.1 69.15,430.0 69.20,437.3 69.25,444.9 69.30,452.5 69.35,460.2 69.40,467.8 69.44,475.0 69.49,482.0 69.54,488.5 69.59,494.4 69.64,499.6 69.69,504.2 69.74,507.9 69.78,510.8 69.83,512.9 69.88,513.9 69.93,514.1 69.98,513.3 70.03,511.6 70.08,509.0 70.12,505.6 70.17,501.3 70.22,496.2 70.27,490.5 70.32,484.2 70.37,477.4 70.42,470.1 70.47,462.6 70.51,454.9 70.56,447.2 70.61,439.5 70.66,432.1 70.71,425.0 70.76,418.3 70.81,412.1 70.85,406.6 70.90,401.9 70.95,398.1 71.00,395.1 71.05,393.1 71.10,392.1 71.15,392.1 71.19,393.1 71.24,395.1 71.29,398.1 71.34,402.0 71.39,406.7 71.44,412.2 71.49,418.3 71.53,425.1 71.58,432.2 71.63,439.7 71.68,447.4 71.73,455.2 71.78,462.9 71.83,470.5 71.88,477.8 71.92,484.7 71.97,491.1 72.02,496.8 72.07,501.9 72.12,506.3 72.17,509.8 72.22,512.4 72.26,514.1 72.31,514.9 72.36,514.7 72.41,513.6 72.46,511.6 72.51,508.6 72.56,504.8 72.60,500.2 72.65,494.9 72.70,488.8 72.75,482.2 72.80,475.2 72.85,467.7 72.90,460.1 72.94,452.2 72.99,444.4 73.04,436.7 73.09,429.3 73.14,422.2 73.19,415.6 73.24,409.6 73.28,404.3 73.33,399.8 73.38,396.2 73.43,393.5 73.48,391.8 73.53,391.1 73.58,391.5 73.62,392.9 73.67,395.3 73.72,398.6 73.77,402.8 73.82,407.9 73.87,413.7 73.92,420.2 73.97,427.1 74.01,434.5 74.06,442.2 74.11,450.1 74.16,457.9 74.21,465.7 74.26,473.3 74.31,480.6 74.35,487.4 74.40,493.6 74.45,499.3 74.50,504.2 74.55,508.3 74.60,511.5 74.65,513.9 74.69,515.3 74.74,515.8 74.79,515.3 74.84,513.8 74.89,511.4 74.94,508.1 74.99,504.0 75.03,499.0 75.08,493.4 75.13,487.0 75.18,480.2 75.23,472.9 75.28,465.3 75.33,457.4 75.38,449.5 75.42,441.6 75.47,433.9 75.52,426.4 75.57,419.4 75.62,412.9 75.67,407.1 75.72,402.0 75.76,397.7 75.81,394.4 75.86,392.0 75.91,390.7 75.96,390.4 76.01,391.1 76.06,392.8 76.10,395.6 76.15,399.3 76.20,403.9 76.25,409.3 76.30,415.4 76.35,422.1 76.40,429.3 76.44,436.9 76.49,444.8 76.54,452.8 76.59,460.7 76.64,468.5 76.69,476.1 76.74,483.3 76.78,490.0 76.83,496.1 76.88,501.6 76.93,506.3 76.98,510.1 77.03,513.1 77.08,515.2 77.12,516.2 77.17,516.4 77.22,515.5 77.27,513.7 77.32,511.0 77.37,507.3 77.42,502.9 77.47,497.6 77.51,491.6 77.56,485.0 77.61,478.0 77.66,470.4 77.71,462.6 77.76,454.7 77.81,446.7 77.85,438.7 77.90,431.0 77.95,423.7 78.00,416.8 78.05,410.4 78.10,404.8 78.15,400.0 78.19,396.0 78.24,393.0 78.29,390.9 78.34,389.9 78.39,390.0 78.44,391.0 78.49,393.2 78.53,396.3 78.58,400.3 78.63,405.3 78.68,411.0 78.73,417.4 78.78,424.3 78.83,431.7 78.88,439.5 78.92,447.5 78.97,455.5 79.02,463.5 79.07,471.3 79.12,478.8 79.17,485.9 79.22,492.5 79.26,498.4 79.31,503.7 79.36,508.1 79.41,511.7 79.46,514.4 79.51,516.1 79.56,516.9 79.60,516.7 79.65,515.5 79.70,513.4 79.75,510.3 79.80,506.3 79.85,501.5 79.90,495.9 79.94,489.7 79.99,482.9 80.04,475.6 80.09,467.9 80.14,460.0 80.19,451.9 80.24,443.8 80.28,435.9 80.33,428.2 80.38,421.0 80.43,414.2 80.48,408.0 80.53,402.6 80.58,398.0 80.62,394.4 80.67,391.7 80.72,390.0 80.77,389.3 80.82,389.7 80.87,391.2 80.92,393.7 80.97,397.1 81.01,401.5 81.06,406.8 81.11,412.8 81.16,419.4 81.21,426.6 81.26,434.2 81.31,442.1 81.35,450.2 81.40,458.3 81.45,466.3 81.50,474.1 81.55,481.5 81.60,488.5 81.65,494.9 81.69,500.7 81.74,505.7 81.79,509.9 81.84,513.2 81.89,515.6 81.94,517.0 81.99,517.4 82.03,516.9 82.08,515.4 82.13,512.9 82.18,509.4 82.23,505.1 82.28,500.0 82.33,494.2 82.38,487.7 82.42,480.6 82.47,473.1 82.52,465.3 82.57,457.2 82.62,449.1 82.67,441.0 82.72,433.1 82.76,425.5 82.81,418.3 82.86,411.7 82.91,405.7 82.96,400.5 83.01,396.2 83.06,392.8 83.10,390.5 83.15,389.1 83.20,388.8 83.25,389.6 83.30,391.4 83.35,394.3 83.40,398.1 83.44,402.9 83.49,408.4 83.54,414.7 83.59,421.6 83.64,429.0 83.69,436.8 83.74,444.8 83.78,453.0 83.83,461.1 83.88,469.1 83.93,476.9 83.98,484.2 84.03,491.1 84.08,497.3 84.12,502.9 84.17,507.7 84.22,511.6 84.27,514.6 84.32,516.7 84.37,517.8 84.42,517.9 84.47,517.0 84.51,515.1 84.56,512.2 84.61,508.5 84.66,503.9 84.71,498.4 84.76,492.3 84.81,485.5 84.85,478.3 84.90,470.6 84.95,462.6 85.00,454.4 85.05,446.2 85.10,438.1 85.15,430.2 85.19,422.7 85.24,415.6 85.29,409.2 85.34,403.5 85.39,398.5 85.44,394.5 85.49,391.5 85.53,389.4 85.58,388.4 85.63,388.5 85.68,389.7 85.73,391.9 85.78,395.1 85.83,399.3 85.88,404.3 85.92,410.2 85.97,416.8 86.02,423.9 86.07,431.5 86.12,439.4 86.17,447.6 86.22,455.8 86.26,464.0 86.31,472.0 86.36,479.6 86.41,486.9 86.46,493.6 86.51,499.6 86.56,505.0 86.60,509.5 86.65,513.1 86.70,515.8 86.75,517.6 86.80,518.3 86.85,518.1 86.90,516.8 86.94,514.6 86.99,511.4 87.04,507.3 87.09,502.4 87.14,496.7 87.19,490.3 87.24,483.3 87.28,475.8 87.33,467.9 87.38,459.8 87.43,451.6 87.48,443.3 87.53,435.2 87.58,427.4 87.62,420.0 87.67,413.1 87.72,406.9 87.77,401.4 87.82,396.7 87.87,393.0 87.92,390.2 87.97,388.6 88.01,387.9 88.06,388.4 88.11,389.9 88.16,392.5 88.21,396.1 88.26,400.6 88.31,406.0 88.35,412.1 88.40,418.9 88.45,426.3 88.50,434.1 88.55,442.2 88.60,450.4 88.65,458.7 88.69,466.8 88.74,474.8 88.79,482.4 88.84,489.5 88.89,496.0 88.94,501.9 88.99,506.9 89.03,511.2 89.08,514.5 89.13,516.9 89.18,518.4 89.23,518.8 89.28,518.2 89.33,516.6 89.38,514.0 89.42,510.4 89.47,506.0 89.52,500.8 89.57,494.8 89.62,488.1 89.67,480.9 89.72,473.2 89.76,465.2 89.81,457.0 89.86,448.7 89.91,440.4 89.96,432.4 90.01,424.6 90.06,417.3 90.10,410.6 90.15,404.6 90.20,399.3 90.25,395.0 90.30,391.5 90.35,389.2 90.40,387.8 90.44,387.6 90.49,388.4 90.54,390.3 90.59,393.3 90.64,397.2 90.69,402.0 90.74,407.7 90.78,414.2 90.83,421.2 90.88,428.8 90.93,436.7 90.98,444.9 91.03,453.3 91.08,461.6 91.12,469.7 91.17,477.6 91.22,485.1 91.27,492.0 91.32,498.4 91.37,504.0 91.42,508.8 91.47,512.8 91.51,515.9 91.56,517.9 91.61,519.0 91.66,519.1 91.71,518.1 91.76,516.2 91.81,513.2 91.85,509.4 91.90,504.6 91.95,499.1 92.00,492.8 92.05,485.9 92.10,478.4 92.15,470.6 92.19,462.4 92.24,454.1 92.29,445.8 92.34,437.5 92.39,429.5 92.44,421.9 92.49,414.7 92.53,408.2 92.58,402.4 92.63,397.4 92.68,393.3 92.73,390.2 92.78,388.2 92.83,387.2 92.88,387.3 92.92,388.5 92.97,390.8 93.02,394.1 93.07,398.4 93.12,403.6 93.17,409.6 93.22,416.3 93.26,423.6 93.31,431.4 93.36,439.5 93.41,447.8 93.46,456.1 93.51,464.5 93.56,472.6 93.60,480.4 93.65,487.7 93.70,494.5 93.75,500.7 93.80,506.1 93.85,510.7 93.90,514.3 93.94,517.1 93.99,518.8 94.04,519.5 94.09,519.2 94.14,517.9 94.19,515.6 94.24,512.3 94.28,508.1 94.33,503.1 94.38,497.2 94.43,490.7 94.48,483.5 94.53,475.9 94.58,467.9 94.62,459.6 94.67,451.2 94.72,442.8 94.77,434.6 94.82,426.7 94.87,419.1 94.92,412.2 94.97,405.8 95.01,400.3 95.06,395.6 95.11,391.8 95.16,389.1 95.21,387.4 95.26,386.8 95.31,387.3 95.35,388.9 95.40,391.6 95.45,395.3 95.50,399.9 95.55,405.4 95.60,411.7 95.65,418.6 95.69,426.1 95.74,434.0 95.79,442.2 95.84,450.6 95.89,459.0 95.94,467.3 95.99,475.4 96.03,483.1 96.08,490.3 96.13,496.9 96.18,502.8 96.23,508.0 96.28,512.3 96.33,515.6 96.38,518.0 96.42,519.4 96.47,519.8 96.52,519.1 96.57,517.5 96.62,514.8 96.67,511.2 96.72,506.7 96.76,501.3 96.81,495.2 96.86,488.4 96.91,481.0 96.96,473.2 97.01,465.1 97.06,456.7 97.10,448.3 97.15,439.9 97.20,431.8 97.25,423.9 97.30,416.5 97.35,409.7 97.40,403.6 97.44,398.3 97.49,393.9 97.54,390.5 97.59,388.1 97.64,386.8 97.69,386.6 97.74,387.5 97.78,389.5 97.83,392.5 97.88,396.5 97.93,401.5 97.98,407.3 98.03,413.8 98.08,421.0 98.12,428.7 98.17,436.8 98.22,445.1 98.27,453.5 98.32,461.9 98.37,470.2 98.42,478.2 98.47,485.8 98.51,492.8 98.56,499.2 98.61,504.9 98.66,509.8 98.71,513.8 98.76,516.8 98.81,518.9 98.85,519.9 98.90,519.9 98.95,518.9 99.00,516.9 99.05,513.9 99.10,510.0 99.15,505.1 99.19,499.5 99.24,493.1 99.29,486.0 99.34,478.5 99.39,470.5 99.44,462.2 99.49,453.8 99.53,445.4 99.58,437.0 99.63,428.9 99.68,421.2 99.73,414.0 99.78,407.4 99.83,401.5 99.88,396.5 99.92,392.4 99.97,389.3 100.02,387.3 100.07,386.4 100.12,386.5 100.17,387.8 100.22,390.2 100.26,393.5 100.31,397.9 100.36,403.2 100.41,409.3 100.46,416.1 100.51,423.5 100.56,431.4 100.60,439.6 100.65,448.0 100.70,456.4 100.75,464.9 100.80,473.1 100.85,480.9 100.90,488.4 100.94,495.2 100.99,501.4 101.04,506.9 101.09,511.5 101.14,515.2 101.19,517.9 101.24,519.6 101.28,520.3 101.33,520.0 101.38,518.6 101.43,516.2 101.48,512.9 101.53,508.6 101.58,503.4 101.62,497.5 101.67,490.9 101.72,483.6 101.77,475.9 101.82,467.7 101.87,459.4 101.92,450.9 101.97,442.4 102.01,434.1 102.06,426.1 102.11,418.5 102.16,411.4 102.21,405.1 102.26,399.5 102.31,394.8 102.35,391.0 102.40,388.3 102.45,386.6 102.50,386.0 102.55,386.6 102.60,388.2 102.65,391.0 102.69,394.7 102.74,399.4 102.79,405.0 102.84,411.4 102.89,418.4 102.94,426.1 102.99,434.1 103.03,442.4 103.08,450.9 103.13,459.4 103.18,467.8 103.23,475.9 103.28,483.7 103.33,490.9 103.38,497.6 103.42,503.6 103.47,508.7 103.52,513.0 103.57,516.4 103.62,518.8 103.67,520.2 103.72,520.5 103.76,519.8 103.81,518.1 103.86,515.4 103.91,511.7 103.96,507.1 104.01,501.6 104.06,495.4 104.10,488.5 104.15,481.1 104.20,473.2 104.25,464.9 104.30,456.5 104.35,447.9 104.40,439.5 104.44,431.2 104.49,423.3 104.54,415.9 104.59,409.0 104.64,402.9 104.69,397.6 104.74,393.2 104.78,389.8 104.83,387.4 104.88,386.1 104.93,385.9 104.98,386.9 105.03,388.9 105.08,392.0 105.12,396.1 105.17,401.1 105.22,407.0 105.27,413.7 105.32,420.9 105.37,428.7 105.42,436.9 105.47,445.3 105.51,453.8 105.56,462.3 105.61,470.6 105.66,478.7 105.71,486.3 105.76,493.4 105.81,499.9 105.85,505.6 105.90,510.5 105.95,514.5 106.00,517.5 106.05,519.5 106.10,520.6 106.15,520.6 106.19,519.5 106.24,517.4 106.29,514.4 106.34,510.3 106.39,505.4 106.44,499.7 106.49,493.2 106.53,486.1 106.58,478.4 106.63,470.4 106.68,462.0 106.73,453.5 106.78,445.0 106.83,436.6 106.88,428.4 106.92,420.6 106.97,413.4 107.02,406.7 107.07,400.9 107.12,395.8 107.17,391.8 107.22,388.7 107.26,386.7 107.31,385.8 107.36,386.0 107.41,387.3 107.46,389.7 107.51,393.2 107.56,397.6 107.60,403.0 107.65,409.1 107.70,416.0 107.75,423.5 107.80,431.4 107.85,439.7 107.90,448.2 107.94,456.8 107.99,465.2 108.04,473.5 108.09,481.4 108.14,488.9 108.19,495.8 108.24,502.0 108.28,507.5 108.33,512.1 108.38,515.8 108.43,518.5 108.48,520.2 108.53,520.8 108.58,520.5 108.62,519.1 108.67,516.6 108.72,513.2 108.77,508.9 108.82,503.6 108.87,497.6 108.92,490.9 108.97,483.6 109.01,475.8 109.06,467.6 109.11,459.1 109.16,450.6 109.21,442.0 109.26,433.7 109.31,425.6 109.35,418.0 109.40,410.9 109.45,404.5 109.50,398.9 109.55,394.2 109.60,390.4 109.65,387.7 109.69,386.1 109.74,385.6 109.79,386.2 109.84,387.9 109.89,390.6 109.94,394.5 109.99,399.2 110.03,404.9 110.08,411.3 110.13,418.5 110.18,426.1 110.23,434.2 110.28,442.6 110.33,451.2 110.38,459.7 110.42,468.2 110.47,476.3 110.52,484.1 110.57,491.4 110.62,498.1 110.67,504.1 110.72,509.3 110.76,513.6 110.81,517.0 110.86,519.3 110.91,520.7 110.96,521.0 111.01,520.3 111.06,518.5 111.10,515.7 111.15,511.9 111.20,507.3 111.25,501.8 111.30,495.5 111.35,488.5 111.40,481.0 111.44,473.0 111.49,464.7 111.54,456.2 111.59,447.6 111.64,439.1 111.69,430.8 111.74,422.8 111.78,415.4 111.83,408.5 111.88,402.4 111.93,397.1 111.98,392.7 112.03,389.2 112.08,386.9 112.12,385.6 112.17,385.5 112.22,386.5 112.27,388.6 112.32,391.7 112.37,395.9 112.42,401.0 112.47,406.9 112.51,413.6 112.56,421.0 112.61,428.8 112.66,437.1 112.71,445.5 112.76,454.1 112.81,462.7 112.85,471.0 112.90,479.1 112.95,486.8 113.00,493.9 113.05,500.3 113.10,506.1 113.15,511.0 113.19,514.9 113.24,518.0 113.29,520.0 113.34,521.0 113.39,520.9 113.44,519.8 113.49,517.7 113.53,514.6 113.58,510.5 113.63,505.5 113.68,499.7 113.73,493.2 113.78,486.0 113.83,478.3 113.88,470.2 113.92,461.8 113.97,453.2 114.02,444.6 114.07,436.2 114.12,428.0 114.17,420.2 114.22,412.9 114.26,406.3 114.31,400.4 114.36,395.4 114.41,391.3 114.46,388.2 114.51,386.3 114.56,385.4 114.60,385.6 114.65,387.0 114.70,389.5 114.75,393.0 114.80,397.5 114.85,402.9 114.90,409.1 114.94,416.1 114.99,423.6 115.04,431.6 115.09,439.9 115.14,448.5 115.19,457.1 115.24,465.6 115.28,473.9 115.33,481.8 115.38,489.3 115.43,496.2 115.48,502.5 115.53,507.9 115.58,512.5 115.62,516.2 115.67,518.9 115.72,520.5 115.77,521.2 115.82,520.8 115.87,519.3 115.92,516.8 115.97,513.4 116.01,509.0 116.06,503.7 116.11,497.6 116.16,490.8 116.21,483.4 116.26,475.6 116.31,467.3 116.35,458.8 116.40,450.3 116.45,441.7 116.50,433.3 116.55,425.2 116.60,417.6 116.65,410.5 116.69,404.1 116.74,398.5 116.79,393.8 116.84,390.0 116.89,387.4 116.94,385.8 116.99,385.3 117.03,385.9 117.08,387.7 117.13,390.5 117.18,394.4 117.23,399.2 117.28,404.9 117.33,411.4 117.38,418.6 117.42,426.3 117.47,434.4 117.52,442.9 117.57,451.4 117.62,460.0 117.67,468.5 117.72,476.7 117.76,484.5 117.81,491.8 117.86,498.5 117.91,504.5 117.96,509.7 118.01,514.0 118.06,517.3 118.10,519.6 118.15,521.0 118.20,521.2 118.25,520.5 118.30,518.6 118.35,515.8 118.40,512.0 118.44,507.3 118.49,501.7 118.54,495.4 118.59,488.4 118.64,480.8 118.69,472.8 118.74,464.4 118.78,455.9 118.83,447.3 118.88,438.7 118.93,430.4 118.98,422.5 119.03,415.0 119.08,408.1 119.12,402.0 119.17,396.7 119.22,392.3 119.27,388.9 119.32,386.6 119.37,385.4 119.42,385.3 119.47,386.3 119.51,388.4 119.56,391.6 119.61,395.8 119.66,401.0 119.71,407.0 119.76,413.7 119.81,421.1 119.85,429.0 119.90,437.3 119.95,445.8 120.00,454.4 120.05,463.0 120.10,471.4 120.15,479.5 120.19,487.1 120.24,494.3 120.29,500.7 120.34,506.4 120.39,511.3 120.44,515.3 120.49,518.3 120.53,520.3 120.58,521.2 120.63,521.1 120.68,520.0 120.73,517.8 120.78,514.7 120.83,510.5 120.88,505.5 120.92,499.7 120.97,493.1 121.02,485.9 121.07,478.1 121.12,469.9 121.17,461.5 121.22,452.9 121.26,444.3 121.31,435.8 121.36,427.6 121.41,419.8 121.46,412.5 121.51,405.9 121.56,400.0 121.60,395.0 121.65,391.0 121.70,388.0 121.75,386.0 121.80,385.2 121.85,385.5 121.90,386.9 121.94,389.4 121.99,393.0 122.04,397.5 122.09,403.0 122.14,409.2 122.19,416.2 122.24,423.8 122.28,431.8 122.33,440.2 122.38,448.8 122.43,457.4 122.48,465.9 122.53,474.2 122.58,482.2 122.62,489.7 122.67,496.6 122.72,502.8 122.77,508.2 122.82,512.8 122.87,516.4 122.92,519.1 122.97,520.7 123.01,521.3 123.06,520.9 123.11,519.4 123.16,516.8 123.21,513.3 123.26,508.9 123.31,503.6 123.35,497.5 123.40,490.6 123.45,483.2 123.50,475.3 123.55,467.1 123.60,458.6 123.65,449.9 123.69,441.4 123.74,433.0 123.79,424.9 123.84,417.2 123.89,410.2 123.94,403.8 123.99,398.2 124.03,393.5 124.08,389.8 124.13,387.2 124.18,385.6 124.23,385.2 124.28,385.9 124.33,387.6 124.38,390.5 124.42,394.4 124.47,399.3 124.52,405.0 124.57,411.6 124.62,418.8 124.67,426.5 124.72,434.7 124.76,443.1 124.81,451.7 124.86,460.3 124.91,468.8 124.96,477.0 125.01,484.8 125.06,492.1 125.10,498.8 125.15,504.7 125.20,509.9 125.25,514.1 125.30,517.5 125.35,519.8 125.40,521.0 125.44,521.3 125.49,520.5 125.54,518.6 125.59,515.7 125.64,511.9 125.69,507.2 125.74,501.6 125.78,495.2 125.83,488.2 125.88,480.6 125.93,472.5 125.98,464.1 126.03,455.6 126.08,447.0 126.12,438.4 126.17,430.1 126.22,422.2 126.27,414.7 126.32,407.9 126.37,401.8 126.42,396.5 126.47,392.1 126.51,388.8 126.56,386.5 126.61,385.3 126.66,385.3 126.71,386.3 126.76,388.5 126.81,391.8 126.85,396.0 126.90,401.2 126.95,407.2 127.00,414.0 127.05,421.4 127.10,429.3 127.15,437.6 127.19,446.1 127.24,454.7 127.29,463.3 127.34,471.7 127.39,479.7 127.44,487.4 127.49,494.5 127.53,500.9 127.58,506.6 127.63,511.5 127.68,515.4 127.73,518.4 127.78,520.3 127.83,521.2 127.88,521.1 127.92,519.9 127.97,517.7 128.02,514.5 128.07,510.4 128.12,505.3 128.17,499.4 128.22,492.8 128.26,485.6 128.31,477.8 128.36,469.7 128.41,461.2 128.46,452.6 128.51,444.0 128.56,435.6 128.60,427.3 128.65,419.6 128.70,412.3 128.75,405.7 128.80,399.9 128.85,394.9 128.90,390.9 128.94,387.9 128.99,386.0 129.04,385.2 129.09,385.5 129.14,387.0 129.19,389.5 129.24,393.1 129.28,397.7 129.33,403.2 129.38,409.5 129.43,416.5 129.48,424.1 129.53,432.1 129.58,440.5 129.62,449.1 129.67,457.7 129.72,466.2 129.77,474.5 129.82,482.4 129.87,489.9 129.92,496.8 129.97,503.0 130.01,508.4 130.06,512.9 130.11,516.5 130.16,519.2 130.21,520.8 130.26,521.3 130.31,520.8 130.35,519.3 130.40,516.7 130.45,513.2 130.50,508.7 130.55,503.4 130.60,497.2 130.65,490.4 130.69,483.0 130.74,475.1 130.79,466.8 130.84,458.3 130.89,449.6 130.94,441.1 130.99,432.7 131.03,424.6 131.08,417.0 131.13,409.9 131.18,403.6 131.23,398.0 131.28,393.4 131.33,389.7 131.38,387.1 131.42,385.6 131.47,385.2 131.52,385.9 131.57,387.7 131.62,390.6 131.67,394.6 131.72,399.5 131.76,405.3 131.81,411.8 131.86,419.0 131.91,426.8 131.96,435.0 132.01,443.4 132.06,452.0 132.10,460.6 132.15,469.1 132.20,477.3 132.25,485.1 132.30,492.4 132.35,499.0 132.40,504.9 132.44,510.0 132.49,514.3 132.54,517.5 132.59,519.8 132.64,521.1 132.69,521.3 132.74,520.4 132.78,518.5 132.83,515.6 132.88,511.8 132.93,507.0 132.98,501.3 133.03,495.0 133.08,487.9 133.12,480.3 133.17,472.2 133.22,463.9 133.27,455.3 133.32,446.7 133.37,438.2 133.42,429.9 133.47,421.9 133.51,414.5 133.56,407.7 133.61,401.6 133.66,396.3 133.71,392.0 133.76,388.7 133.81,386.5 133.85,385.3 133.90,385.3 133.95,386.4 134.00,388.6 134.05,391.9 134.10,396.2 134.15,401.4 134.19,407.4 134.24,414.2 134.29,421.7 134.34,429.6 134.39,437.9 134.44,446.4 134.49,455.0 134.53,463.6 134.58,471.9 134.63,480.0 134.68,487.6 134.73,494.7 134.78,501.1 134.83,506.8 134.88,511.6 134.92,515.5 134.97,518.4 135.02,520.4 135.07,521.3 135.12,521.1 135.17,519.9 135.22,517.6 135.26,514.4 135.31,510.2 135.36,505.1 135.41,499.2 135.46,492.6 135.51,485.3 135.56,477.6 135.60,469.4 135.65,460.9 135.70,452.3 135.75,443.7 135.80,435.3 135.85,427.1 135.90,419.3 135.94,412.1 135.99,405.5 136.04,399.7 136.09,394.7 136.14,390.8 136.19,387.8 136.24,385.9 136.28,385.2 136.33,385.6 136.38,387.0 136.43,389.6 136.48,393.2 136.53,397.9 136.58,403.4 136.62,409.7 136.67,416.7 136.72,424.3 136.77,432.4 136.82,440.8 136.87,449.4 136.92,458.0 136.97,466.5 137.01,474.8 137.06,482.7 137.11,490.2 137.16,497.0 137.21,503.2 137.26,508.6 137.31,513.1 137.35,516.6 137.40,519.2 137.45,520.8 137.50,521.3 137.55,520.8 137.60,519.2 137.65,516.6 137.69,513.1 137.74,508.6 137.79,503.2 137.84,497.0 137.89,490.2 137.94,482.7 137.99,474.8 138.03,466.5 138.08,458.0 138.13,449.4 138.18,440.8 138.23,432.4 138.28,424.3 138.33,416.7 138.38,409.7 138.42,403.4 138.47,397.9 138.52,393.2 138.57,389.6 138.62,387.0 138.67,385.6 138.72,385.2 138.76,385.9 138.81,387.8 138.86,390.8 138.91,394.7 138.96,399.7 139.01,405.5 139.06,412.1 139.10,419.3 139.15,427.1 139.20,435.3 139.25,443.7 139.30,452.3 139.35,460.9 139.40,469.4 139.44,477.6 139.49,485.3 139.54,492.6 139.59,499.2 139.64,505.1 139.69,510.2 139.74,514.4 139.78,517.6 139.83,519.9 139.88,521.1 139.93,521.3 139.98,520.4 140.03,518.4 140.08,515.5 140.12,511.6 140.17,506.8 140.22,501.1 140.27,494.7 140.32,487.6 140.37,480.0 140.42,471.9 140.47,463.6 140.51,455.0 140.56,446.4 140.61,437.9 140.66,429.6 140.71,421.7 140.76,414.2 140.81,407.4 140.85,401.4 140.90,396.2 140.95,391.9 141.00,388.6 141.05,386.4 141.10,385.3 141.15,385.3 141.19,386.5 141.24,388.7 141.29,392.0 141.34,396.3 141.39,401.6 141.44,407.7 141.49,414.5 141.53,421.9 141.58,429.9 141.63,438.2 141.68,446.7 141.73,455.3 141.78,463.9 141.83,472.2 141.88,480.3 141.92,487.9 141.97,495.0 142.02,501.3 142.07,507.0 142.12,511.8 142.17,515.6 142.22,518.5 142.26,520.4 142.31,521.3 142.36,521.1 142.41,519.8 142.46,517.5 142.51,514.3 142.56,510.0 142.60,504.9 142.65,499.0 142.70,492.4 142.75,485.1 142.80,477.3 142.85,469.1 142.90,460.6 142.94,452.0 142.99,443.4 143.04,435.0 143.09,426.8 143.14,419.0 143.19,411.8 143.24,405.3 143.28,399.5 143.33,394.6 143.38,390.6 143.43,387.7 143.48,385.9 143.53,385.2 143.58,385.6 143.62,387.1 143.67,389.7 143.72,393.4 143.77,398.0 143.82,403.6 143.87,409.9 143.92,417.0 143.97,424.6 144.01,432.7 144.06,441.1 144.11,449.6 144.16,458.3 144.21,466.8 144.26,475.1 144.31,483.0 144.35,490.4 144.40,497.2 144.45,503.4 144.50,508.7 144.55,513.2 144.60,516.7 144.65,519.3 144.69,520.8 144.74,521.3 144.79,520.8 144.84,519.2 144.89,516.5 144.94,512.9 144.99,508.4 145.03,503.0 145.08,496.8 145.13,489.9 145.18,482.4 145.23,474.5 145.28,466.2 145.33,457.7 145.38,449.1 145.42,440.5 145.47,432.1 145.52,424.1 145.57,416.5 145.62,409.5 145.67,403.2 145.72,397.7 145.76,393.1 145.81,389.5 145.86,387.0 145.91,385.5 145.96,385.2 146.01,386.0 146.06,387.9 146.10,390.9 146.15,394.9 146.20,399.9 146.25,405.7 146.30,412.3 146.35,419.6 146.40,427.3 146.44,435.6 146.49,444.0 146.54,452.6 146.59,461.2 146.64,469.7 146.69,477.8 146.74,485.6 146.78,492.8 146.83,499.4 146.88,505.3 146.93,510.4 146.98,514.5 147.03,517.7 147.08,519.9 147.12,521.1 147.17,521.2 147.22,520.3 147.27,518.4 147.32,515.4 147.37,511.5 147.42,506.6 147.47,500.9 147.51,494.5 147.56,487.4 147.61,479.7 147.66,471.7 147.71,463.3 147.76,454.7 147.81,446.1 147.85,437.6 147.90,429.3 147.95,421.4 148.00,414.0 148.05,407.2 148.10,401.2 148.15,396.0 148.19,391.8 148.24,388.5 148.29,386.3 148.34,385.3 148.39,385.3 148.44,386.5 148.49,388.8 148.53,392.1 148.58,396.5 148.63,401.8 148.68,407.9 148.73,414.7 148.78,422.2 148.83,430.1 148.88,438.4 148.92,447.0 148.97,455.6 149.02,464.1 149.07,472.5 149.12,480.6 149.17,488.2 149.22,495.2 149.26,501.6 149.31,507.2 149.36,511.9 149.41,515.7 149.46,518.6 149.51,520.5 149.56,521.3 149.60,521.0 149.65,519.8 149.70,517.5 149.75,514.1 149.80,509.9 149.85,504.7 149.90,498.8 149.94,492.1 149.99,484.8 150.04,477.0 150.09,468.8 150.14,460.3 150.19,451.7 150.24,443.1 150.28,434.7 150.33,426.5 150.38,418.8 150.43,411.6 150.48,405.0 150.53,399.3 150.58,394.4 150.62,390.5 150.67,387.6 150.72,385.9 150.77,385.2 150.82,385.6 150.87,387.2 150.92,389.8 150.97,393.5 151.01,398.2 151.06,403.8 151.11,410.2 151.16,417.2 151.21,424.9 151.26,433.0 151.31,441.4 151.35,449.9 151.40,458.6 151.45,467.1 151.50,475.3 151.55,483.2 151.60,490.6 151.65,497.5 151.69,503.6 151.74,508.9 151.79,513.3 151.84,516.8 151.89,519.4 151.94,520.9 151.99,521.3 152.03,520.7 152.08,519.1 152.13,516.4 152.18,512.8 152.23,508.2 152.28,502.8 152.33,496.6 152.38,489.7 152.42,482.2 152.47,474.2 152.52,465.9 152.57,457.4 152.62,448.8 152.67,440.2 152.72,431.8 152.76,423.8 152.81,416.2 152.86,409.2 152.91,403.0 152.96,397.5 153.01,393.0 153.06,389.4 153.10,386.9 153.15,385.5 153.20,385.2 153.25,386.0 153.30,388.0 153.35,391.0 153.40,395.0 153.44,400.0 153.49,405.9 153.54,412.5 153.59,419.8 153.64,427.6 153.69,435.8 153.74,444.3 153.78,452.9 153.83,461.5 153.88,469.9 153.93,478.1 153.98,485.9 154.03,493.1 154.08,499.7 154.12,505.5 154.17,510.5 154.22,514.7 154.27,517.8 154.32,520.0 154.37,521.1 154.42,521.2 154.47,520.3 154.51,518.3 154.56,515.3 154.61,511.3 154.66,506.4 154.71,500.7 154.76,494.3 154.81,487.1 154.85,479.5 154.90,471.4 154.95,463.0 155.00,454.4 155.05,445.8 155.10,437.3 155.15,429.0 155.19,421.1 155.24,413.7 155.29,407.0 155.34,401.0 155.39,395.8 155.44,391.6 155.49,388.4 155.53,386.3 155.58,385.3 155.63,385.4 155.68,386.6 155.73,388.9 155.78,392.3 155.83,396.7 155.88,402.0 155.92,408.1 155.97,415.0 156.02,422.5 156.07,430.4 156.12,438.7 156.17,447.3 156.22,455.9 156.26,464.4 156.31,472.8 156.36,480.8 156.41,488.4 156.46,495.4 156.51,501.8 156.56,507.3 156.60,512.1 156.65,515.9 156.70,518.7 156.75,520.5 156.80,521.3 156.85,521.0 156.90,519.7 156.94,517.4 156.99,514.0 157.04,509.7 157.09,504.6 157.14,498.6 157.19,491.9 157.24,484.6 157.28,476.7 157.33,468.5 157.38,460.0 157.43,451.4 157.48,442.8 157.53,434.4 157.58,426.2 157.62,418.5 157.67,411.3 157.72,404.8 157.77,399.1 157.82,394.3 157.87,390.4 157.92,387.6 157.97,385.8 158.01,385.2 158.06,385.7 158.11,387.3 158.16,389.9 158.21,393.7 158.26,398.4 158.31,404.0 158.35,410.4 158.40,417.5 158.45,425.2 158.50,433.3 158.55,441.7 158.60,450.2 158.65,458.9 158.69,467.4 158.74,475.6 158.79,483.5 158.84,490.9 158.89,497.7 158.94,503.8 158.99,509.1 159.03,513.5 159.08,517.0 159.13,519.4 159.18,520.9 159.23,521.3 159.28,520.7 159.33,519.0 159.38,516.3 159.42,512.6 159.47,508.0 159.52,502.6 159.57,496.3 159.62,489.4 159.67,481.9 159.72,473.9 159.76,465.6 159.81,457.1 159.86,448.5 159.91,439.9 159.96,431.5 160.01,423.5 160.06,416.0 160.10,409.0 160.15,402.8 160.20,397.3 160.25,392.8 160.30,389.3 160.35,386.8 160.40,385.5 160.44,385.2 160.49,386.1 160.54,388.1 160.59,391.1 160.64,395.2 160.69,400.2 160.74,406.1 160.78,412.8 160.83,420.1 160.88,427.9 160.93,436.1 160.98,444.6 161.03,453.2 161.08,461.8 161.12,470.2 161.17,478.4 161.22,486.1 161.27,493.3 161.32,499.9 161.37,505.7 161.42,510.7 161.47,514.8 161.51,517.9 161.56,520.1 161.61,521.2 161.66,521.2 161.71,520.2 161.76,518.2 161.81,515.2 161.85,511.2 161.90,506.2 161.95,500.5 162.00,494.0 162.05,486.9 162.10,479.2 162.15,471.1 162.19,462.7 162.24,454.1 162.29,445.5 162.34,437.0 162.39,428.7 162.44,420.9 162.49,413.5 162.53,406.8 162.58,400.8 162.63,395.7 162.68,391.5 162.73,388.3 162.78,386.2 162.83,385.2 162.88,385.4 162.92,386.6 162.97,389.0 163.02,392.4 163.07,396.8 163.12,402.2 163.17,408.3 163.22,415.2 163.26,422.7 163.31,430.7 163.36,439.0 163.41,447.6 163.46,456.2 163.51,464.7 163.56,473.1 163.60,481.1 163.65,488.7 163.70,495.6 163.75,502.0 163.80,507.5 163.85,512.2 163.90,516.0 163.94,518.8 163.99,520.6 164.04,521.3 164.09,521.0 164.14,519.6 164.19,517.3 164.24,513.9 164.28,509.6 164.33,504.4 164.38,498.4 164.43,491.6 164.48,484.3 164.53,476.4 164.58,468.2 164.62,459.7 164.67,451.1 164.72,442.5 164.77,434.1 164.82,426.0 164.87,418.3 164.92,411.1 164.97,404.6 165.01,398.9 165.06,394.1 165.11,390.3 165.16,387.5 165.21,385.8 165.26,385.2 165.31,385.7 165.35,387.3 165.40,390.1 165.45,393.8 165.50,398.6 165.55,404.2 165.60,410.6 165.65,417.7 165.69,425.4 165.74,433.5 165.79,442.0 165.84,450.5 165.89,459.1 165.94,467.6 165.99,475.9 166.03,483.8 166.08,491.1 166.13,497.9 166.18,504.0 166.23,509.2 166.28,513.6 166.33,517.1 166.38,519.5 166.42,520.9 166.47,521.3 166.52,520.6 166.57,518.9 166.62,516.2 166.67,512.5 166.72,507.9 166.76,502.4 166.81,496.1 166.86,489.2 166.91,481.6 166.96,473.6 167.01,465.3 167.06,456.8 167.10,448.2 167.15,439.6 167.20,431.3 167.25,423.3 167.30,415.7 167.35,408.8 167.40,402.6 167.44,397.2 167.49,392.7 167.54,389.2 167.59,386.8 167.64,385.4 167.69,385.2 167.74,386.1 167.78,388.2 167.83,391.2 167.88,395.4 167.93,400.4 167.98,406.3 168.03,413.0 168.08,420.3 168.12,428.2 168.17,436.4 168.22,444.9 168.27,453.5 168.32,462.1 168.37,470.5 168.42,478.7 168.47,486.4 168.51,493.5 168.56,500.1 168.61,505.9 168.66,510.8 168.71,514.9 168.76,518.0 168.81,520.1 168.85,521.2 168.90,521.2 168.95,520.2 169.00,518.1 169.05,515.0 169.10,511.0 169.15,506.1 169.19,500.3 169.24,493.8 169.29,486.6 169.34,478.9 169.39,470.8 169.44,462.4 169.49,453.8 169.53,445.2 169.58,436.7 169.63,428.5 169.68,420.6 169.73,413.3 169.78,406.6 169.83,400.6 169.88,395.5 169.92,391.4 169.97,388.2 170.02,386.2 170.07,385.2 170.12,385.4 170.17,386.7 170.22,389.1 170.26,392.5 170.31,397.0 170.36,402.4 170.41,408.6 170.46,415.5 170.51,423.0 170.56,431.0 170.60,439.3 170.65,447.9 170.70,456.5 170.75,465.0 170.80,473.4 170.85,481.4 170.90,488.9 170.94,495.9 170.99,502.2 171.04,507.7 171.09,512.3 171.14,516.1 171.19,518.9 171.24,520.6 171.28,521.3 171.33,521.0 171.38,519.6 171.43,517.2 171.48,513.7 171.53,509.4 171.58,504.2 171.62,498.1 171.67,491.4 171.72,484.0 171.77,476.2 171.82,467.9 171.87,459.4 171.92,450.8 171.97,442.3 172.01,433.8 172.06,425.7 172.11,418.0 172.16,410.9 172.21,404.4 172.26,398.7 172.31,394.0 172.35,390.2 172.40,387.4 172.45,385.7 172.50,385.2 172.55,385.7 172.60,387.4 172.65,390.2 172.69,394.0 172.74,398.7 172.79,404.4 172.84,410.9 172.89,418.0 172.94,425.7 172.99,433.8 173.03,442.3 173.08,450.8 173.13,459.4 173.18,467.9 173.23,476.2 173.28,484.0 173.33,491.4 173.38,498.1 173.42,504.2 173.47,509.4 173.52,513.7 173.57,517.2 173.62,519.6 173.67,521.0 173.72,521.3 173.76,520.6 173.81,518.9 173.86,516.1 173.91,512.3 173.96,507.7 174.01,502.2 174.06,495.9 174.10,488.9 174.15,481.4 174.20,473.4 174.25,465.0 174.30,456.5 174.35,447.9 174.40,439.3 174.44,431.0 174.49,423.0 174.54,415.5 174.59,408.6 174.64,402.4 174.69,397.0 174.74,392.5 174.78,389.1 174.83,386.7 174.88,385.4 174.93,385.2 174.98,386.2 175.03,388.2 175.08,391.4 175.12,395.5 175.17,400.6 175.22,406.6 175.27,413.3 175.32,420.6 175.37,428.5 175.42,436.7 175.47,445.2 175.51,453.8 175.56,462.4 175.61,470.8 175.66,478.9 175.71,486.6 175.76,493.8 175.81,500.3 175.85,506.1 175.90,511.0 175.95,515.0 176.00,518.1 176.05,520.2 176.10,521.2 176.15,521.2 176.19,520.1 176.24,518.0 176.29,514.9 176.34,510.8 176.39,505.9 176.44,500.1 176.49,493.5 176.53,486.4 176.58,478.7 176.63,470.5 176.68,462.1 176.73,453.5 176.78,444.9 176.83,436.4 176.88,428.2 176.92,420.3 176.97,413.0 177.02,406.3 177.07,400.4 177.12,395.4 177.17,391.2 177.22,388.2 177.26,386.1 177.31,385.2 177.36,385.4 177.41,386.8 177.46,389.2 177.51,392.7 177.56,397.2 177.60,402.6 177.65,408.8 177.70,415.7 177.75,423.3 177.80,431.3 177.85,439.6 177.90,448.2 177.94,456.8 177.99,465.3 178.04,473.6 178.09,481.6 178.14,489.2 178.19,496.1 178.24,502.4 178.28,507.9 178.33,512.5 178.38,516.2 178.43,518.9 178.48,520.6 178.53,521.3 178.58,520.9 178.62,519.5 178.67,517.1 178.72,513.6 178.77,509.2 178.82,504.0 178.87,497.9 178.92,491.1 178.97,483.8 179.01,475.9 179.06,467.6 179.11,459.1 179.16,450.5 179.21,442.0 179.26,433.5 179.31,425.4 179.35,417.7 179.40,410.6 179.45,404.2 179.50,398.6 179.55,393.8 179.60,390.1 179.65,387.3 179.69,385.7 179.74,385.2 179.79,385.8 179.84,387.5 179.89,390.3 179.94,394.1 179.99,398.9 180.03,404.6 180.08,411.1 180.13,418.3 180.18,426.0 180.23,434.1 180.28,442.5 180.33,451.1 180.38,459.7 180.42,468.2 180.47,476.4 180.52,484.3 180.57,491.6 180.62,498.4 180.67,504.4 180.72,509.6 180.76,513.9 180.81,517.3 180.86,519.6 180.91,521.0 180.96,521.3 181.01,520.6 181.06,518.8 181.10,516.0 181.15,512.2 181.20,507.5 181.25,502.0 181.30,495.6 181.35,488.7 181.40,481.1 181.44,473.1 181.49,464.7 181.54,456.2 181.59,447.6 181.64,439.0 181.69,430.7 181.74,422.7 181.78,415.2 181.83,408.3 181.88,402.2 181.93,396.8 181.98,392.4 182.03,389.0 182.08,386.6 182.12,385.4 182.17,385.2 182.22,386.2 182.27,388.3 182.32,391.5 182.37,395.7 182.42,400.8 182.47,406.8 182.51,413.5 182.56,420.9 182.61,428.7 182.66,437.0 182.71,445.5 182.76,454.1 182.81,462.7 182.85,471.1 182.90,479.2 182.95,486.9 183.00,494.0 183.05,500.5 183.10,506.2 183.15,511.2 183.19,515.2 183.24,518.2 183.29,520.2 183.34,521.2 183.39,521.2 183.44,520.1 183.49,517.9 183.53,514.8 183.58,510.7 183.63,505.7 183.68,499.9 183.73,493.3 183.78,486.1 183.83,478.4 183.88,470.2 183.92,461.8 183.97,453.2 184.02,444.6 184.07,436.1 184.12,427.9 184.17,420.1 184.22,412.8 184.26,406.1 184.31,400.2 184.36,395.2 184.41,391.1 184.46,388.1 184.51,386.1 184.56,385.2 184.60,385.5 184.65,386.8 184.70,389.3 184.75,392.8 184.80,397.3 184.85,402.8 184.90,409.0 184.94,416.0 184.99,423.5 185.04,431.5 185.09,439.9 185.14,448.5 185.19,457.1 185.24,465.6 185.28,473.9 185.33,481.9 185.38,489.4 185.43,496.3 185.48,502.6 185.53,508.0 185.58,512.6 185.62,516.3 185.67,519.0 185.72,520.7 185.77,521.3 185.82,520.9 185.87,519.4 185.92,517.0 185.97,513.5 186.01,509.1 186.06,503.8 186.11,497.7 186.16,490.9 186.21,483.5 186.26,475.6 186.31,467.4 186.35,458.9 186.40,450.2 186.45,441.7 186.50,433.3 186.55,425.2 186.60,417.5 186.65,410.4 186.69,404.0 186.74,398.4 186.79,393.7 186.84,389.9 186.89,387.3 186.94,385.7 186.99,385.2 187.03,385.8 187.08,387.6 187.13,390.4 187.18,394.3 187.23,399.1 187.28,404.8 187.33,411.3 187.38,418.5 187.42,426.2 187.47,434.4 187.52,442.8 187.57,451.4 187.62,460.0 187.67,468.5 187.72,476.7 187.76,484.6 187.81,491.9 187.86,498.6 187.91,504.6 187.96,509.7 188.01,514.0 188.06,517.4 188.10,519.7 188.15,521.0 188.20,521.3 188.25,520.5 188.30,518.7 188.35,515.9 188.40,512.1 188.44,507.3 188.49,501.8 188.54,495.4 188.59,488.4 188.64,480.8 188.69,472.8 188.74,464.4 188.78,455.9 188.83,447.3 188.88,438.7 188.93,430.4 188.98,422.5 189.03,415.0 189.08,408.1 189.12,402.0 189.17,396.7 189.22,392.3 189.27,388.9 189.32,386.6 189.37,385.4 189.42,385.3 189.47,386.3 189.51,388.4 189.56,391.6 189.61,395.8 189.66,401.0 189.71,407.0 189.76,413.7 189.81,421.1 189.85,429.0 189.90,437.3 189.95,445.8 190.00,454.4 190.05,463.0 190.10,471.4 190.15,479.5 190.19,487.1 190.24,494.3 190.29,500.7 190.34,506.4 190.39,511.3 190.44,515.3 190.49,518.3 190.53,520.3 190.58,521.2 190.63,521.1 190.68,520.0 190.73,517.8 190.78,514.7 190.83,510.5 190.88,505.5 190.92,499.7 190.97,493.1 191.02,485.9 191.07,478.1 191.12,469.9 191.17,461.5 191.22,452.9 191.26,444.3 191.31,435.8 191.36,427.6 191.41,419.8 191.46,412.5 191.51,405.9 191.56,400.0 191.60,395.0 191.65,391.0 191.70,388.0 191.75,386.0 191.80,385.2 191.85,385.5 191.90,386.9 191.94,389.4 191.99,393.0 192.04,397.5 192.09,403.0 192.14,409.2 192.19,416.2 192.24,423.8 192.28,431.8 192.33,440.2 192.38,448.8 192.43,457.4 192.48,465.9 192.53,474.2 192.58,482.2 192.62,489.7 192.67,496.6 192.72,502.8 192.77,508.2 192.82,512.8 192.87,516.4 192.92,519.1 192.97,520.7 193.01,521.3 193.06,520.9 193.11,519.4 193.16,516.8 193.21,513.3 193.26,508.9 193.31,503.6 193.35,497.5 193.40,490.6 193.45,483.2 193.50,475.3 193.55,467.1 193.60,458.6 193.65,449.9 193.69,441.4 193.74,433.0 193.79,424.9 193.84,417.2 193.89,410.2 193.94,403.8 193.99,398.2 194.03,393.5 194.08,389.8 194.13,387.2 194.18,385.6 194.23,385.2 194.28,385.9 194.33,387.6 194.38,390.5 194.42,394.4 194.47,399.3 194.52,405.0 194.57,411.6 194.62,418.8 194.67,426.5 194.72,434.7 194.76,443.1 194.81,451.7 194.86,460.3 194.91,468.8 194.96,477.0 195.01,484.8 195.06,492.1 195.10,498.8 195.15,504.7 195.20,509.9 195.25,514.1 195.30,517.5 195.35,519.8 195.40,521.0 195.44,521.3 195.49,520.5 195.54,518.6 195.59,515.7 195.64,511.9 195.69,507.2 195.74,501.6 195.78,495.2 195.83,488.2 195.88,480.6 195.93,472.5 195.98,464.1 196.03,455.6 196.08,447.0 196.12,438.4 196.17,430.1 196.22,422.2 196.27,414.7 196.32,407.9 196.37,401.8 196.42,396.5 196.47,392.1 196.51,388.8 196.56,386.5 196.61,385.3 196.66,385.3 196.71,386.3 196.76,388.5 196.81,391.8 196.85,396.0 196.90,401.2 196.95,407.2 197.00,414.0 197.05,421.4 197.10,429.3 197.15,437.6 197.19,446.1 197.24,454.7 197.29,463.3 197.34,471.7 197.39,479.7 197.44,487.4 197.49,494.5 197.53,500.9 197.58,506.6 197.63,511.5 197.68,515.4 197.73,518.4 197.78,520.3 197.83,521.2 197.88,521.1 197.92,519.9 197.97,517.7 198.02,514.5 198.07,510.4 198.12,505.3 198.17,499.4 198.22,492.8 198.26,485.6 198.31,477.8 198.36,469.7 198.41,461.2 198.46,452.6 198.51,444.0 198.56,435.6 198.60,427.3 198.65,419.6 198.70,412.3 198.75,405.7 198.80,399.9 198.85,394.9 198.90,390.9 198.94,387.9 198.99,386.0 199.04,385.2 199.09,385.5 199.14,387.0 199.19,389.5 199.24,393.1 199.28,397.7 199.33,403.2 199.38,409.5 199.43,416.5 199.48,424.1 199.53,432.1 199.58,440.5 199.62,449.1 199.67,457.7 199.72,466.2 199.77,474.5 199.82,482.4 199.87,489.9 199.92,496.8 199.97,503.0 200.01,508.4 200.06,512.9 200.11,516.5 200.16,519.2 200.21,520.8 200.26,521.3 200.31,520.8 200.35,519.3 200.40,516.7 200.45,513.2 200.50,508.7 200.55,503.4 200.60,497.2 200.65,490.4 200.69,483.0 200.74,475.1 200.79,466.8 200.84,458.3 200.89,449.6 200.94,441.1 200.99,432.7 201.03,424.6 201.08,417.0 201.13,409.9 201.18,403.6 201.23,398.0 201.28,393.4 201.33,389.7 201.38,387.1 201.42,385.6 201.47,385.2 201.52,385.9 201.57,387.7 201.62,390.6 201.67,394.6 201.72,399.5 201.76,405.3 201.81,411.8 201.86,419.0 201.91,426.8 201.96,435.0 202.01,443.4 202.06,452.0 202.10,460.6 202.15,469.1 202.20,477.3 202.25,485.1 202.30,492.4 202.35,499.0 202.40,504.9 202.44,510.0 202.49,514.3 202.54,517.5 202.59,519.8 202.64,521.1 202.69,521.3 202.74,520.4 202.78,518.5 202.83,515.6 202.88,511.8 202.93,507.0 202.98,501.3 203.03,495.0 203.08,487.9 203.12,480.3 203.17,472.2 203.22,463.9 203.27,455.3 203.32,446.7 203.37,438.2 203.42,429.9 203.47,421.9 203.51,414.5 203.56,407.7 203.61,401.6 203.66,396.3 203.71,392.0 203.76,388.7 203.81,386.5 203.85,385.3 203.90,385.3 203.95,386.4 204.00,388.6 204.05,391.9 204.10,396.2 204.15,401.4 204.19,407.4 204.24,414.2 204.29,421.7 204.34,429.6 204.39,437.9 204.44,446.4 204.49,455.0 204.53,463.6 204.58,471.9 204.63,480.0 204.68,487.6 204.73,494.7 204.78,501.1 204.83,506.8 204.88,511.6 204.92,515.5 204.97,518.4 205.02,520.4 205.07,521.3 205.12,521.1 205.17,519.9 205.22,517.6 205.26,514.4 205.31,510.2 205.36,505.1 205.41,499.2 205.46,492.6 205.51,485.3 205.56,477.6 205.60,469.4 205.65,460.9 205.70,452.3 205.75,443.7 205.80,435.3 205.85,427.1 205.90,419.3 205.94,412.1 205.99,405.5 206.04,399.7 206.09,394.7 206.14,390.8 206.19,387.8 206.24,385.9 206.28,385.2 206.33,385.6 206.38,387.0 206.43,389.6 206.48,393.2 206.53,397.9 206.58,403.4 206.62,409.7 206.67,416.7 206.72,424.3 206.77,432.4 206.82,440.8 206.87,449.4 206.92,458.0 206.97,466.5 207.01,474.8 207.06,482.7 207.11,490.2 207.16,497.0 207.21,503.2 207.26,508.6 207.31,513.1 207.35,516.6 207.40,519.2 207.45,520.8 207.50,521.3" class="sig" style="stroke-width:0.46" filter="url(#sh)"/>
<line x1="32.50" y1="526.25" x2="32.50" y2="524.45" class="tk"/>
<line x1="32.50" y1="381.4" x2="32.50" y2="383.2" class="tk"/>
<line x1="50.00" y1="526.25" x2="50.00" y2="524.45" class="tk"/>
<line x1="50.00" y1="381.4" x2="50.00" y2="383.2" class="tk"/>
<line x1="67.50" y1="526.25" x2="67.50" y2="524.45" class="tk"/>
<line x1="67.50" y1="381.4" x2="67.50" y2="383.2" class="tk"/>
<line x1="85.00" y1="526.25" x2="85.00" y2="524.45" class="tk"/>
<line x1="85.00" y1="381.4" x2="85.00" y2="383.2" class="tk"/>
<line x1="102.50" y1="526.25" x2="102.50" y2="524.45" class="tk"/>
<line x1="102.50" y1="381.4" x2="102.50" y2="383.2" class="tk"/>
<line x1="120.00" y1="526.25" x2="120.00" y2="524.45" class="tk"/>
<line x1="120.00" y1="381.4" x2="120.00" y2="383.2" class="tk"/>
<line x1="137.50" y1="526.25" x2="137.50" y2="524.45" class="tk"/>
<line x1="137.50" y1="381.4" x2="137.50" y2="383.2" class="tk"/>
<line x1="155.00" y1="526.25" x2="155.00" y2="524.45" class="tk"/>
<line x1="155.00" y1="381.4" x2="155.00" y2="383.2" class="tk"/>
<line x1="172.50" y1="526.25" x2="172.50" y2="524.45" class="tk"/>
<line x1="172.50" y1="381.4" x2="172.50" y2="383.2" class="tk"/>
<line x1="190.00" y1="526.25" x2="190.00" y2="524.45" class="tk"/>
<line x1="190.00" y1="381.4" x2="190.00" y2="383.2" class="tk"/>
<line x1="207.50" y1="526.25" x2="207.50" y2="524.45" class="tk"/>
<line x1="207.50" y1="381.4" x2="207.50" y2="383.2" class="tk"/>
<line x1="32.5" y1="526.25" x2="34.3" y2="526.25" class="tk"/>
<line x1="207.5" y1="526.25" x2="205.7" y2="526.25" class="tk"/>
<line x1="32.5" y1="490.04" x2="34.3" y2="490.04" class="tk"/>
<line x1="207.5" y1="490.04" x2="205.7" y2="490.04" class="tk"/>
<line x1="32.5" y1="453.82" x2="34.3" y2="453.82" class="tk"/>
<line x1="207.5" y1="453.82" x2="205.7" y2="453.82" class="tk"/>
<line x1="32.5" y1="417.61" x2="34.3" y2="417.61" class="tk"/>
<line x1="207.5" y1="417.61" x2="205.7" y2="417.61" class="tk"/>
<line x1="32.5" y1="381.40" x2="34.3" y2="381.40" class="tk"/>
<line x1="207.5" y1="381.40" x2="205.7" y2="381.40" class="tk"/>
<rect x="32.5" y="381.4" width="175.00" height="144.85" class="box"/>
<text x="32.50" y="536.85" class="t" text-anchor="middle">0</text>
<text x="50.00" y="536.85" class="t" text-anchor="middle">10</text>
<text x="67.50" y="536.85" class="t" text-anchor="middle">20</text>
<text x="85.00" y="536.85" class="t" text-anchor="middle">30</text>
<text x="102.50" y="536.85" class="t" text-anchor="middle">40</text>
<text x="120.00" y="536.85" class="t" text-anchor="middle">50</text>
<text x="137.50" y="536.85" class="t" text-anchor="middle">60</text>
<text x="155.00" y="536.85" class="t" text-anchor="middle">70</text>
<text x="172.50" y="536.85" class="t" text-anchor="middle">80</text>
<text x="190.00" y="536.85" class="t" text-anchor="middle">90</text>
<text x="207.50" y="536.85" class="t" text-anchor="middle">100</text>
<text x="29.10" y="528.95" class="t" text-anchor="end">−0.5</text>
<text x="29.10" y="492.74" class="t" text-anchor="end">0</text>
<text x="29.10" y="456.52" class="t" text-anchor="end">0.5</text>
<text x="29.10" y="420.31" class="t" text-anchor="end">1</text>
<text x="29.10" y="384.10" class="t" text-anchor="end">1.5</text>
<text x="120.00" y="547.50" class="l" text-anchor="middle" xml:space="preserve" textLength="87.5">number of rotations N</text>
<text transform="translate(7.90,454.72) rotate(-90)" class="l" text-anchor="middle" textLength="124.5">dimensionless z-displacement <tspan font-style="italic">ε</tspan><tspan font-size="7" dy="1.5">z</tspan></text>
<text x="6.3" y="378" class="l">(e)</text>
<line x1="289.13" y1="381.4" x2="289.13" y2="523.0" class="gr"/>
<line x1="318.77" y1="381.4" x2="318.77" y2="523.0" class="gr"/>
<line x1="348.40" y1="381.4" x2="348.40" y2="523.0" class="gr"/>
<line x1="378.03" y1="381.4" x2="378.03" y2="523.0" class="gr"/>
<line x1="407.67" y1="381.4" x2="407.67" y2="523.0" class="gr"/>
<line x1="259.5" y1="494.68" x2="437.3" y2="494.68" class="gr"/>
<line x1="259.5" y1="466.36" x2="437.3" y2="466.36" class="gr"/>
<line x1="259.5" y1="438.04" x2="437.3" y2="438.04" class="gr"/>
<line x1="259.5" y1="409.72" x2="437.3" y2="409.72" class="gr"/>
<polyline points="259.50,522.8 259.62,522.8 259.74,522.8 259.86,522.8 259.97,522.8 260.09,522.8 260.21,522.8 260.33,522.8 260.45,522.8 260.57,522.8 260.69,522.8 260.80,522.8 260.92,522.8 261.04,522.8 261.16,522.8 261.28,522.8 261.40,522.8 261.52,522.8 261.63,522.8 261.75,522.8 261.87,522.8 261.99,522.8 262.11,522.8 262.23,522.8 262.34,522.8 262.46,522.8 262.58,522.8 262.70,522.8 262.82,522.8 262.94,522.8 263.06,522.8 263.17,522.8 263.29,522.8 263.41,522.8 263.53,522.8 263.65,522.8 263.77,522.8 263.89,522.8 264.00,522.8 264.12,522.8 264.24,522.8 264.36,522.8 264.48,522.8 264.60,522.8 264.72,522.8 264.83,522.8 264.95,522.8 265.07,522.8 265.19,522.8 265.31,522.8 265.43,522.8 265.55,522.8 265.66,522.8 265.78,522.8 265.90,522.8 266.02,522.8 266.14,522.8 266.26,522.8 266.37,522.8 266.49,522.8 266.61,522.8 266.73,522.8 266.85,522.8 266.97,522.8 267.09,522.8 267.20,522.8 267.32,522.8 267.44,522.8 267.56,522.8 267.68,522.8 267.80,522.8 267.92,522.8 268.03,522.8 268.15,522.8 268.27,522.8 268.39,522.8 268.51,522.8 268.63,522.8 268.75,522.8 268.86,522.8 268.98,522.8 269.10,522.8 269.22,522.8 269.34,522.8 269.46,522.8 269.58,522.8 269.69,522.8 269.81,522.8 269.93,522.8 270.05,522.8 270.17,522.8 270.29,522.8 270.41,522.8 270.52,522.8 270.64,522.8 270.76,522.8 270.88,522.8 271.00,522.7 271.12,522.7 271.23,522.7 271.35,522.7 271.47,522.7 271.59,522.7 271.71,522.7 271.83,522.7 271.95,522.7 272.06,522.7 272.18,522.7 272.30,522.7 272.42,522.7 272.54,522.7 272.66,522.7 272.78,522.7 272.89,522.7 273.01,522.7 273.13,522.7 273.25,522.7 273.37,522.7 273.49,522.7 273.61,522.7 273.72,522.7 273.84,522.7 273.96,522.7 274.08,522.7 274.20,522.7 274.32,522.7 274.44,522.7 274.55,522.7 274.67,522.7 274.79,522.7 274.91,522.7 275.03,522.7 275.15,522.7 275.26,522.7 275.38,522.7 275.50,522.7 275.62,522.7 275.74,522.7 275.86,522.7 275.98,522.7 276.09,522.7 276.21,522.7 276.33,522.7 276.45,522.7 276.57,522.7 276.69,522.7 276.81,522.7 276.92,522.7 277.04,522.7 277.16,522.7 277.28,522.7 277.40,522.7 277.52,522.7 277.64,522.7 277.75,522.7 277.87,522.7 277.99,522.7 278.11,522.7 278.23,522.7 278.35,522.7 278.47,522.7 278.58,522.7 278.70,522.7 278.82,522.7 278.94,522.7 279.06,522.7 279.18,522.7 279.30,522.7 279.41,522.7 279.53,522.7 279.65,522.7 279.77,522.7 279.89,522.7 280.01,522.6 280.12,522.6 280.24,522.6 280.36,522.6 280.48,522.6 280.60,522.6 280.72,522.6 280.84,522.6 280.95,522.6 281.07,522.6 281.19,522.6 281.31,522.6 281.43,522.6 281.55,522.6 281.67,522.6 281.78,522.6 281.90,522.6 282.02,522.6 282.14,522.6 282.26,522.6 282.38,522.6 282.50,522.6 282.61,522.6 282.73,522.6 282.85,522.6 282.97,522.6 283.09,522.6 283.21,522.6 283.33,522.6 283.44,522.6 283.56,522.6 283.68,522.6 283.80,522.6 283.92,522.6 284.04,522.6 284.15,522.6 284.27,522.6 284.39,522.6 284.51,522.6 284.63,522.6 284.75,522.6 284.87,522.6 284.98,522.5 285.10,522.5 285.22,522.5 285.34,522.5 285.46,522.5 285.58,522.5 285.70,522.5 285.81,522.5 285.93,522.5 286.05,522.5 286.17,522.5 286.29,522.5 286.41,522.5 286.53,522.5 286.64,522.5 286.76,522.5 286.88,522.5 287.00,522.5 287.12,522.5 287.24,522.5 287.36,522.5 287.47,522.5 287.59,522.5 287.71,522.5 287.83,522.5 287.95,522.5 288.07,522.5 288.19,522.4 288.30,522.4 288.42,522.4 288.54,522.4 288.66,522.4 288.78,522.4 288.90,522.4 289.01,522.4 289.13,522.4 289.25,522.4 289.37,522.4 289.49,522.4 289.61,522.4 289.73,522.4 289.84,522.4 289.96,522.4 290.08,522.4 290.20,522.4 290.32,522.4 290.44,522.3 290.56,522.3 290.67,522.3 290.79,522.3 290.91,522.3 291.03,522.3 291.15,522.3 291.27,522.3 291.39,522.3 291.50,522.3 291.62,522.3 291.74,522.3 291.86,522.3 291.98,522.3 292.10,522.2 292.22,522.2 292.33,522.2 292.45,522.2 292.57,522.2 292.69,522.2 292.81,522.2 292.93,522.2 293.04,522.2 293.16,522.2 293.28,522.1 293.40,522.1 293.52,522.1 293.64,522.1 293.76,522.1 293.87,522.1 293.99,522.1 294.11,522.1 294.23,522.0 294.35,522.0 294.47,522.0 294.59,522.0 294.70,522.0 294.82,522.0 294.94,522.0 295.06,521.9 295.18,521.9 295.30,521.9 295.42,521.9 295.53,521.9 295.65,521.8 295.77,521.8 295.89,521.8 296.01,521.8 296.13,521.8 296.25,521.7 296.36,521.7 296.48,521.7 296.60,521.7 296.72,521.6 296.84,521.6 296.96,521.6 297.08,521.5 297.19,521.5 297.31,521.5 297.43,521.4 297.55,521.4 297.67,521.4 297.79,521.3 297.90,521.3 298.02,521.2 298.14,521.2 298.26,521.1 298.38,521.1 298.50,521.0 298.62,521.0 298.73,520.9 298.85,520.8 298.97,520.8 299.09,520.7 299.21,520.6 299.33,520.5 299.45,520.4 299.56,520.3 299.68,520.2 299.80,520.1 299.92,519.9 300.04,519.8 300.16,519.6 300.28,519.4 300.39,519.2 300.51,519.0 300.63,518.7 300.75,518.4 300.87,518.1 300.99,517.7 301.11,517.2 301.22,516.7 301.34,516.0 301.46,515.2 301.58,514.2 301.70,512.9 301.82,511.0 301.93,508.4 302.05,504.3 302.17,497.1 302.21,493.8 302.29,481.6 302.34,469.2 302.40,437.9 302.41,433.9 302.44,415.3 302.47,402.6 302.50,415.3 302.53,433.9 302.53,437.9 302.60,469.2 302.65,481.6 302.73,493.8 302.76,497.1 302.88,504.3 303.00,508.4 303.12,511.0 303.24,512.9 303.36,514.2 303.48,515.2 303.59,516.0 303.71,516.7 303.83,517.2 303.95,517.7 304.07,518.1 304.19,518.4 304.31,518.7 304.42,519.0 304.54,519.2 304.66,519.4 304.78,519.6 304.90,519.8 305.02,519.9 305.14,520.1 305.25,520.2 305.37,520.3 305.49,520.4 305.61,520.5 305.73,520.6 305.85,520.7 305.97,520.8 306.08,520.8 306.20,520.9 306.32,521.0 306.44,521.0 306.56,521.1 306.68,521.1 306.79,521.2 306.91,521.2 307.03,521.3 307.15,521.3 307.27,521.4 307.39,521.4 307.51,521.4 307.62,521.5 307.74,521.5 307.86,521.5 307.98,521.6 308.10,521.6 308.22,521.6 308.34,521.7 308.45,521.7 308.57,521.7 308.69,521.7 308.81,521.8 308.93,521.8 309.05,521.8 309.17,521.8 309.28,521.8 309.40,521.9 309.52,521.9 309.64,521.9 309.76,521.9 309.88,521.9 310.00,522.0 310.11,522.0 310.23,522.0 310.35,522.0 310.47,522.0 310.59,522.0 310.71,522.0 310.82,522.1 310.94,522.1 311.06,522.1 311.18,522.1 311.30,522.1 311.42,522.1 311.54,522.1 311.65,522.1 311.77,522.2 311.89,522.2 312.01,522.2 312.13,522.2 312.25,522.2 312.37,522.2 312.48,522.2 312.60,522.2 312.72,522.2 312.84,522.2 312.96,522.2 313.08,522.3 313.20,522.3 313.31,522.3 313.43,522.3 313.55,522.3 313.67,522.3 313.79,522.3 313.91,522.3 314.03,522.3 314.14,522.3 314.26,522.3 314.38,522.3 314.50,522.3 314.62,522.4 314.74,522.4 314.86,522.4 314.97,522.4 315.09,522.4 315.21,522.4 315.33,522.4 315.45,522.4 315.57,522.4 315.68,522.4 315.80,522.4 315.92,522.4 316.04,522.4 316.16,522.4 316.28,522.4 316.40,522.4 316.51,522.4 316.63,522.4 316.75,522.4 316.87,522.5 316.99,522.5 317.11,522.5 317.23,522.5 317.34,522.5 317.46,522.5 317.58,522.5 317.70,522.5 317.82,522.5 317.94,522.5 318.06,522.5 318.17,522.5 318.29,522.5 318.41,522.5 318.53,522.5 318.65,522.5 318.77,522.5 318.89,522.5 319.00,522.5 319.12,522.5 319.24,522.5 319.36,522.5 319.48,522.5 319.60,522.5 319.71,522.5 319.83,522.5 319.95,522.5 320.07,522.6 320.19,522.6 320.31,522.6 320.43,522.6 320.54,522.6 320.66,522.6 320.78,522.6 320.90,522.6 321.02,522.6 321.14,522.6 321.26,522.6 321.37,522.6 321.49,522.6 321.61,522.6 321.73,522.6 321.85,522.6 321.97,522.6 322.09,522.6 322.20,522.6 322.32,522.6 322.44,522.6 322.56,522.6 322.68,522.6 322.80,522.6 322.92,522.6 323.03,522.6 323.15,522.6 323.27,522.6 323.39,522.6 323.51,522.6 323.63,522.6 323.75,522.6 323.86,522.6 323.98,522.6 324.10,522.6 324.22,522.6 324.34,522.6 324.46,522.6 324.57,522.6 324.69,522.6 324.81,522.6 324.93,522.6 325.05,522.6 325.17,522.7 325.29,522.7 325.40,522.7 325.52,522.7 325.64,522.7 325.76,522.7 325.88,522.7 326.00,522.7 326.12,522.7 326.23,522.7 326.35,522.7 326.47,522.7 326.59,522.7 326.71,522.7 326.83,522.7 326.95,522.7 327.06,522.7 327.18,522.7 327.30,522.7 327.42,522.7 327.54,522.7 327.66,522.7 327.78,522.7 327.89,522.7 328.01,522.7 328.13,522.7 328.25,522.7 328.37,522.7 328.49,522.7 328.60,522.7 328.72,522.7 328.84,522.7 328.96,522.7 329.08,522.7 329.20,522.7 329.32,522.7 329.43,522.7 329.55,522.7 329.67,522.7 329.79,522.7 329.91,522.7 330.03,522.7 330.15,522.7 330.26,522.7 330.38,522.7 330.50,522.7 330.62,522.7 330.74,522.7 330.86,522.7 330.98,522.7 331.09,522.7 331.21,522.7 331.33,522.7 331.45,522.7 331.57,522.7 331.69,522.7 331.81,522.7 331.92,522.7 332.04,522.7 332.16,522.7 332.28,522.7 332.40,522.7 332.52,522.7 332.64,522.7 332.75,522.7 332.87,522.7 332.99,522.7 333.11,522.7 333.23,522.7 333.35,522.7 333.46,522.7 333.58,522.7 333.70,522.7 333.82,522.7 333.94,522.7 334.06,522.7 334.18,522.7 334.29,522.7 334.41,522.7 334.53,522.7 334.65,522.7 334.77,522.8 334.89,522.8 335.01,522.8 335.12,522.8 335.24,522.8 335.36,522.8 335.48,522.8 335.60,522.8 335.72,522.8 335.84,522.8 335.95,522.8 336.07,522.8 336.19,522.8 336.31,522.8 336.43,522.8 336.55,522.8 336.67,522.8 336.78,522.8 336.90,522.8 337.02,522.8 337.14,522.8 337.26,522.8 337.38,522.8 337.49,522.8 337.61,522.8 337.73,522.8 337.85,522.8 337.97,522.8 338.09,522.8 338.21,522.8 338.32,522.8 338.44,522.8 338.56,522.8 338.68,522.8 338.80,522.8 338.92,522.8 339.04,522.8 339.15,522.8 339.27,522.8 339.39,522.8 339.51,522.8 339.63,522.8 339.75,522.8 339.87,522.8 339.98,522.8 340.10,522.8 340.22,522.8 340.34,522.8 340.46,522.8 340.58,522.8 340.70,522.8 340.81,522.8 340.93,522.8 341.05,522.8 341.17,522.8 341.29,522.8 341.41,522.8 341.53,522.8 341.64,522.8 341.76,522.8 341.88,522.8 342.00,522.8 342.12,522.8 342.24,522.8 342.35,522.8 342.47,522.8 342.59,522.8 342.71,522.8 342.83,522.8 342.95,522.8 343.07,522.8 343.18,522.8 343.30,522.8 343.42,522.8 343.54,522.8 343.66,522.8 343.78,522.8 343.90,522.8 344.01,522.8 344.13,522.8 344.25,522.7 344.37,522.7 344.49,522.7 344.61,522.7 344.73,522.7 344.84,522.7 344.96,522.7 345.08,522.6 345.18,522.5 345.20,522.5 345.31,522.3 345.32,522.3 345.37,522.0 345.40,521.8 345.44,521.7 345.47,521.8 345.50,522.0 345.56,522.3 345.57,522.3 345.67,522.5 345.70,522.5 345.79,522.6 345.91,522.7 346.03,522.7 346.15,522.7 346.27,522.7 346.38,522.7 346.50,522.8 346.62,522.8 346.74,522.8 346.86,522.8 346.98,522.8 347.10,522.8 347.21,522.8 347.33,522.8 347.45,522.8 347.57,522.8 347.69,522.8 347.81,522.8 347.93,522.8 348.04,522.8 348.16,522.8 348.28,522.8 348.40,522.8 348.52,522.8 348.64,522.8 348.76,522.8 348.87,522.8 348.99,522.8 349.11,522.8 349.23,522.8 349.35,522.8 349.47,522.8 349.59,522.8 349.70,522.8 349.82,522.8 349.94,522.8 350.06,522.8 350.18,522.8 350.30,522.8 350.42,522.8 350.53,522.8 350.65,522.8 350.77,522.8 350.89,522.8 351.01,522.8 351.13,522.8 351.24,522.8 351.36,522.8 351.48,522.8 351.60,522.8 351.72,522.8 351.84,522.8 351.96,522.8 352.07,522.8 352.19,522.8 352.31,522.8 352.43,522.8 352.55,522.8 352.67,522.8 352.79,522.8 352.90,522.8 353.02,522.8 353.14,522.8 353.26,522.8 353.38,522.8 353.50,522.8 353.62,522.8 353.73,522.8 353.85,522.8 353.97,522.8 354.09,522.8 354.21,522.8 354.33,522.8 354.45,522.8 354.56,522.8 354.68,522.8 354.80,522.8 354.92,522.8 355.04,522.8 355.16,522.8 355.27,522.8 355.39,522.8 355.51,522.8 355.63,522.8 355.75,522.8 355.87,522.8 355.99,522.8 356.10,522.8 356.22,522.8 356.34,522.8 356.46,522.8 356.58,522.8 356.70,522.8 356.82,522.8 356.93,522.8 357.05,522.8 357.17,522.9 357.29,522.9 357.41,522.9 357.53,522.9 357.65,522.9 357.76,522.9 357.88,522.9 358.00,522.9 358.12,522.9 358.24,522.9 358.36,522.9 358.48,522.9 358.59,522.9 358.71,522.9 358.83,522.9 358.95,522.9 359.07,522.9 359.19,522.9 359.31,522.9 359.42,522.9 359.54,522.9 359.66,522.9 359.78,522.9 359.90,522.9 360.02,522.9 360.13,522.9 360.25,522.9 360.37,522.9 360.49,522.9 360.61,522.9 360.73,522.9 360.85,522.9 360.96,522.9 361.08,522.9 361.20,522.9 361.32,522.9 361.44,522.9 361.56,522.9 361.68,522.9 361.79,522.9 361.91,522.9 362.03,522.9 362.15,522.9 362.27,522.9 362.39,522.9 362.51,522.9 362.62,522.9 362.74,522.9 362.86,522.9 362.98,522.9 363.10,522.9 363.22,522.9 363.34,522.9 363.45,522.9 363.57,522.9 363.69,522.9 363.81,522.9 363.93,522.9 364.05,522.9 364.16,522.9 364.28,522.9 364.40,522.9 364.52,522.9 364.64,522.9 364.76,522.9 364.88,522.9 364.99,522.9 365.11,522.9 365.23,522.9 365.35,522.9 365.47,522.9 365.59,522.9 365.71,522.9 365.82,522.9 365.94,522.9 366.06,522.9 366.18,522.9 366.30,522.9 366.42,522.9 366.54,522.9 366.65,522.9 366.77,522.9 366.89,522.9 367.01,522.9 367.13,522.9 367.25,522.9 367.37,522.9 367.48,522.9 367.60,522.9 367.72,522.9 367.84,522.9 367.96,522.9 368.08,522.9 368.20,522.9 368.31,522.9 368.43,522.9 368.55,522.9 368.67,522.9 368.79,522.9 368.91,522.9 369.02,522.9 369.14,522.9 369.26,522.9 369.38,522.9 369.50,522.9 369.62,522.9 369.74,522.9 369.85,522.9 369.97,522.9 370.09,522.9 370.21,522.9 370.33,522.9 370.45,522.9 370.57,522.9 370.68,522.9 370.80,522.9 370.92,522.9 371.04,522.9 371.16,522.9 371.28,522.9 371.40,522.9 371.51,522.9 371.63,522.9 371.75,522.9 371.87,522.9 371.99,522.9 372.11,522.9 372.23,522.9 372.34,522.9 372.46,522.9 372.58,522.9 372.70,522.9 372.82,522.9 372.94,522.9 373.05,522.9 373.17,522.9 373.29,522.9 373.41,522.9 373.53,522.9 373.65,522.9 373.77,522.9 373.88,522.9 374.00,522.9 374.12,522.9 374.24,522.9 374.36,522.9 374.48,522.9 374.60,522.9 374.71,522.9 374.83,522.9 374.95,522.9 375.07,522.9 375.19,522.9 375.31,522.9 375.43,522.9 375.54,522.9 375.66,522.9 375.78,522.9 375.90,522.9 376.02,522.9 376.14,522.9 376.26,522.9 376.37,522.9 376.49,522.9 376.61,522.9 376.73,522.9 376.85,522.9 376.97,522.9 377.09,522.9 377.20,522.9 377.32,522.9 377.44,522.9 377.56,522.9 377.68,522.9 377.80,522.9 377.91,522.9 378.03,522.9 378.15,522.9 378.27,522.9 378.39,522.9 378.51,522.9 378.63,522.9 378.74,522.9 378.86,522.9 378.98,522.9 379.10,522.9 379.22,522.9 379.34,522.9 379.46,522.9 379.57,522.9 379.69,522.9 379.81,522.9 379.93,522.9 380.05,522.9 380.17,522.9 380.29,522.9 380.40,522.9 380.52,522.9 380.64,522.9 380.76,522.9 380.88,522.9 381.00,522.9 381.12,522.9 381.23,522.9 381.35,522.9 381.47,522.9 381.59,522.9 381.71,522.9 381.83,522.9 381.94,522.9 382.06,522.9 382.18,522.9 382.30,522.9 382.42,522.9 382.54,522.9 382.66,522.9 382.77,522.9 382.89,522.9 383.01,522.9 383.13,522.9 383.25,522.9 383.37,522.9 383.49,522.9 383.60,522.9 383.72,522.9 383.84,522.9 383.96,522.9 384.08,522.9 384.20,522.9 384.32,522.9 384.43,522.9 384.55,522.9 384.67,522.9 384.79,522.9 384.91,522.9 385.03,522.9 385.15,522.9 385.26,522.9 385.38,522.9 385.50,522.9 385.62,522.9 385.74,522.9 385.86,522.9 385.98,522.9 386.09,522.9 386.21,522.9 386.33,522.9 386.45,522.9 386.57,522.9 386.69,522.9 386.80,522.9 386.92,522.9 387.04,522.9 387.16,522.9 387.28,522.9 387.40,522.9 387.52,522.9 387.63,522.9 387.75,522.9 387.87,522.9 387.99,522.9 388.11,522.9 388.23,522.9 388.35,522.9 388.46,522.9 388.58,522.9 388.70,522.9 388.82,522.9 388.94,522.9 389.06,522.9 389.18,522.9 389.29,522.9 389.41,522.9 389.53,522.9 389.65,522.9 389.77,522.9 389.89,522.9 390.01,522.9 390.12,522.9 390.24,522.9 390.36,522.9 390.48,522.9 390.60,522.9 390.72,522.9 390.83,522.9 390.95,522.9 391.07,522.9 391.19,522.9 391.31,522.9 391.43,522.9 391.55,522.9 391.66,522.9 391.78,522.9 391.90,522.9 392.02,522.9 392.14,522.9 392.26,522.9 392.38,522.9 392.49,522.9 392.61,522.9 392.73,522.9 392.85,522.9 392.97,522.9 393.09,522.9 393.21,522.9 393.32,522.9 393.44,522.9 393.56,522.9 393.68,522.9 393.80,522.9 393.92,522.9 394.04,522.9 394.15,522.9 394.27,522.9 394.39,522.9 394.51,522.9 394.63,522.9 394.75,522.9 394.87,522.9 394.98,522.9 395.10,522.9 395.22,522.9 395.34,522.9 395.46,522.9 395.58,522.9 395.69,522.9 395.81,522.9 395.93,522.9 396.05,522.9 396.17,522.9 396.29,522.9 396.41,522.9 396.52,522.9 396.64,522.9 396.76,522.9 396.88,522.9 397.00,522.9 397.12,522.9 397.24,522.9 397.35,522.9 397.47,522.9 397.59,522.9 397.71,522.9 397.83,522.9 397.95,522.9 398.07,522.9 398.18,522.9 398.30,522.9 398.42,522.9 398.54,522.9 398.66,522.9 398.78,522.9 398.90,522.9 399.01,522.9 399.13,522.9 399.25,522.9 399.37,522.9 399.49,522.9 399.61,522.9 399.72,522.9 399.84,522.9 399.96,522.9 400.08,522.9 400.20,522.9 400.32,522.9 400.44,522.9 400.55,522.9 400.67,522.9 400.79,522.9 400.91,522.9 401.03,522.9 401.15,522.9 401.27,522.9 401.38,522.9 401.50,522.9 401.62,522.9 401.74,522.9 401.86,522.9 401.98,522.9 402.10,522.9 402.21,522.9 402.33,522.9 402.45,522.9 402.57,522.9 402.69,522.9 402.81,522.9 402.93,522.9 403.04,522.9 403.16,522.9 403.28,522.9 403.40,522.9 403.52,522.9 403.64,522.9 403.76,522.9 403.87,522.9 403.99,522.9 404.11,522.9 404.23,522.9 404.35,522.9 404.47,522.9 404.58,522.9 404.70,522.9 404.82,522.9 404.94,522.9 405.06,522.9 405.18,522.9 405.30,522.9 405.41,522.9 405.53,522.9 405.65,522.9 405.77,522.9 405.89,522.9 406.01,522.9 406.13,522.9 406.24,522.9 406.36,522.9 406.48,522.9 406.60,522.9 406.72,522.9 406.84,522.9 406.96,522.9 407.07,522.9 407.19,522.9 407.31,522.9 407.43,522.9 407.55,522.9 407.67,522.9 407.79,522.9 407.90,522.9 408.02,522.9 408.14,522.9 408.26,522.9 408.38,522.9 408.50,522.9 408.61,522.9 408.73,522.9 408.85,522.9 408.97,522.9 409.09,522.9 409.21,522.9 409.33,522.9 409.44,522.9 409.56,522.9 409.68,522.9 409.80,522.9 409.92,522.9 410.04,522.9 410.16,522.9 410.27,522.9 410.39,522.9 410.51,522.9 410.63,522.9 410.75,522.9 410.87,522.9 410.99,522.9 411.10,522.9 411.22,522.9 411.34,522.9 411.46,522.9 411.58,522.9 411.70,522.9 411.82,522.9 411.93,522.9 412.05,522.9 412.17,522.9 412.29,522.9 412.41,522.9 412.53,522.9 412.65,522.9 412.76,522.9 412.88,522.9 413.00,522.9 413.12,522.9 413.24,522.9 413.36,522.9 413.47,522.9 413.59,522.9 413.71,522.9 413.83,522.9 413.95,522.9 414.07,522.9 414.19,522.9 414.30,522.9 414.42,522.9 414.54,522.9 414.66,522.9 414.78,522.9 414.90,522.9 415.02,522.9 415.13,522.9 415.25,522.9 415.37,522.9 415.49,522.9 415.61,522.9 415.73,522.9 415.85,522.9 415.96,522.9 416.08,522.9 416.20,522.9 416.32,522.9 416.44,522.9 416.56,522.9 416.68,522.9 416.79,522.9 416.91,522.9 417.03,522.9 417.15,522.9 417.27,522.9 417.39,522.9 417.50,522.9 417.62,522.9 417.74,522.9 417.86,522.9 417.98,522.9 418.10,522.9 418.22,522.9 418.33,522.9 418.45,522.9 418.57,522.9 418.69,522.9 418.81,522.9 418.93,522.9 419.05,522.9 419.16,522.9 419.28,522.9 419.40,522.9 419.52,522.9 419.64,522.9 419.76,522.9 419.88,522.9 419.99,522.9 420.11,522.9 420.23,522.9 420.35,522.9 420.47,522.9 420.59,522.9 420.71,522.9 420.82,522.9 420.94,522.9 421.06,522.9 421.18,522.9 421.30,522.9 421.42,522.9 421.54,522.9 421.65,522.9 421.77,522.9 421.89,522.9 422.01,522.9 422.13,522.9 422.25,522.9 422.36,522.9 422.48,522.9 422.60,522.9 422.72,522.9 422.84,522.9 422.96,522.9 423.08,522.9 423.19,522.9 423.31,522.9 423.43,522.9 423.55,522.9 423.67,522.9 423.79,522.9 423.91,522.9 424.02,522.9 424.14,522.9 424.26,522.9 424.38,522.9 424.50,522.9 424.62,522.9 424.74,522.9 424.85,522.9 424.97,522.9 425.09,522.9 425.21,522.9 425.33,522.9 425.45,522.9 425.57,522.9 425.68,522.9 425.80,522.9 425.92,522.9 426.04,522.9 426.16,522.9 426.28,522.9 426.39,522.9 426.51,522.9 426.63,522.9 426.75,522.9 426.87,522.9 426.99,522.9 427.11,522.9 427.22,522.9 427.34,522.9 427.46,522.9 427.58,522.9 427.70,522.9 427.82,522.9 427.94,522.9 428.05,522.9 428.17,522.9 428.29,522.9 428.41,522.9 428.53,522.9 428.65,522.9 428.77,522.9 428.88,522.9 429.00,522.9 429.12,522.9 429.24,522.9 429.36,522.9 429.48,522.9 429.60,522.9 429.71,522.9 429.83,522.9 429.95,522.9 430.07,522.9 430.19,522.9 430.31,522.9 430.43,522.9 430.54,522.9 430.66,522.9 430.78,522.9 430.90,522.9 431.02,522.9 431.14,522.9 431.25,522.9 431.37,522.9 431.49,522.9 431.61,522.9 431.73,522.9 431.85,522.9 431.97,522.9 432.08,522.9 432.20,522.9 432.32,522.9 432.44,522.9 432.56,522.9 432.68,522.9 432.80,522.9 432.91,522.9 433.03,522.9 433.15,522.9 433.27,522.9 433.39,522.9 433.51,522.9 433.63,522.9 433.74,522.9 433.86,522.9 433.98,522.9 434.10,522.9 434.22,522.9 434.34,522.9 434.46,522.9 434.57,522.9 434.69,522.9 434.81,522.9 434.93,522.9 435.05,522.9 435.17,522.9 435.28,522.9 435.40,522.9 435.52,522.9 435.64,522.9 435.76,522.9 435.88,522.9 436.00,522.9 436.11,522.9 436.23,522.9 436.35,522.9 436.47,522.9 436.59,522.9 436.71,522.9 436.83,522.9 436.94,522.9 437.06,522.9 437.18,522.9 437.30,522.9" class="sp"/>
<line x1="259.50" y1="523.0" x2="259.50" y2="521.2" class="tk"/>
<line x1="259.50" y1="381.4" x2="259.50" y2="383.2" class="tk"/>
<line x1="289.13" y1="523.0" x2="289.13" y2="521.2" class="tk"/>
<line x1="289.13" y1="381.4" x2="289.13" y2="383.2" class="tk"/>
<line x1="318.77" y1="523.0" x2="318.77" y2="521.2" class="tk"/>
<line x1="318.77" y1="381.4" x2="318.77" y2="383.2" class="tk"/>
<line x1="348.40" y1="523.0" x2="348.40" y2="521.2" class="tk"/>
<line x1="348.40" y1="381.4" x2="348.40" y2="383.2" class="tk"/>
<line x1="378.03" y1="523.0" x2="378.03" y2="521.2" class="tk"/>
<line x1="378.03" y1="381.4" x2="378.03" y2="383.2" class="tk"/>
<line x1="407.67" y1="523.0" x2="407.67" y2="521.2" class="tk"/>
<line x1="407.67" y1="381.4" x2="407.67" y2="383.2" class="tk"/>
<line x1="437.30" y1="523.0" x2="437.30" y2="521.2" class="tk"/>
<line x1="437.30" y1="381.4" x2="437.30" y2="383.2" class="tk"/>
<line x1="259.5" y1="523.00" x2="261.3" y2="523.00" class="tk"/>
<line x1="437.3" y1="523.00" x2="435.5" y2="523.00" class="tk"/>
<line x1="259.5" y1="494.68" x2="261.3" y2="494.68" class="tk"/>
<line x1="437.3" y1="494.68" x2="435.5" y2="494.68" class="tk"/>
<line x1="259.5" y1="466.36" x2="261.3" y2="466.36" class="tk"/>
<line x1="437.3" y1="466.36" x2="435.5" y2="466.36" class="tk"/>
<line x1="259.5" y1="438.04" x2="261.3" y2="438.04" class="tk"/>
<line x1="437.3" y1="438.04" x2="435.5" y2="438.04" class="tk"/>
<line x1="259.5" y1="409.72" x2="261.3" y2="409.72" class="tk"/>
<line x1="437.3" y1="409.72" x2="435.5" y2="409.72" class="tk"/>
<line x1="259.5" y1="381.40" x2="261.3" y2="381.40" class="tk"/>
<line x1="437.3" y1="381.40" x2="435.5" y2="381.40" class="tk"/>
<rect x="259.5" y="381.4" width="177.80" height="141.60" class="box"/>
<text x="259.50" y="534.40" class="t" text-anchor="middle">0</text>
<text x="289.13" y="534.40" class="t" text-anchor="middle">0.5</text>
<text x="318.77" y="534.40" class="t" text-anchor="middle">1</text>
<text x="348.40" y="534.40" class="t" text-anchor="middle">1.5</text>
<text x="378.03" y="534.40" class="t" text-anchor="middle">2</text>
<text x="407.67" y="534.40" class="t" text-anchor="middle">2.5</text>
<text x="437.30" y="534.40" class="t" text-anchor="middle">3</text>
<text x="256.10" y="525.70" class="t" text-anchor="end">0</text>
<text x="256.10" y="497.38" class="t" text-anchor="end">0.2</text>
<text x="256.10" y="469.06" class="t" text-anchor="end">0.4</text>
<text x="256.10" y="440.74" class="t" text-anchor="end">0.6</text>
<text x="256.10" y="412.42" class="t" text-anchor="end">0.8</text>
<text x="256.10" y="384.10" class="t" text-anchor="end">1</text>
<text x="348.40" y="547.50" class="l" text-anchor="middle" xml:space="preserve" textLength="81.5">frequency ratio    <tspan font-style="italic">ω</tspan>/Ω</text>
<text transform="translate(239.30,452.20) rotate(-90)" class="l" text-anchor="middle" textLength="101.8">dimensionless z-amplitude</text>
<text x="235.5" y="378" class="l">(f)</text>
<text x="301.97" y="395.70" class="a" text-anchor="middle"><tspan font-style="italic">ω</tspan>/Ω = 0.725</text>
<text x="345.44" y="510.00" class="a" text-anchor="middle"><tspan font-style="italic">ω</tspan>/Ω = 1.45</text>
</svg></body></html>
